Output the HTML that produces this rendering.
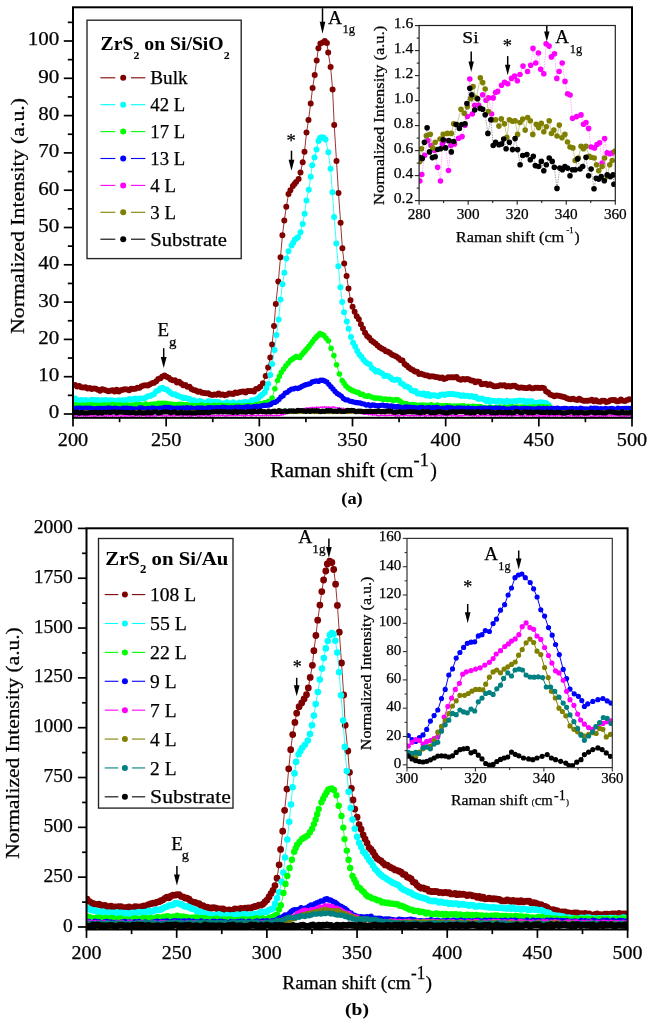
<!DOCTYPE html><html><head><meta charset="utf-8"><title>ZrS2 Raman spectra</title><style>html,body{margin:0;padding:0;background:#fff;width:651px;height:1024px;overflow:hidden}svg{display:block}</style></head><body><svg width="651" height="1024" viewBox="0 0 651 1024" font-family="'Liberation Serif', 'DejaVu Serif', serif"><style>text{stroke:#000;stroke-width:0.25px}text[font-weight=bold]{stroke-width:0.05px}</style><rect width="651" height="1024" fill="#fff"/><defs><clipPath id="ca"><rect x="73" y="7.3" width="559" height="412.0"/></clipPath><clipPath id="cb"><rect x="86.5" y="528.3" width="541.1" height="402.70000000000005"/></clipPath><clipPath id="cia"><rect x="419.1" y="25.5" width="196.19999999999993" height="175.2"/></clipPath><clipPath id="cib"><rect x="407.0" y="538.4" width="205.29999999999995" height="229.20000000000005"/></clipPath></defs><g clip-path="url(#ca)"><path d="M73 384.95 L75.08 385.11 L77.16 386.61 L79.24 385.96 L81.32 387.34 L83.4 387.41 L85.48 387.21 L87.56 388.53 L89.64 388 L91.72 389.04 L93.8 388.52 L95.88 388.77 L97.96 389.65 L100.04 390.66 L102.12 389.35 L104.2 389.66 L106.28 390.57 L108.36 391.31 L110.44 390.66 L112.52 390.34 L114.6 391.54 L116.68 389.73 L118.76 391.39 L120.84 390.18 L122.92 389.64 L125 389.34 L127.08 389.47 L129.16 390.23 L131.24 388.63 L133.32 389.03 L135.4 388.75 L137.48 387.82 L139.56 387.78 L141.64 386.22 L143.72 385.57 L145.8 385.21 L147.88 385.52 L149.96 384.37 L152.04 383.23 L154.12 382.86 L156.2 381.17 L158.28 379.08 L160.36 378.32 L162.44 376.61 L164.52 375.49 L166.6 376.69 L168.68 377.79 L170.76 379.59 L172.84 380.24 L174.92 380.29 L177 382.61 L179.08 381.82 L181.16 383.42 L183.24 385.13 L185.32 384.96 L187.4 386.68 L189.48 386.82 L191.56 388.96 L193.64 389.99 L195.72 390.43 L197.8 391.87 L199.88 391.58 L201.96 392.73 L204.04 392.89 L206.12 393.22 L208.2 393.33 L210.28 394.46 L212.36 395.03 L214.44 394.45 L216.52 394.87 L218.6 393.58 L220.68 394.78 L222.76 394.58 L224.84 395.19 L226.92 394.77 L229 393.61 L231.08 393.64 L233.16 393.96 L235.24 392.42 L237.32 393.04 L239.4 392.21 L241.48 391.84 L243.56 391.46 L245.64 392.6 L247.72 391.06 L249.8 391.02 L251.88 390.94 L253.96 391.53 L256.04 389.07 L258.12 388.42 L260.2 386.66 L262.9 383.2 L265.7 375.9 L268.1 367.6 L270.3 357.4 L272.1 344.5 L274 326 L275.8 304 L278.3 281.6 L280.5 257.3 L282.4 235.3 L284.3 220.5 L286.3 206.8 L288.5 194.1 L290.4 190.3 L292.9 185.9 L294.5 184 L296.1 182.1 L298.6 178.9 L300.5 172.5 L302.7 162.2 L304.5 151.8 L306.5 132.6 L308.5 120.1 L310.7 103.4 L312.6 87.9 L314.7 74.9 L316.7 60.4 L318.4 48.2 L320.4 43.6 L322.7 42.4 L324.8 40.9 L326.9 42.9 L328.2 52.6 L330.6 67.1 L332.6 89.4 L334.2 125 L336.5 161.1 L338.5 192.9 L340.6 222.8 L342.4 248.2 L344.2 263.5 L346.6 275.9 L348.5 288.5 L350.5 300.3 L352.58 306.69 L354.66 311.63 L356.74 316.31 L358.82 319.3 L360.9 324.18 L362.98 328.5 L365.06 332.69 L367.14 336.05 L369.22 337.71 L371.3 340.59 L373.38 342.1 L375.46 343.5 L377.54 345.45 L379.62 347.35 L381.7 348.39 L383.78 349.54 L385.86 351.17 L387.94 351.87 L390.02 353.06 L392.1 354.63 L394.18 355.44 L396.26 356.49 L398.34 358.09 L400.42 359.95 L402.5 360.52 L404.58 364.03 L406.66 365.6 L408.74 367.55 L410.82 369.12 L412.9 370.04 L414.98 371.39 L417.06 371.84 L419.14 373.94 L421.22 373.83 L423.3 374.61 L425.38 375.3 L427.46 375.62 L429.54 376.38 L431.62 376.21 L433.7 376.48 L435.78 377.05 L437.86 377.21 L439.94 378 L442.02 377.52 L444.1 379.04 L446.18 378.35 L448.26 377.24 L450.34 377.27 L452.42 377.28 L454.5 377.14 L456.58 377.05 L458.66 378.92 L460.74 379.64 L462.82 379.01 L464.9 379.47 L466.98 379.08 L469.06 379.52 L471.14 380.41 L473.22 380.66 L475.3 382.2 L477.38 381.4 L479.46 381.74 L481.54 384.21 L483.62 383.98 L485.7 383.84 L487.78 385.04 L489.86 384.15 L491.94 385.29 L494.02 386.32 L496.1 386.23 L498.18 386.01 L500.26 385.21 L502.34 385.49 L504.42 385.16 L506.5 386.43 L508.58 386.02 L510.66 386.58 L512.74 385.75 L514.82 385.72 L516.9 387.09 L518.98 387.64 L521.06 387.57 L523.14 387.67 L525.22 387.92 L527.3 388.06 L529.38 387.32 L531.46 388.19 L533.54 388.15 L535.62 387.79 L537.7 387.68 L539.78 387.94 L541.86 387.67 L543.94 388.3 L546.02 391.34 L548.1 392.6 L550.18 394.42 L552.26 395.37 L554.34 396.15 L556.42 395.51 L558.5 395.74 L560.58 396.27 L562.66 396.73 L564.74 397.14 L566.82 398.25 L568.9 399.07 L570.98 399.22 L573.06 398.77 L575.14 399.39 L577.22 399.95 L579.3 398.72 L581.38 400.05 L583.46 400.73 L585.54 400.66 L587.62 400.77 L589.7 400.38 L591.78 399.87 L593.86 401.19 L595.94 400.36 L598.02 401.39 L600.1 401.82 L602.18 400.76 L604.26 400.86 L606.34 401.94 L608.42 401.39 L610.5 400.17 L612.58 399.98 L614.66 399.92 L616.74 401.32 L618.82 401.02 L620.9 399.54 L622.98 400.74 L625.06 400.88 L627.14 400.07 L629.22 399.3 L631.3 399.53" fill="none" stroke="#800000" stroke-width="0.8"/><path d="M73 384.95h0M75.08 385.11h0M77.16 386.61h0M79.24 385.96h0M81.32 387.34h0M83.4 387.41h0M85.48 387.21h0M87.56 388.53h0M89.64 388h0M91.72 389.04h0M93.8 388.52h0M95.88 388.77h0M97.96 389.65h0M100.04 390.66h0M102.12 389.35h0M104.2 389.66h0M106.28 390.57h0M108.36 391.31h0M110.44 390.66h0M112.52 390.34h0M114.6 391.54h0M116.68 389.73h0M118.76 391.39h0M120.84 390.18h0M122.92 389.64h0M125 389.34h0M127.08 389.47h0M129.16 390.23h0M131.24 388.63h0M133.32 389.03h0M135.4 388.75h0M137.48 387.82h0M139.56 387.78h0M141.64 386.22h0M143.72 385.57h0M145.8 385.21h0M147.88 385.52h0M149.96 384.37h0M152.04 383.23h0M154.12 382.86h0M156.2 381.17h0M158.28 379.08h0M160.36 378.32h0M162.44 376.61h0M164.52 375.49h0M166.6 376.69h0M168.68 377.79h0M170.76 379.59h0M172.84 380.24h0M174.92 380.29h0M177 382.61h0M179.08 381.82h0M181.16 383.42h0M183.24 385.13h0M185.32 384.96h0M187.4 386.68h0M189.48 386.82h0M191.56 388.96h0M193.64 389.99h0M195.72 390.43h0M197.8 391.87h0M199.88 391.58h0M201.96 392.73h0M204.04 392.89h0M206.12 393.22h0M208.2 393.33h0M210.28 394.46h0M212.36 395.03h0M214.44 394.45h0M216.52 394.87h0M218.6 393.58h0M220.68 394.78h0M222.76 394.58h0M224.84 395.19h0M226.92 394.77h0M229 393.61h0M231.08 393.64h0M233.16 393.96h0M235.24 392.42h0M237.32 393.04h0M239.4 392.21h0M241.48 391.84h0M243.56 391.46h0M245.64 392.6h0M247.72 391.06h0M249.8 391.02h0M251.88 390.94h0M253.96 391.53h0M256.04 389.07h0M258.12 388.42h0M260.2 386.66h0M262.9 383.2h0M265.7 375.9h0M268.1 367.6h0M270.3 357.4h0M272.1 344.5h0M274 326h0M275.8 304h0M278.3 281.6h0M280.5 257.3h0M282.4 235.3h0M284.3 220.5h0M286.3 206.8h0M288.5 194.1h0M290.4 190.3h0M292.9 185.9h0M294.5 184h0M296.1 182.1h0M298.6 178.9h0M300.5 172.5h0M302.7 162.2h0M304.5 151.8h0M306.5 132.6h0M308.5 120.1h0M310.7 103.4h0M312.6 87.9h0M314.7 74.9h0M316.7 60.4h0M318.4 48.2h0M320.4 43.6h0M322.7 42.4h0M324.8 40.9h0M326.9 42.9h0M328.2 52.6h0M330.6 67.1h0M332.6 89.4h0M334.2 125h0M336.5 161.1h0M338.5 192.9h0M340.6 222.8h0M342.4 248.2h0M344.2 263.5h0M346.6 275.9h0M348.5 288.5h0M350.5 300.3h0M352.58 306.69h0M354.66 311.63h0M356.74 316.31h0M358.82 319.3h0M360.9 324.18h0M362.98 328.5h0M365.06 332.69h0M367.14 336.05h0M369.22 337.71h0M371.3 340.59h0M373.38 342.1h0M375.46 343.5h0M377.54 345.45h0M379.62 347.35h0M381.7 348.39h0M383.78 349.54h0M385.86 351.17h0M387.94 351.87h0M390.02 353.06h0M392.1 354.63h0M394.18 355.44h0M396.26 356.49h0M398.34 358.09h0M400.42 359.95h0M402.5 360.52h0M404.58 364.03h0M406.66 365.6h0M408.74 367.55h0M410.82 369.12h0M412.9 370.04h0M414.98 371.39h0M417.06 371.84h0M419.14 373.94h0M421.22 373.83h0M423.3 374.61h0M425.38 375.3h0M427.46 375.62h0M429.54 376.38h0M431.62 376.21h0M433.7 376.48h0M435.78 377.05h0M437.86 377.21h0M439.94 378h0M442.02 377.52h0M444.1 379.04h0M446.18 378.35h0M448.26 377.24h0M450.34 377.27h0M452.42 377.28h0M454.5 377.14h0M456.58 377.05h0M458.66 378.92h0M460.74 379.64h0M462.82 379.01h0M464.9 379.47h0M466.98 379.08h0M469.06 379.52h0M471.14 380.41h0M473.22 380.66h0M475.3 382.2h0M477.38 381.4h0M479.46 381.74h0M481.54 384.21h0M483.62 383.98h0M485.7 383.84h0M487.78 385.04h0M489.86 384.15h0M491.94 385.29h0M494.02 386.32h0M496.1 386.23h0M498.18 386.01h0M500.26 385.21h0M502.34 385.49h0M504.42 385.16h0M506.5 386.43h0M508.58 386.02h0M510.66 386.58h0M512.74 385.75h0M514.82 385.72h0M516.9 387.09h0M518.98 387.64h0M521.06 387.57h0M523.14 387.67h0M525.22 387.92h0M527.3 388.06h0M529.38 387.32h0M531.46 388.19h0M533.54 388.15h0M535.62 387.79h0M537.7 387.68h0M539.78 387.94h0M541.86 387.67h0M543.94 388.3h0M546.02 391.34h0M548.1 392.6h0M550.18 394.42h0M552.26 395.37h0M554.34 396.15h0M556.42 395.51h0M558.5 395.74h0M560.58 396.27h0M562.66 396.73h0M564.74 397.14h0M566.82 398.25h0M568.9 399.07h0M570.98 399.22h0M573.06 398.77h0M575.14 399.39h0M577.22 399.95h0M579.3 398.72h0M581.38 400.05h0M583.46 400.73h0M585.54 400.66h0M587.62 400.77h0M589.7 400.38h0M591.78 399.87h0M593.86 401.19h0M595.94 400.36h0M598.02 401.39h0M600.1 401.82h0M602.18 400.76h0M604.26 400.86h0M606.34 401.94h0M608.42 401.39h0M610.5 400.17h0M612.58 399.98h0M614.66 399.92h0M616.74 401.32h0M618.82 401.02h0M620.9 399.54h0M622.98 400.74h0M625.06 400.88h0M627.14 400.07h0M629.22 399.3h0M631.3 399.53h0" stroke="#800000" stroke-width="6" stroke-linecap="round" fill="none"/></g><g clip-path="url(#ca)"><path d="M73 398.46 L75.08 398.47 L77.16 400.62 L79.24 400.21 L81.32 400.1 L83.4 400.99 L85.48 400.06 L87.56 401.01 L89.64 400.99 L91.72 399.83 L93.8 399.99 L95.88 400.14 L97.96 400.11 L100.04 400.87 L102.12 400.2 L104.2 400.5 L106.28 399.9 L108.36 401.44 L110.44 400.3 L112.52 400.49 L114.6 400.72 L116.68 401.34 L118.76 400.35 L120.84 401.28 L122.92 400.31 L125 400.24 L127.08 400.09 L129.16 398.94 L131.24 399.65 L133.32 399 L135.4 398.51 L137.48 399.96 L139.56 398.57 L141.64 398.62 L143.72 398.46 L145.8 397.46 L147.88 396.33 L149.96 396.05 L152.04 394.89 L154.12 394.1 L156.2 391.25 L158.28 390.5 L160.36 388.38 L162.44 387.74 L164.52 389.05 L166.6 389.47 L168.68 391.13 L170.76 392.88 L172.84 394.19 L174.92 394.25 L177 395.59 L179.08 396.37 L181.16 397.09 L183.24 397.93 L185.32 397.93 L187.4 398.57 L189.48 398.94 L191.56 400.34 L193.64 400.34 L195.72 401.17 L197.8 401.78 L199.88 400.89 L201.96 401.68 L204.04 402.61 L206.12 402.57 L208.2 401.33 L210.28 401.47 L212.36 402.27 L214.44 401.7 L216.52 402.2 L218.6 402.03 L220.68 403.34 L222.76 403.57 L224.84 403.79 L226.92 402.31 L229 403.43 L231.08 403.32 L233.16 402.29 L235.24 403.77 L237.32 403.94 L239.4 402.44 L241.48 403.66 L243.56 402.2 L245.64 402.03 L247.72 402.68 L249.8 402.02 L251.88 400.33 L253.96 400.44 L256.04 399.58 L258.12 398.21 L260.2 396.37 L262.28 394.5 L264.7 392.4 L266.4 388.25 L268.1 384.1 L270.3 374.9 L272.1 363.9 L274.5 350 L276.4 334.9 L278.6 319.6 L280.5 299.4 L282.5 284.2 L284.4 272.8 L286.3 258.5 L288.5 251.2 L291.6 245.5 L293.2 242.65 L294.8 239.8 L296.4 238.5 L298 237.2 L300.5 232.2 L302.7 223.9 L304.6 213.8 L306.5 200.4 L308.8 189.7 L310.7 176.8 L312.2 165.3 L314.5 157.6 L316.5 149.5 L318.5 141 L320 138 L321.5 137.2 L323.5 137.5 L325.5 139.5 L328.3 152.2 L330.6 168.8 L332.4 192.3 L334.1 216.9 L336.3 243.6 L338.3 266.3 L340.4 287.2 L342.2 302.1 L344 312.3 L346.8 321.5 L348.6 328.8 L351 337.1 L353.08 342.72 L355.16 346.44 L357.24 351.11 L359.32 354.39 L361.4 356.78 L363.48 359.78 L365.56 361.94 L367.64 363.43 L369.72 364.37 L371.8 368.05 L373.88 369.49 L375.96 371.44 L378.04 371 L380.12 372.61 L382.2 373.45 L384.28 376.07 L386.36 375.83 L388.44 376.32 L390.52 377.68 L392.6 379.42 L394.68 379.92 L396.76 379.48 L398.84 380.02 L400.92 383.28 L403 384.31 L405.08 386.3 L407.16 386.41 L409.24 387.65 L411.32 390.22 L413.4 391 L415.48 391.05 L417.56 393.4 L419.64 393.42 L421.72 394.37 L423.8 393.56 L425.88 395.45 L427.96 394.09 L430.04 395.89 L432.12 395.28 L434.2 395.27 L436.28 395.73 L438.36 396.33 L440.44 394.86 L442.52 394.43 L444.6 395.07 L446.68 394.34 L448.76 393.93 L450.84 393.97 L452.92 393.92 L455 394.4 L457.08 394.8 L459.16 394.97 L461.24 396.05 L463.32 395.3 L465.4 396.06 L467.48 395.75 L469.56 396.43 L471.64 396.11 L473.72 396.91 L475.8 396.78 L477.88 398.68 L479.96 398.79 L482.04 398.55 L484.12 399.6 L486.2 400.99 L488.28 399.82 L490.36 401.64 L492.44 400.86 L494.52 400.99 L496.6 401.67 L498.68 400.79 L500.76 401.01 L502.84 401.38 L504.92 401.96 L507 400.69 L509.08 401.66 L511.16 401.41 L513.24 401.28 L515.32 400.93 L517.4 400.92 L519.48 400.45 L521.56 400.7 L523.64 400.69 L525.72 402.14 L527.8 401.28 L529.88 401.2 L531.96 401.15 L534.04 402.78 L536.12 402.94 L538.2 402.78 L540.28 402.25 L542.36 402.41 L544.44 402.75 L546.52 403.34 L548.6 405.06" fill="none" stroke="#00FFFF" stroke-width="0.8"/><path d="M73 398.46h0M75.08 398.47h0M77.16 400.62h0M79.24 400.21h0M81.32 400.1h0M83.4 400.99h0M85.48 400.06h0M87.56 401.01h0M89.64 400.99h0M91.72 399.83h0M93.8 399.99h0M95.88 400.14h0M97.96 400.11h0M100.04 400.87h0M102.12 400.2h0M104.2 400.5h0M106.28 399.9h0M108.36 401.44h0M110.44 400.3h0M112.52 400.49h0M114.6 400.72h0M116.68 401.34h0M118.76 400.35h0M120.84 401.28h0M122.92 400.31h0M125 400.24h0M127.08 400.09h0M129.16 398.94h0M131.24 399.65h0M133.32 399h0M135.4 398.51h0M137.48 399.96h0M139.56 398.57h0M141.64 398.62h0M143.72 398.46h0M145.8 397.46h0M147.88 396.33h0M149.96 396.05h0M152.04 394.89h0M154.12 394.1h0M156.2 391.25h0M158.28 390.5h0M160.36 388.38h0M162.44 387.74h0M164.52 389.05h0M166.6 389.47h0M168.68 391.13h0M170.76 392.88h0M172.84 394.19h0M174.92 394.25h0M177 395.59h0M179.08 396.37h0M181.16 397.09h0M183.24 397.93h0M185.32 397.93h0M187.4 398.57h0M189.48 398.94h0M191.56 400.34h0M193.64 400.34h0M195.72 401.17h0M197.8 401.78h0M199.88 400.89h0M201.96 401.68h0M204.04 402.61h0M206.12 402.57h0M208.2 401.33h0M210.28 401.47h0M212.36 402.27h0M214.44 401.7h0M216.52 402.2h0M218.6 402.03h0M220.68 403.34h0M222.76 403.57h0M224.84 403.79h0M226.92 402.31h0M229 403.43h0M231.08 403.32h0M233.16 402.29h0M235.24 403.77h0M237.32 403.94h0M239.4 402.44h0M241.48 403.66h0M243.56 402.2h0M245.64 402.03h0M247.72 402.68h0M249.8 402.02h0M251.88 400.33h0M253.96 400.44h0M256.04 399.58h0M258.12 398.21h0M260.2 396.37h0M262.28 394.5h0M264.7 392.4h0M266.4 388.25h0M268.1 384.1h0M270.3 374.9h0M272.1 363.9h0M274.5 350h0M276.4 334.9h0M278.6 319.6h0M280.5 299.4h0M282.5 284.2h0M284.4 272.8h0M286.3 258.5h0M288.5 251.2h0M291.6 245.5h0M293.2 242.65h0M294.8 239.8h0M296.4 238.5h0M298 237.2h0M300.5 232.2h0M302.7 223.9h0M304.6 213.8h0M306.5 200.4h0M308.8 189.7h0M310.7 176.8h0M312.2 165.3h0M314.5 157.6h0M316.5 149.5h0M318.5 141h0M320 138h0M321.5 137.2h0M323.5 137.5h0M325.5 139.5h0M328.3 152.2h0M330.6 168.8h0M332.4 192.3h0M334.1 216.9h0M336.3 243.6h0M338.3 266.3h0M340.4 287.2h0M342.2 302.1h0M344 312.3h0M346.8 321.5h0M348.6 328.8h0M351 337.1h0M353.08 342.72h0M355.16 346.44h0M357.24 351.11h0M359.32 354.39h0M361.4 356.78h0M363.48 359.78h0M365.56 361.94h0M367.64 363.43h0M369.72 364.37h0M371.8 368.05h0M373.88 369.49h0M375.96 371.44h0M378.04 371h0M380.12 372.61h0M382.2 373.45h0M384.28 376.07h0M386.36 375.83h0M388.44 376.32h0M390.52 377.68h0M392.6 379.42h0M394.68 379.92h0M396.76 379.48h0M398.84 380.02h0M400.92 383.28h0M403 384.31h0M405.08 386.3h0M407.16 386.41h0M409.24 387.65h0M411.32 390.22h0M413.4 391h0M415.48 391.05h0M417.56 393.4h0M419.64 393.42h0M421.72 394.37h0M423.8 393.56h0M425.88 395.45h0M427.96 394.09h0M430.04 395.89h0M432.12 395.28h0M434.2 395.27h0M436.28 395.73h0M438.36 396.33h0M440.44 394.86h0M442.52 394.43h0M444.6 395.07h0M446.68 394.34h0M448.76 393.93h0M450.84 393.97h0M452.92 393.92h0M455 394.4h0M457.08 394.8h0M459.16 394.97h0M461.24 396.05h0M463.32 395.3h0M465.4 396.06h0M467.48 395.75h0M469.56 396.43h0M471.64 396.11h0M473.72 396.91h0M475.8 396.78h0M477.88 398.68h0M479.96 398.79h0M482.04 398.55h0M484.12 399.6h0M486.2 400.99h0M488.28 399.82h0M490.36 401.64h0M492.44 400.86h0M494.52 400.99h0M496.6 401.67h0M498.68 400.79h0M500.76 401.01h0M502.84 401.38h0M504.92 401.96h0M507 400.69h0M509.08 401.66h0M511.16 401.41h0M513.24 401.28h0M515.32 400.93h0M517.4 400.92h0M519.48 400.45h0M521.56 400.7h0M523.64 400.69h0M525.72 402.14h0M527.8 401.28h0M529.88 401.2h0M531.96 401.15h0M534.04 402.78h0M536.12 402.94h0M538.2 402.78h0M540.28 402.25h0M542.36 402.41h0M544.44 402.75h0M546.52 403.34h0M548.6 405.06h0" stroke="#00FFFF" stroke-width="6" stroke-linecap="round" fill="none"/></g><g clip-path="url(#ca)"><path d="M73 404.95 L75.08 404.8 L77.16 405.54 L79.24 405.59 L81.32 405.2 L83.4 404.94 L85.48 405.7 L87.56 405.08 L89.64 405.16 L91.72 404.85 L93.8 405.27 L95.88 405.4 L97.96 405.46 L100.04 405.2 L102.12 405.48 L104.2 404.95 L106.28 405.19 L108.36 404.99 L110.44 405.27 L112.52 404.89 L114.6 404.84 L116.68 405.1 L118.76 405 L120.84 405.33 L122.92 405.24 L125 405.44 L127.08 405.32 L129.16 405.35 L131.24 405.49 L133.32 404.97 L135.4 404.88 L137.48 405.52 L139.56 404.65 L141.64 405.1 L143.72 404.86 L145.8 404.11 L147.88 404.74 L149.96 404.64 L152.04 404.22 L154.12 404.17 L156.2 404.1 L158.28 403.27 L160.36 403.49 L162.44 403.26 L164.52 403.38 L166.6 403.62 L168.68 404.06 L170.76 404.14 L172.84 404.61 L174.92 404.55 L177 404.72 L179.08 404.41 L181.16 404.37 L183.24 404.63 L185.32 405.01 L187.4 404.91 L189.48 405.8 L191.56 405.57 L193.64 405.66 L195.72 405.67 L197.8 405.75 L199.88 405.57 L201.96 405.1 L204.04 405.91 L206.12 405.88 L208.2 405.65 L210.28 405.7 L212.36 405.85 L214.44 405.27 L216.52 405.96 L218.6 405.49 L220.68 405.33 L222.76 405.54 L224.84 406.02 L226.92 405.51 L229 406.06 L231.08 406.32 L233.16 405.85 L235.24 405.76 L237.32 405.87 L239.4 406.1 L241.48 406.2 L243.56 406.06 L245.64 406.11 L247.72 405.56 L249.8 405.65 L251.88 405.44 L253.96 405.58 L256.04 404.8 L258.12 404.71 L260.2 403.81 L262.28 403.45 L264.36 402.85 L266.44 402.44 L268.52 401.58 L272.1 398 L274.9 388.8 L277.6 380.5 L279.45 376.35 L281.3 372.2 L283.6 368.95 L285.9 365.7 L288.25 362.95 L290.6 360.2 L292.43 358.97 L294.27 357.73 L296.1 356.5 L297.95 356.95 L299.8 357.4 L301.65 355.1 L303.5 352.8 L305.33 350.67 L307.17 348.53 L309 346.4 L310.83 343.93 L312.67 341.47 L314.5 339 L316.33 337.17 L318.17 335.33 L320 333.5 L321.85 334.4 L323.7 335.3 L326 338.05 L328.3 340.8 L331.1 348.2 L333.9 355.6 L336.6 364.8 L339.4 374 L342.2 380.5 L344.05 383.25 L345.9 386 L347.98 387.85 L350.06 389.14 L352.14 390.41 L354.22 391.23 L356.3 392.11 L358.38 392.58 L360.46 394.14 L362.54 394.23 L364.62 395.76 L366.7 396.23 L368.78 395.82 L370.86 396.77 L372.94 397.54 L375.02 398.1 L377.1 397.99 L379.18 398.21 L381.26 398.56 L383.34 399.5 L385.42 398.94 L387.5 399.49 L389.58 399.23 L391.66 399.79 L393.74 400.4 L395.82 399.44 L397.9 399.83 L399.98 400.97 L402.06 402.89 L404.14 403.64 L406.22 403.59 L408.3 404.68 L410.38 404.69 L412.46 404.65 L414.54 404.9 L416.62 405.39 L418.7 405.35 L420.78 405.2 L422.86 405.04 L424.94 405.24 L427.02 405.22 L429.1 405.74 L431.18 404.9 L433.26 405.65 L435.34 405.74 L437.42 405.09 L439.5 405.97 L441.58 405.83 L443.66 406.09 L445.74 405.55 L447.82 405.7 L449.9 405.79 L451.98 406.47 L454.06 406.13 L456.14 405.97 L458.22 406.11 L460.3 406.03 L462.38 405.87 L464.46 406 L466.54 406.8 L468.62 406.32 L470.7 407.04 L472.78 406.42 L474.86 406.51 L476.94 406.82 L479.02 406.57 L481.1 406.83 L483.18 407.48 L485.26 407.47 L487.34 407.47 L489.42 407.36 L491.5 407.71 L493.58 407.81 L495.66 407.48 L497.74 407.72 L499.82 407.03 L501.9 407.69 L503.98 407.39 L506.06 407.67 L508.14 407.54 L510.22 407.16 L512.3 406.9 L514.38 407.76 L516.46 406.94 L518.54 407.26 L520.62 407.11 L522.7 407.04 L524.78 407.46 L526.86 407.68 L528.94 406.94 L531.02 407.32 L533.1 406.94 L535.18 407.18 L537.26 406.99 L539.34 406.74 L541.42 406.72 L543.5 406.74 L545.58 407.42 L547.66 407.13 L549.74 407.27 L551.82 408.37" fill="none" stroke="#00FF00" stroke-width="0.8"/><path d="M73 404.95h0M75.08 404.8h0M77.16 405.54h0M79.24 405.59h0M81.32 405.2h0M83.4 404.94h0M85.48 405.7h0M87.56 405.08h0M89.64 405.16h0M91.72 404.85h0M93.8 405.27h0M95.88 405.4h0M97.96 405.46h0M100.04 405.2h0M102.12 405.48h0M104.2 404.95h0M106.28 405.19h0M108.36 404.99h0M110.44 405.27h0M112.52 404.89h0M114.6 404.84h0M116.68 405.1h0M118.76 405h0M120.84 405.33h0M122.92 405.24h0M125 405.44h0M127.08 405.32h0M129.16 405.35h0M131.24 405.49h0M133.32 404.97h0M135.4 404.88h0M137.48 405.52h0M139.56 404.65h0M141.64 405.1h0M143.72 404.86h0M145.8 404.11h0M147.88 404.74h0M149.96 404.64h0M152.04 404.22h0M154.12 404.17h0M156.2 404.1h0M158.28 403.27h0M160.36 403.49h0M162.44 403.26h0M164.52 403.38h0M166.6 403.62h0M168.68 404.06h0M170.76 404.14h0M172.84 404.61h0M174.92 404.55h0M177 404.72h0M179.08 404.41h0M181.16 404.37h0M183.24 404.63h0M185.32 405.01h0M187.4 404.91h0M189.48 405.8h0M191.56 405.57h0M193.64 405.66h0M195.72 405.67h0M197.8 405.75h0M199.88 405.57h0M201.96 405.1h0M204.04 405.91h0M206.12 405.88h0M208.2 405.65h0M210.28 405.7h0M212.36 405.85h0M214.44 405.27h0M216.52 405.96h0M218.6 405.49h0M220.68 405.33h0M222.76 405.54h0M224.84 406.02h0M226.92 405.51h0M229 406.06h0M231.08 406.32h0M233.16 405.85h0M235.24 405.76h0M237.32 405.87h0M239.4 406.1h0M241.48 406.2h0M243.56 406.06h0M245.64 406.11h0M247.72 405.56h0M249.8 405.65h0M251.88 405.44h0M253.96 405.58h0M256.04 404.8h0M258.12 404.71h0M260.2 403.81h0M262.28 403.45h0M264.36 402.85h0M266.44 402.44h0M268.52 401.58h0M272.1 398h0M274.9 388.8h0M277.6 380.5h0M279.45 376.35h0M281.3 372.2h0M283.6 368.95h0M285.9 365.7h0M288.25 362.95h0M290.6 360.2h0M292.43 358.97h0M294.27 357.73h0M296.1 356.5h0M297.95 356.95h0M299.8 357.4h0M301.65 355.1h0M303.5 352.8h0M305.33 350.67h0M307.17 348.53h0M309 346.4h0M310.83 343.93h0M312.67 341.47h0M314.5 339h0M316.33 337.17h0M318.17 335.33h0M320 333.5h0M321.85 334.4h0M323.7 335.3h0M326 338.05h0M328.3 340.8h0M331.1 348.2h0M333.9 355.6h0M336.6 364.8h0M339.4 374h0M342.2 380.5h0M344.05 383.25h0M345.9 386h0M347.98 387.85h0M350.06 389.14h0M352.14 390.41h0M354.22 391.23h0M356.3 392.11h0M358.38 392.58h0M360.46 394.14h0M362.54 394.23h0M364.62 395.76h0M366.7 396.23h0M368.78 395.82h0M370.86 396.77h0M372.94 397.54h0M375.02 398.1h0M377.1 397.99h0M379.18 398.21h0M381.26 398.56h0M383.34 399.5h0M385.42 398.94h0M387.5 399.49h0M389.58 399.23h0M391.66 399.79h0M393.74 400.4h0M395.82 399.44h0M397.9 399.83h0M399.98 400.97h0M402.06 402.89h0M404.14 403.64h0M406.22 403.59h0M408.3 404.68h0M410.38 404.69h0M412.46 404.65h0M414.54 404.9h0M416.62 405.39h0M418.7 405.35h0M420.78 405.2h0M422.86 405.04h0M424.94 405.24h0M427.02 405.22h0M429.1 405.74h0M431.18 404.9h0M433.26 405.65h0M435.34 405.74h0M437.42 405.09h0M439.5 405.97h0M441.58 405.83h0M443.66 406.09h0M445.74 405.55h0M447.82 405.7h0M449.9 405.79h0M451.98 406.47h0M454.06 406.13h0M456.14 405.97h0M458.22 406.11h0M460.3 406.03h0M462.38 405.87h0M464.46 406h0M466.54 406.8h0M468.62 406.32h0M470.7 407.04h0M472.78 406.42h0M474.86 406.51h0M476.94 406.82h0M479.02 406.57h0M481.1 406.83h0M483.18 407.48h0M485.26 407.47h0M487.34 407.47h0M489.42 407.36h0M491.5 407.71h0M493.58 407.81h0M495.66 407.48h0M497.74 407.72h0M499.82 407.03h0M501.9 407.69h0M503.98 407.39h0M506.06 407.67h0M508.14 407.54h0M510.22 407.16h0M512.3 406.9h0M514.38 407.76h0M516.46 406.94h0M518.54 407.26h0M520.62 407.11h0M522.7 407.04h0M524.78 407.46h0M526.86 407.68h0M528.94 406.94h0M531.02 407.32h0M533.1 406.94h0M535.18 407.18h0M537.26 406.99h0M539.34 406.74h0M541.42 406.72h0M543.5 406.74h0M545.58 407.42h0M547.66 407.13h0M549.74 407.27h0M551.82 408.37h0" stroke="#00FF00" stroke-width="5.6" stroke-linecap="round" fill="none"/></g><g clip-path="url(#ca)"><path d="M73 409 L75.08 408.45 L77.16 408.14 L79.24 408.19 L81.32 408.09 L83.4 408.34 L85.48 408.09 L87.56 408.24 L89.64 408.26 L91.72 408.57 L93.8 408.89 L95.88 408.75 L97.96 408.41 L100.04 408.41 L102.12 408.52 L104.2 408.38 L106.28 408.34 L108.36 408.06 L110.44 408.28 L112.52 408.97 L114.6 408.13 L116.68 408.5 L118.76 408.63 L120.84 408.86 L122.92 408.22 L125 408.27 L127.08 408.25 L129.16 408.4 L131.24 408.45 L133.32 408.95 L135.4 408.85 L137.48 408.87 L139.56 408.02 L141.64 408.03 L143.72 408.71 L145.8 408.9 L147.88 408.47 L149.96 408.59 L152.04 407.89 L154.12 408.17 L156.2 408.59 L158.28 408.38 L160.36 408.3 L162.44 408.3 L164.52 407.57 L166.6 407.46 L168.68 407.53 L170.76 407.93 L172.84 408.12 L174.92 408.4 L177 408.21 L179.08 408.16 L181.16 408.31 L183.24 408.03 L185.32 408.15 L187.4 407.67 L189.48 408.44 L191.56 407.92 L193.64 408.63 L195.72 408.39 L197.8 408.07 L199.88 407.93 L201.96 408.01 L204.04 408.35 L206.12 408.36 L208.2 407.73 L210.28 407.64 L212.36 408.05 L214.44 408.07 L216.52 407.82 L218.6 407.61 L220.68 407.95 L222.76 407.31 L224.84 407.56 L226.92 407.67 L229 408.12 L231.08 407.76 L233.16 407.95 L235.24 407.5 L237.32 407.21 L239.4 407.18 L241.48 407.85 L243.56 407.55 L245.64 407.1 L247.72 406.77 L249.8 407.2 L251.88 407.18 L253.96 406.71 L256.04 406.33 L258.12 406.53 L260.2 406.57 L262.28 405.66 L264.36 405.25 L266.44 405.34 L268.52 405.16 L270.6 404.38 L272.68 402.86 L274.76 402.42 L276.84 401.32 L278.92 399.4 L281 397.05 L283.08 395.76 L285.16 393.11 L287.24 392.33 L289.32 390.45 L291.4 389.14 L293.48 388.91 L295.56 388.17 L297.64 388.54 L299.72 387.81 L301.8 386.51 L303.88 385.52 L305.96 384.75 L308.04 384.16 L310.12 383.61 L312.2 381.97 L314.28 381.38 L316.36 380.89 L318.44 381.39 L320.52 380.31 L322.6 380.28 L324.68 380.97 L326.76 381.98 L328.84 384.37 L330.92 386.77 L333 389.03 L335.08 391.38 L337.16 393.39 L339.24 394.68 L341.32 396.08 L343.4 398.38 L345.48 399.73 L347.56 399.84 L349.64 401.1 L351.72 401.45 L353.8 402.08 L355.88 402.57 L357.96 402.79 L360.04 403 L362.12 403.65 L364.2 404.1 L366.28 405.08 L368.36 404.63 L370.44 405.77 L372.52 405.03 L374.6 405.2 L376.68 405.68 L378.76 405.7 L380.84 405.33 L382.92 405.09 L385 405.72 L387.08 405.82 L389.16 406.57 L391.24 406.04 L393.32 406.42 L395.4 407.15 L397.48 406.49 L399.56 407.07 L401.64 407.68 L403.72 407.78 L405.8 407.07 L407.88 407.09 L409.96 407.14 L412.04 408.03 L414.12 407.39 L416.2 407.9 L418.28 408.08 L420.36 407.54 L422.44 407.5 L424.52 408.21 L426.6 407.89 L428.68 407.56 L430.76 408.04 L432.84 407.66 L434.92 407.65 L437 407.4 L439.08 408.18 L441.16 408.36 L443.24 408.1 L445.32 408.44 L447.4 407.54 L449.48 407.77 L451.56 408.04 L453.64 408.55 L455.72 408.57 L457.8 408.02 L459.88 407.91 L461.96 408.12 L464.04 408.2 L466.12 408.66 L468.2 407.94 L470.28 408.58 L472.36 408.54 L474.44 408.65 L476.52 408.63 L478.6 408.49 L480.68 408.23 L482.76 408.25 L484.84 408.31 L486.92 408.76 L489 408.08 L491.08 408.22 L493.16 408.8 L495.24 408.32 L497.32 408.16 L499.4 408.14 L501.48 408.66 L503.56 408.43 L505.64 409.09 L507.72 408.99 L509.8 409.1 L511.88 408.38 L513.96 408.2 L516.04 408.21 L518.12 408.61 L520.2 408.83 L522.28 408.57 L524.36 408.35 L526.44 408.54 L528.52 408.74 L530.6 408.8 L532.68 408.87 L534.76 408.97 L536.84 408.79 L538.92 408.25 L541 408.97 L543.08 408.43 L545.16 408.7 L547.24 408.51 L549.32 408.88 L551.4 408.34 L553.48 408.39 L555.56 408.39 L557.64 408.3 L559.72 409.03 L561.8 408.73 L563.88 408.48 L565.96 408.55 L568.04 409.14 L570.12 408.66 L572.2 408.39 L574.28 408.97 L576.36 408.81 L578.44 409.15 L580.52 408.26 L582.6 408.64 L584.68 408.98 L586.76 409.01 L588.84 409.08 L590.92 408.21 L593 408.46 L595.08 408.29 L597.16 408.36 L599.24 409.15 L601.32 408.76 L603.4 409.11 L605.48 408.55 L607.56 409.05 L609.64 408.63 L611.72 408.44 L613.8 408.96 L615.88 409.13 L617.96 408.3 L620.04 408.79 L622.12 408.81 L624.2 408.41 L626.28 408.56 L628.36 408.34 L630.44 408.4" fill="none" stroke="#0000FF" stroke-width="0.8"/><path d="M73 409h0M75.08 408.45h0M77.16 408.14h0M79.24 408.19h0M81.32 408.09h0M83.4 408.34h0M85.48 408.09h0M87.56 408.24h0M89.64 408.26h0M91.72 408.57h0M93.8 408.89h0M95.88 408.75h0M97.96 408.41h0M100.04 408.41h0M102.12 408.52h0M104.2 408.38h0M106.28 408.34h0M108.36 408.06h0M110.44 408.28h0M112.52 408.97h0M114.6 408.13h0M116.68 408.5h0M118.76 408.63h0M120.84 408.86h0M122.92 408.22h0M125 408.27h0M127.08 408.25h0M129.16 408.4h0M131.24 408.45h0M133.32 408.95h0M135.4 408.85h0M137.48 408.87h0M139.56 408.02h0M141.64 408.03h0M143.72 408.71h0M145.8 408.9h0M147.88 408.47h0M149.96 408.59h0M152.04 407.89h0M154.12 408.17h0M156.2 408.59h0M158.28 408.38h0M160.36 408.3h0M162.44 408.3h0M164.52 407.57h0M166.6 407.46h0M168.68 407.53h0M170.76 407.93h0M172.84 408.12h0M174.92 408.4h0M177 408.21h0M179.08 408.16h0M181.16 408.31h0M183.24 408.03h0M185.32 408.15h0M187.4 407.67h0M189.48 408.44h0M191.56 407.92h0M193.64 408.63h0M195.72 408.39h0M197.8 408.07h0M199.88 407.93h0M201.96 408.01h0M204.04 408.35h0M206.12 408.36h0M208.2 407.73h0M210.28 407.64h0M212.36 408.05h0M214.44 408.07h0M216.52 407.82h0M218.6 407.61h0M220.68 407.95h0M222.76 407.31h0M224.84 407.56h0M226.92 407.67h0M229 408.12h0M231.08 407.76h0M233.16 407.95h0M235.24 407.5h0M237.32 407.21h0M239.4 407.18h0M241.48 407.85h0M243.56 407.55h0M245.64 407.1h0M247.72 406.77h0M249.8 407.2h0M251.88 407.18h0M253.96 406.71h0M256.04 406.33h0M258.12 406.53h0M260.2 406.57h0M262.28 405.66h0M264.36 405.25h0M266.44 405.34h0M268.52 405.16h0M270.6 404.38h0M272.68 402.86h0M274.76 402.42h0M276.84 401.32h0M278.92 399.4h0M281 397.05h0M283.08 395.76h0M285.16 393.11h0M287.24 392.33h0M289.32 390.45h0M291.4 389.14h0M293.48 388.91h0M295.56 388.17h0M297.64 388.54h0M299.72 387.81h0M301.8 386.51h0M303.88 385.52h0M305.96 384.75h0M308.04 384.16h0M310.12 383.61h0M312.2 381.97h0M314.28 381.38h0M316.36 380.89h0M318.44 381.39h0M320.52 380.31h0M322.6 380.28h0M324.68 380.97h0M326.76 381.98h0M328.84 384.37h0M330.92 386.77h0M333 389.03h0M335.08 391.38h0M337.16 393.39h0M339.24 394.68h0M341.32 396.08h0M343.4 398.38h0M345.48 399.73h0M347.56 399.84h0M349.64 401.1h0M351.72 401.45h0M353.8 402.08h0M355.88 402.57h0M357.96 402.79h0M360.04 403h0M362.12 403.65h0M364.2 404.1h0M366.28 405.08h0M368.36 404.63h0M370.44 405.77h0M372.52 405.03h0M374.6 405.2h0M376.68 405.68h0M378.76 405.7h0M380.84 405.33h0M382.92 405.09h0M385 405.72h0M387.08 405.82h0M389.16 406.57h0M391.24 406.04h0M393.32 406.42h0M395.4 407.15h0M397.48 406.49h0M399.56 407.07h0M401.64 407.68h0M403.72 407.78h0M405.8 407.07h0M407.88 407.09h0M409.96 407.14h0M412.04 408.03h0M414.12 407.39h0M416.2 407.9h0M418.28 408.08h0M420.36 407.54h0M422.44 407.5h0M424.52 408.21h0M426.6 407.89h0M428.68 407.56h0M430.76 408.04h0M432.84 407.66h0M434.92 407.65h0M437 407.4h0M439.08 408.18h0M441.16 408.36h0M443.24 408.1h0M445.32 408.44h0M447.4 407.54h0M449.48 407.77h0M451.56 408.04h0M453.64 408.55h0M455.72 408.57h0M457.8 408.02h0M459.88 407.91h0M461.96 408.12h0M464.04 408.2h0M466.12 408.66h0M468.2 407.94h0M470.28 408.58h0M472.36 408.54h0M474.44 408.65h0M476.52 408.63h0M478.6 408.49h0M480.68 408.23h0M482.76 408.25h0M484.84 408.31h0M486.92 408.76h0M489 408.08h0M491.08 408.22h0M493.16 408.8h0M495.24 408.32h0M497.32 408.16h0M499.4 408.14h0M501.48 408.66h0M503.56 408.43h0M505.64 409.09h0M507.72 408.99h0M509.8 409.1h0M511.88 408.38h0M513.96 408.2h0M516.04 408.21h0M518.12 408.61h0M520.2 408.83h0M522.28 408.57h0M524.36 408.35h0M526.44 408.54h0M528.52 408.74h0M530.6 408.8h0M532.68 408.87h0M534.76 408.97h0M536.84 408.79h0M538.92 408.25h0M541 408.97h0M543.08 408.43h0M545.16 408.7h0M547.24 408.51h0M549.32 408.88h0M551.4 408.34h0M553.48 408.39h0M555.56 408.39h0M557.64 408.3h0M559.72 409.03h0M561.8 408.73h0M563.88 408.48h0M565.96 408.55h0M568.04 409.14h0M570.12 408.66h0M572.2 408.39h0M574.28 408.97h0M576.36 408.81h0M578.44 409.15h0M580.52 408.26h0M582.6 408.64h0M584.68 408.98h0M586.76 409.01h0M588.84 409.08h0M590.92 408.21h0M593 408.46h0M595.08 408.29h0M597.16 408.36h0M599.24 409.15h0M601.32 408.76h0M603.4 409.11h0M605.48 408.55h0M607.56 409.05h0M609.64 408.63h0M611.72 408.44h0M613.8 408.96h0M615.88 409.13h0M617.96 408.3h0M620.04 408.79h0M622.12 408.81h0M624.2 408.41h0M626.28 408.56h0M628.36 408.34h0M630.44 408.4h0" stroke="#0000FF" stroke-width="5.4" stroke-linecap="round" fill="none"/></g><g clip-path="url(#ca)"><path d="M73 415.85 L75.08 416.05 L77.16 416.08 L79.24 415.81 L81.32 415.69 L83.4 415.87 L85.48 416.08 L87.56 415.78 L89.64 415.85 L91.72 415.78 L93.8 416.13 L95.88 415.97 L97.96 415.68 L100.04 415.7 L102.12 415.87 L104.2 415.95 L106.28 416 L108.36 415.67 L110.44 415.71 L112.52 416.02 L114.6 415.85 L116.68 415.76 L118.76 415.77 L120.84 416.16 L122.92 415.77 L125 415.91 L127.08 415.78 L129.16 415.81 L131.24 416.08 L133.32 416.15 L135.4 415.77 L137.48 415.66 L139.56 415.98 L141.64 415.66 L143.72 415.53 L145.8 416.07 L147.88 415.77 L149.96 416.01 L152.04 415.75 L154.12 416.03 L156.2 415.78 L158.28 415.59 L160.36 415.5 L162.44 415.81 L164.52 415.86 L166.6 416.02 L168.68 415.52 L170.76 415.84 L172.84 415.68 L174.92 415.76 L177 415.54 L179.08 415.61 L181.16 415.75 L183.24 415.99 L185.32 415.49 L187.4 415.72 L189.48 415.9 L191.56 415.99 L193.64 415.53 L195.72 415.48 L197.8 415.96 L199.88 415.98 L201.96 415.68 L204.04 415.42 L206.12 415.93 L208.2 415.61 L210.28 415.91 L212.36 415.74 L214.44 415.85 L216.52 415.45 L218.6 415.82 L220.68 415.48 L222.76 415.58 L224.84 415.84 L226.92 415.83 L229 415.43 L231.08 415.45 L233.16 415.55 L235.24 415.62 L237.32 415.53 L239.4 415.37 L241.48 415.44 L243.56 415.72 L245.64 415.82 L247.72 415.3 L249.8 415.61 L251.88 415.72 L253.96 415.29 L256.04 415.76 L258.12 415.32 L260.2 415.61 L262.28 415.57 L264.36 415.61 L266.44 415.42 L268.52 415.48 L270.6 415.57 L272.68 415.47 L274.76 415.61 L276.84 415.48 L278.92 415.47 L281 414.91 L283.08 414.65 L285.16 413.95 L287.24 413.17 L289.32 412.86 L291.4 412.25 L293.48 411.43 L295.56 410.67 L297.64 410.32 L299.72 409.58 L301.8 409.08 L303.88 408.74 L305.96 408.17 L308.04 408.2 L310.12 408.06 L312.2 407.6 L314.28 407.78 L316.36 407.26 L318.44 407.48 L320.52 407.37 L322.6 407.21 L324.68 406.93 L326.76 407.2 L328.84 407.13 L330.92 407.47 L333 406.98 L335.08 407.43 L337.16 407.89 L339.24 408.1 L341.32 408.53 L343.4 408.53 L345.48 409.43 L347.56 409.76 L349.64 410.67 L351.72 411.27 L353.8 411.44 L355.88 412.44 L357.96 413.15 L360.04 413.24 L362.12 413.62 L364.2 414.07 L366.28 413.92 L368.36 414.57 L370.44 414.41 L372.52 414.94 L374.6 414.75 L376.68 415.17 L378.76 415.63 L380.84 415.33 L382.92 415.36 L385 415.51 L387.08 415.41 L389.16 415.24 L391.24 415.33 L393.32 415.32 L395.4 415.79 L397.48 415.64 L399.56 415.78 L401.64 415.34 L403.72 415.72 L405.8 415.32 L407.88 415.57 L409.96 415.64 L412.04 415.48 L414.12 415.79 L416.2 415.6 L418.28 415.62 L420.36 415.81 L422.44 415.35 L424.52 415.88 L426.6 415.67 L428.68 415.53 L430.76 415.78 L432.84 415.46 L434.92 415.9 L437 415.66 L439.08 415.53 L441.16 415.78 L443.24 415.59 L445.32 415.44 L447.4 415.78 L449.48 415.37 L451.56 415.83 L453.64 415.5 L455.72 415.73 L457.8 415.94 L459.88 415.71 L461.96 415.76 L464.04 415.55 L466.12 415.37 L468.2 415.4 L470.28 415.47 L472.36 415.75 L474.44 415.65 L476.52 415.7 L478.6 415.93 L480.68 415.48 L482.76 415.54 L484.84 415.8 L486.92 415.43 L489 415.42 L491.08 415.63 L493.16 415.49 L495.24 415.64 L497.32 415.57 L499.4 415.79 L501.48 415.79 L503.56 415.57 L505.64 415.82 L507.72 415.74 L509.8 415.54 L511.88 416.02 L513.96 415.61 L516.04 415.56 L518.12 415.53 L520.2 415.86 L522.28 416.01 L524.36 415.96 L526.44 415.73 L528.52 415.65 L530.6 415.51 L532.68 415.89 L534.76 415.84 L536.84 415.72 L538.92 415.9 L541 415.79 L543.08 416.09 L545.16 415.97 L547.24 415.68 L549.32 416.08 L551.4 415.57 L553.48 415.86 L555.56 415.79 L557.64 415.7 L559.72 415.59 L561.8 416.03 L563.88 415.57 L565.96 415.9 L568.04 416.14 L570.12 415.66 L572.2 415.7 L574.28 415.95 L576.36 415.89 L578.44 415.98 L580.52 416.09 L582.6 415.71 L584.68 415.79 L586.76 415.79 L588.84 415.64 L590.92 416.15 L593 416.09 L595.08 416.06 L597.16 415.63 L599.24 416.14 L601.32 416.09 L603.4 415.92 L605.48 416.09 L607.56 415.92 L609.64 415.79 L611.72 415.72 L613.8 415.8 L615.88 415.69 L617.96 415.87 L620.04 416.13 L622.12 416.1 L624.2 416.19 L626.28 416.12 L628.36 415.85 L630.44 416.03" fill="none" stroke="#FF00FF" stroke-width="0.8"/><path d="M73 415.85h0M75.08 416.05h0M77.16 416.08h0M79.24 415.81h0M81.32 415.69h0M83.4 415.87h0M85.48 416.08h0M87.56 415.78h0M89.64 415.85h0M91.72 415.78h0M93.8 416.13h0M95.88 415.97h0M97.96 415.68h0M100.04 415.7h0M102.12 415.87h0M104.2 415.95h0M106.28 416h0M108.36 415.67h0M110.44 415.71h0M112.52 416.02h0M114.6 415.85h0M116.68 415.76h0M118.76 415.77h0M120.84 416.16h0M122.92 415.77h0M125 415.91h0M127.08 415.78h0M129.16 415.81h0M131.24 416.08h0M133.32 416.15h0M135.4 415.77h0M137.48 415.66h0M139.56 415.98h0M141.64 415.66h0M143.72 415.53h0M145.8 416.07h0M147.88 415.77h0M149.96 416.01h0M152.04 415.75h0M154.12 416.03h0M156.2 415.78h0M158.28 415.59h0M160.36 415.5h0M162.44 415.81h0M164.52 415.86h0M166.6 416.02h0M168.68 415.52h0M170.76 415.84h0M172.84 415.68h0M174.92 415.76h0M177 415.54h0M179.08 415.61h0M181.16 415.75h0M183.24 415.99h0M185.32 415.49h0M187.4 415.72h0M189.48 415.9h0M191.56 415.99h0M193.64 415.53h0M195.72 415.48h0M197.8 415.96h0M199.88 415.98h0M201.96 415.68h0M204.04 415.42h0M206.12 415.93h0M208.2 415.61h0M210.28 415.91h0M212.36 415.74h0M214.44 415.85h0M216.52 415.45h0M218.6 415.82h0M220.68 415.48h0M222.76 415.58h0M224.84 415.84h0M226.92 415.83h0M229 415.43h0M231.08 415.45h0M233.16 415.55h0M235.24 415.62h0M237.32 415.53h0M239.4 415.37h0M241.48 415.44h0M243.56 415.72h0M245.64 415.82h0M247.72 415.3h0M249.8 415.61h0M251.88 415.72h0M253.96 415.29h0M256.04 415.76h0M258.12 415.32h0M260.2 415.61h0M262.28 415.57h0M264.36 415.61h0M266.44 415.42h0M268.52 415.48h0M270.6 415.57h0M272.68 415.47h0M274.76 415.61h0M276.84 415.48h0M278.92 415.47h0M281 414.91h0M283.08 414.65h0M285.16 413.95h0M287.24 413.17h0M289.32 412.86h0M291.4 412.25h0M293.48 411.43h0M295.56 410.67h0M297.64 410.32h0M299.72 409.58h0M301.8 409.08h0M303.88 408.74h0M305.96 408.17h0M308.04 408.2h0M310.12 408.06h0M312.2 407.6h0M314.28 407.78h0M316.36 407.26h0M318.44 407.48h0M320.52 407.37h0M322.6 407.21h0M324.68 406.93h0M326.76 407.2h0M328.84 407.13h0M330.92 407.47h0M333 406.98h0M335.08 407.43h0M337.16 407.89h0M339.24 408.1h0M341.32 408.53h0M343.4 408.53h0M345.48 409.43h0M347.56 409.76h0M349.64 410.67h0M351.72 411.27h0M353.8 411.44h0M355.88 412.44h0M357.96 413.15h0M360.04 413.24h0M362.12 413.62h0M364.2 414.07h0M366.28 413.92h0M368.36 414.57h0M370.44 414.41h0M372.52 414.94h0M374.6 414.75h0M376.68 415.17h0M378.76 415.63h0M380.84 415.33h0M382.92 415.36h0M385 415.51h0M387.08 415.41h0M389.16 415.24h0M391.24 415.33h0M393.32 415.32h0M395.4 415.79h0M397.48 415.64h0M399.56 415.78h0M401.64 415.34h0M403.72 415.72h0M405.8 415.32h0M407.88 415.57h0M409.96 415.64h0M412.04 415.48h0M414.12 415.79h0M416.2 415.6h0M418.28 415.62h0M420.36 415.81h0M422.44 415.35h0M424.52 415.88h0M426.6 415.67h0M428.68 415.53h0M430.76 415.78h0M432.84 415.46h0M434.92 415.9h0M437 415.66h0M439.08 415.53h0M441.16 415.78h0M443.24 415.59h0M445.32 415.44h0M447.4 415.78h0M449.48 415.37h0M451.56 415.83h0M453.64 415.5h0M455.72 415.73h0M457.8 415.94h0M459.88 415.71h0M461.96 415.76h0M464.04 415.55h0M466.12 415.37h0M468.2 415.4h0M470.28 415.47h0M472.36 415.75h0M474.44 415.65h0M476.52 415.7h0M478.6 415.93h0M480.68 415.48h0M482.76 415.54h0M484.84 415.8h0M486.92 415.43h0M489 415.42h0M491.08 415.63h0M493.16 415.49h0M495.24 415.64h0M497.32 415.57h0M499.4 415.79h0M501.48 415.79h0M503.56 415.57h0M505.64 415.82h0M507.72 415.74h0M509.8 415.54h0M511.88 416.02h0M513.96 415.61h0M516.04 415.56h0M518.12 415.53h0M520.2 415.86h0M522.28 416.01h0M524.36 415.96h0M526.44 415.73h0M528.52 415.65h0M530.6 415.51h0M532.68 415.89h0M534.76 415.84h0M536.84 415.72h0M538.92 415.9h0M541 415.79h0M543.08 416.09h0M545.16 415.97h0M547.24 415.68h0M549.32 416.08h0M551.4 415.57h0M553.48 415.86h0M555.56 415.79h0M557.64 415.7h0M559.72 415.59h0M561.8 416.03h0M563.88 415.57h0M565.96 415.9h0M568.04 416.14h0M570.12 415.66h0M572.2 415.7h0M574.28 415.95h0M576.36 415.89h0M578.44 415.98h0M580.52 416.09h0M582.6 415.71h0M584.68 415.79h0M586.76 415.79h0M588.84 415.64h0M590.92 416.15h0M593 416.09h0M595.08 416.06h0M597.16 415.63h0M599.24 416.14h0M601.32 416.09h0M603.4 415.92h0M605.48 416.09h0M607.56 415.92h0M609.64 415.79h0M611.72 415.72h0M613.8 415.8h0M615.88 415.69h0M617.96 415.87h0M620.04 416.13h0M622.12 416.1h0M624.2 416.19h0M626.28 416.12h0M628.36 415.85h0M630.44 416.03h0" stroke="#FF00FF" stroke-width="2" stroke-linecap="round" fill="none"/></g><g clip-path="url(#ca)"><path d="M73 411.96 L75.08 412.17 L77.16 412.01 L79.24 411.86 L81.32 412.09 L83.4 412.28 L85.48 411.83 L87.56 412.23 L89.64 411.71 L91.72 411.86 L93.8 411.84 L95.88 412.15 L97.96 412.27 L100.04 412.15 L102.12 411.9 L104.2 412.23 L106.28 411.9 L108.36 411.84 L110.44 412.24 L112.52 412.08 L114.6 412.12 L116.68 412.1 L118.76 412.29 L120.84 411.98 L122.92 412.2 L125 412.12 L127.08 412.21 L129.16 411.96 L131.24 412.13 L133.32 412.04 L135.4 411.88 L137.48 411.83 L139.56 412.07 L141.64 411.75 L143.72 412.25 L145.8 411.79 L147.88 411.72 L149.96 411.76 L152.04 412.26 L154.12 411.91 L156.2 411.79 L158.28 411.72 L160.36 411.72 L162.44 412.12 L164.52 412.08 L166.6 412.12 L168.68 412.14 L170.76 411.74 L172.84 412.05 L174.92 411.92 L177 412.19 L179.08 412.19 L181.16 412.23 L183.24 411.74 L185.32 412.22 L187.4 412.25 L189.48 412.27 L191.56 411.76 L193.64 411.82 L195.72 411.77 L197.8 411.72 L199.88 412.21 L201.96 412.19 L204.04 412.08 L206.12 412.2 L208.2 412.08 L210.28 411.87 L212.36 411.76 L214.44 411.76 L216.52 412.15 L218.6 411.82 L220.68 411.89 L222.76 411.95 L224.84 411.71 L226.92 411.85 L229 411.87 L231.08 412.13 L233.16 411.92 L235.24 411.89 L237.32 412.28 L239.4 412 L241.48 412.21 L243.56 412.07 L245.64 411.72 L247.72 411.95 L249.8 411.96 L251.88 412.16 L253.96 411.91 L256.04 412.12 L258.12 412.02 L260.2 411.83 L262.28 412.22 L264.36 411.75 L266.44 412.19 L268.52 411.8 L270.6 411.7 L272.68 411.82 L274.76 412.16 L276.84 412.29 L278.92 411.7 L281 411.99 L283.08 411.99 L285.16 412.18 L287.24 411.81 L289.32 412 L291.4 411.91 L293.48 412.2 L295.56 411.86 L297.64 412.27 L299.72 411.87 L301.8 411.83 L303.88 412.12 L305.96 412 L308.04 411.77 L310.12 412.08 L312.2 411.75 L314.28 412.17 L316.36 412.12 L318.44 412.17 L320.52 412.08 L322.6 411.91 L324.68 411.94 L326.76 411.94 L328.84 412.23 L330.92 411.75 L333 412.23 L335.08 411.72 L337.16 411.82 L339.24 411.86 L341.32 412.24 L343.4 412 L345.48 411.93 L347.56 412.23 L349.64 411.84 L351.72 411.98 L353.8 412.02 L355.88 412.15 L357.96 412.15 L360.04 412.09 L362.12 411.91 L364.2 411.9 L366.28 411.79 L368.36 412.21 L370.44 412.1 L372.52 412.15 L374.6 411.8 L376.68 411.96 L378.76 412.16 L380.84 412.05 L382.92 411.78 L385 411.98 L387.08 412.23 L389.16 411.84 L391.24 411.81 L393.32 411.88 L395.4 412.12 L397.48 412.21 L399.56 411.79 L401.64 411.79 L403.72 411.85 L405.8 411.9 L407.88 412.01 L409.96 411.8 L412.04 411.9 L414.12 411.81 L416.2 412.29 L418.28 412.14 L420.36 411.76 L422.44 412.28 L424.52 411.76 L426.6 411.93 L428.68 412.29 L430.76 412.18 L432.84 412.14 L434.92 411.96 L437 411.82 L439.08 412.08 L441.16 411.76 L443.24 411.82 L445.32 411.93 L447.4 411.72 L449.48 411.94 L451.56 412.17 L453.64 412.12 L455.72 412 L457.8 412.08 L459.88 411.98 L461.96 411.79 L464.04 412.06 L466.12 411.94 L468.2 412.14 L470.28 412.24 L472.36 411.96 L474.44 412.04 L476.52 412.15 L478.6 411.95 L480.68 411.84 L482.76 412.13 L484.84 412.23 L486.92 412.16 L489 412.12 L491.08 412.21 L493.16 412.11 L495.24 412.08 L497.32 411.97 L499.4 411.89 L501.48 412.08 L503.56 411.76 L505.64 411.95 L507.72 412.17 L509.8 412.13 L511.88 412.08 L513.96 411.85 L516.04 411.95 L518.12 411.97 L520.2 412.07 L522.28 411.95 L524.36 412.11 L526.44 412.26 L528.52 411.81 L530.6 412.09 L532.68 412.17 L534.76 411.93 L536.84 411.99 L538.92 412.28 L541 411.72 L543.08 412.03 L545.16 411.8 L547.24 412.17 L549.32 412.26 L551.4 412.01 L553.48 411.76 L555.56 412.04 L557.64 412.02 L559.72 412.13 L561.8 412.01 L563.88 412.08 L565.96 412.2 L568.04 412.01 L570.12 411.95 L572.2 412.27 L574.28 411.83 L576.36 412.11 L578.44 411.94 L580.52 412.16 L582.6 411.77 L584.68 412.29 L586.76 411.91 L588.84 411.73 L590.92 411.86 L593 411.94 L595.08 411.71 L597.16 411.95 L599.24 411.95 L601.32 412.12 L603.4 411.91 L605.48 411.86 L607.56 411.83 L609.64 412.14 L611.72 412.26 L613.8 412.02 L615.88 411.83 L617.96 412.18 L620.04 411.94 L622.12 411.83 L624.2 411.78 L626.28 412.17 L628.36 412.19 L630.44 412.08" fill="none" stroke="#808000" stroke-width="0.8"/><path d="M73 411.96h0M75.08 412.17h0M77.16 412.01h0M79.24 411.86h0M81.32 412.09h0M83.4 412.28h0M85.48 411.83h0M87.56 412.23h0M89.64 411.71h0M91.72 411.86h0M93.8 411.84h0M95.88 412.15h0M97.96 412.27h0M100.04 412.15h0M102.12 411.9h0M104.2 412.23h0M106.28 411.9h0M108.36 411.84h0M110.44 412.24h0M112.52 412.08h0M114.6 412.12h0M116.68 412.1h0M118.76 412.29h0M120.84 411.98h0M122.92 412.2h0M125 412.12h0M127.08 412.21h0M129.16 411.96h0M131.24 412.13h0M133.32 412.04h0M135.4 411.88h0M137.48 411.83h0M139.56 412.07h0M141.64 411.75h0M143.72 412.25h0M145.8 411.79h0M147.88 411.72h0M149.96 411.76h0M152.04 412.26h0M154.12 411.91h0M156.2 411.79h0M158.28 411.72h0M160.36 411.72h0M162.44 412.12h0M164.52 412.08h0M166.6 412.12h0M168.68 412.14h0M170.76 411.74h0M172.84 412.05h0M174.92 411.92h0M177 412.19h0M179.08 412.19h0M181.16 412.23h0M183.24 411.74h0M185.32 412.22h0M187.4 412.25h0M189.48 412.27h0M191.56 411.76h0M193.64 411.82h0M195.72 411.77h0M197.8 411.72h0M199.88 412.21h0M201.96 412.19h0M204.04 412.08h0M206.12 412.2h0M208.2 412.08h0M210.28 411.87h0M212.36 411.76h0M214.44 411.76h0M216.52 412.15h0M218.6 411.82h0M220.68 411.89h0M222.76 411.95h0M224.84 411.71h0M226.92 411.85h0M229 411.87h0M231.08 412.13h0M233.16 411.92h0M235.24 411.89h0M237.32 412.28h0M239.4 412h0M241.48 412.21h0M243.56 412.07h0M245.64 411.72h0M247.72 411.95h0M249.8 411.96h0M251.88 412.16h0M253.96 411.91h0M256.04 412.12h0M258.12 412.02h0M260.2 411.83h0M262.28 412.22h0M264.36 411.75h0M266.44 412.19h0M268.52 411.8h0M270.6 411.7h0M272.68 411.82h0M274.76 412.16h0M276.84 412.29h0M278.92 411.7h0M281 411.99h0M283.08 411.99h0M285.16 412.18h0M287.24 411.81h0M289.32 412h0M291.4 411.91h0M293.48 412.2h0M295.56 411.86h0M297.64 412.27h0M299.72 411.87h0M301.8 411.83h0M303.88 412.12h0M305.96 412h0M308.04 411.77h0M310.12 412.08h0M312.2 411.75h0M314.28 412.17h0M316.36 412.12h0M318.44 412.17h0M320.52 412.08h0M322.6 411.91h0M324.68 411.94h0M326.76 411.94h0M328.84 412.23h0M330.92 411.75h0M333 412.23h0M335.08 411.72h0M337.16 411.82h0M339.24 411.86h0M341.32 412.24h0M343.4 412h0M345.48 411.93h0M347.56 412.23h0M349.64 411.84h0M351.72 411.98h0M353.8 412.02h0M355.88 412.15h0M357.96 412.15h0M360.04 412.09h0M362.12 411.91h0M364.2 411.9h0M366.28 411.79h0M368.36 412.21h0M370.44 412.1h0M372.52 412.15h0M374.6 411.8h0M376.68 411.96h0M378.76 412.16h0M380.84 412.05h0M382.92 411.78h0M385 411.98h0M387.08 412.23h0M389.16 411.84h0M391.24 411.81h0M393.32 411.88h0M395.4 412.12h0M397.48 412.21h0M399.56 411.79h0M401.64 411.79h0M403.72 411.85h0M405.8 411.9h0M407.88 412.01h0M409.96 411.8h0M412.04 411.9h0M414.12 411.81h0M416.2 412.29h0M418.28 412.14h0M420.36 411.76h0M422.44 412.28h0M424.52 411.76h0M426.6 411.93h0M428.68 412.29h0M430.76 412.18h0M432.84 412.14h0M434.92 411.96h0M437 411.82h0M439.08 412.08h0M441.16 411.76h0M443.24 411.82h0M445.32 411.93h0M447.4 411.72h0M449.48 411.94h0M451.56 412.17h0M453.64 412.12h0M455.72 412h0M457.8 412.08h0M459.88 411.98h0M461.96 411.79h0M464.04 412.06h0M466.12 411.94h0M468.2 412.14h0M470.28 412.24h0M472.36 411.96h0M474.44 412.04h0M476.52 412.15h0M478.6 411.95h0M480.68 411.84h0M482.76 412.13h0M484.84 412.23h0M486.92 412.16h0M489 412.12h0M491.08 412.21h0M493.16 412.11h0M495.24 412.08h0M497.32 411.97h0M499.4 411.89h0M501.48 412.08h0M503.56 411.76h0M505.64 411.95h0M507.72 412.17h0M509.8 412.13h0M511.88 412.08h0M513.96 411.85h0M516.04 411.95h0M518.12 411.97h0M520.2 412.07h0M522.28 411.95h0M524.36 412.11h0M526.44 412.26h0M528.52 411.81h0M530.6 412.09h0M532.68 412.17h0M534.76 411.93h0M536.84 411.99h0M538.92 412.28h0M541 411.72h0M543.08 412.03h0M545.16 411.8h0M547.24 412.17h0M549.32 412.26h0M551.4 412.01h0M553.48 411.76h0M555.56 412.04h0M557.64 412.02h0M559.72 412.13h0M561.8 412.01h0M563.88 412.08h0M565.96 412.2h0M568.04 412.01h0M570.12 411.95h0M572.2 412.27h0M574.28 411.83h0M576.36 412.11h0M578.44 411.94h0M580.52 412.16h0M582.6 411.77h0M584.68 412.29h0M586.76 411.91h0M588.84 411.73h0M590.92 411.86h0M593 411.94h0M595.08 411.71h0M597.16 411.95h0M599.24 411.95h0M601.32 412.12h0M603.4 411.91h0M605.48 411.86h0M607.56 411.83h0M609.64 412.14h0M611.72 412.26h0M613.8 412.02h0M615.88 411.83h0M617.96 412.18h0M620.04 411.94h0M622.12 411.83h0M624.2 411.78h0M626.28 412.17h0M628.36 412.19h0M630.44 412.08h0" stroke="#808000" stroke-width="4" stroke-linecap="round" fill="none"/></g><g clip-path="url(#ca)"><path d="M73 412.56 L75.08 412.68 L77.16 412.21 L79.24 413.24 L81.32 412.38 L83.4 412.78 L85.48 413.03 L87.56 413.02 L89.64 412.53 L91.72 412.28 L93.8 412.63 L95.88 412.04 L97.96 413.03 L100.04 412.35 L102.12 413.05 L104.2 412.23 L106.28 412.37 L108.36 412.2 L110.44 412.44 L112.52 412.1 L114.6 411.84 L116.68 412.84 L118.76 412.22 L120.84 412.17 L122.92 412.24 L125 412.49 L127.08 412.41 L129.16 412.7 L131.24 412.73 L133.32 412.31 L135.4 413.1 L137.48 412.99 L139.56 411.88 L141.64 412.95 L143.72 413.06 L145.8 412.88 L147.88 411.98 L149.96 412.94 L152.04 412.66 L154.12 411.79 L156.2 411.79 L158.28 413.1 L160.36 412.68 L162.44 412.11 L164.52 411.9 L166.6 411.95 L168.68 412.08 L170.76 412.83 L172.84 412.23 L174.92 411.95 L177 413 L179.08 412.84 L181.16 411.96 L183.24 412.97 L185.32 412.57 L187.4 412.81 L189.48 412.65 L191.56 412.96 L193.64 412.81 L195.72 412.88 L197.8 411.98 L199.88 412.67 L201.96 412.41 L204.04 412.68 L206.12 412.22 L208.2 412.81 L210.28 412.32 L212.36 411.88 L214.44 411.81 L216.52 411.65 L218.6 412.11 L220.68 411.47 L222.76 412.01 L224.84 411.53 L226.92 411.98 L229 411.96 L231.08 411.99 L233.16 412.41 L235.24 411.18 L237.32 412.32 L239.4 411.76 L241.48 411.87 L243.56 411.98 L245.64 412.19 L247.72 411.51 L249.8 411.54 L251.88 412.27 L253.96 411 L256.04 411.75 L258.12 411.72 L260.2 410.84 L262.28 411.61 L264.36 411.68 L266.44 411.99 L268.52 411.11 L270.6 411.99 L272.68 411.29 L274.76 411.22 L276.84 411.76 L278.92 410.52 L281 411.44 L283.08 411.27 L285.16 410.83 L287.24 411.53 L289.32 410.8 L291.4 410.91 L293.48 410.95 L295.56 411.26 L297.64 410.44 L299.72 410.71 L301.8 410.7 L303.88 410.89 L305.96 411.28 L308.04 410.54 L310.12 411.29 L312.2 410.71 L314.28 410.85 L316.36 410.53 L318.44 410.87 L320.52 411.53 L322.6 411.09 L324.68 411.29 L326.76 410.65 L328.84 410.64 L330.92 410.62 L333 411.03 L335.08 411.11 L337.16 411.32 L339.24 410.29 L341.32 411.25 L343.4 411.48 L345.48 411.02 L347.56 410.33 L349.64 410.69 L351.72 410.28 L353.8 410.55 L355.88 411.58 L357.96 411.15 L360.04 411.22 L362.12 411.45 L364.2 411.66 L366.28 411.28 L368.36 411.33 L370.44 411.39 L372.52 411.53 L374.6 411.43 L376.68 411.59 L378.76 410.97 L380.84 411.65 L382.92 411.4 L385 411.87 L387.08 410.98 L389.16 411.14 L391.24 410.98 L393.32 412.05 L395.4 412.29 L397.48 411.97 L399.56 411.61 L401.64 412.28 L403.72 412.28 L405.8 412 L407.88 411.62 L409.96 411.72 L412.04 411.93 L414.12 411.83 L416.2 412.03 L418.28 412.36 L420.36 412.81 L422.44 411.58 L424.52 412.3 L426.6 411.56 L428.68 411.68 L430.76 412.65 L432.84 412.32 L434.92 412.81 L437 412.15 L439.08 411.55 L441.16 412.07 L443.24 412.36 L445.32 412.85 L447.4 412.91 L449.48 412.21 L451.56 412.12 L453.64 411.69 L455.72 412.45 L457.8 411.85 L459.88 411.77 L461.96 411.58 L464.04 411.57 L466.12 412.52 L468.2 411.74 L470.28 412.92 L472.36 411.7 L474.44 412.79 L476.52 411.76 L478.6 411.61 L480.68 412.59 L482.76 411.93 L484.84 412.62 L486.92 411.86 L489 411.67 L491.08 412.68 L493.16 412.6 L495.24 412.8 L497.32 412.63 L499.4 411.73 L501.48 412.5 L503.56 412.61 L505.64 412.27 L507.72 412.93 L509.8 411.98 L511.88 412.98 L513.96 412.64 L516.04 411.65 L518.12 411.66 L520.2 412.55 L522.28 412.79 L524.36 411.76 L526.44 412.09 L528.52 412.67 L530.6 411.89 L532.68 412.86 L534.76 412.34 L536.84 411.75 L538.92 412.18 L541 412.48 L543.08 412.29 L545.16 412.62 L547.24 411.88 L549.32 412.8 L551.4 412.19 L553.48 412.59 L555.56 412.57 L557.64 412.28 L559.72 412.24 L561.8 412.8 L563.88 413.03 L565.96 412.81 L568.04 412.5 L570.12 412.12 L572.2 411.8 L574.28 413.08 L576.36 412.71 L578.44 412.88 L580.52 412.19 L582.6 412.58 L584.68 413.1 L586.76 412.9 L588.84 412.58 L590.92 412.17 L593 412.34 L595.08 412.99 L597.16 412.28 L599.24 412.71 L601.32 412.6 L603.4 413.01 L605.48 412.89 L607.56 412.16 L609.64 411.77 L611.72 412.14 L613.8 412.37 L615.88 412.6 L617.96 412.92 L620.04 413.03 L622.12 411.85 L624.2 412.96 L626.28 412.93 L628.36 413.01 L630.44 412.6" fill="none" stroke="#000000" stroke-width="0.8"/><path d="M73 412.56h0M75.08 412.68h0M77.16 412.21h0M79.24 413.24h0M81.32 412.38h0M83.4 412.78h0M85.48 413.03h0M87.56 413.02h0M89.64 412.53h0M91.72 412.28h0M93.8 412.63h0M95.88 412.04h0M97.96 413.03h0M100.04 412.35h0M102.12 413.05h0M104.2 412.23h0M106.28 412.37h0M108.36 412.2h0M110.44 412.44h0M112.52 412.1h0M114.6 411.84h0M116.68 412.84h0M118.76 412.22h0M120.84 412.17h0M122.92 412.24h0M125 412.49h0M127.08 412.41h0M129.16 412.7h0M131.24 412.73h0M133.32 412.31h0M135.4 413.1h0M137.48 412.99h0M139.56 411.88h0M141.64 412.95h0M143.72 413.06h0M145.8 412.88h0M147.88 411.98h0M149.96 412.94h0M152.04 412.66h0M154.12 411.79h0M156.2 411.79h0M158.28 413.1h0M160.36 412.68h0M162.44 412.11h0M164.52 411.9h0M166.6 411.95h0M168.68 412.08h0M170.76 412.83h0M172.84 412.23h0M174.92 411.95h0M177 413h0M179.08 412.84h0M181.16 411.96h0M183.24 412.97h0M185.32 412.57h0M187.4 412.81h0M189.48 412.65h0M191.56 412.96h0M193.64 412.81h0M195.72 412.88h0M197.8 411.98h0M199.88 412.67h0M201.96 412.41h0M204.04 412.68h0M206.12 412.22h0M208.2 412.81h0M210.28 412.32h0M212.36 411.88h0M214.44 411.81h0M216.52 411.65h0M218.6 412.11h0M220.68 411.47h0M222.76 412.01h0M224.84 411.53h0M226.92 411.98h0M229 411.96h0M231.08 411.99h0M233.16 412.41h0M235.24 411.18h0M237.32 412.32h0M239.4 411.76h0M241.48 411.87h0M243.56 411.98h0M245.64 412.19h0M247.72 411.51h0M249.8 411.54h0M251.88 412.27h0M253.96 411h0M256.04 411.75h0M258.12 411.72h0M260.2 410.84h0M262.28 411.61h0M264.36 411.68h0M266.44 411.99h0M268.52 411.11h0M270.6 411.99h0M272.68 411.29h0M274.76 411.22h0M276.84 411.76h0M278.92 410.52h0M281 411.44h0M283.08 411.27h0M285.16 410.83h0M287.24 411.53h0M289.32 410.8h0M291.4 410.91h0M293.48 410.95h0M295.56 411.26h0M297.64 410.44h0M299.72 410.71h0M301.8 410.7h0M303.88 410.89h0M305.96 411.28h0M308.04 410.54h0M310.12 411.29h0M312.2 410.71h0M314.28 410.85h0M316.36 410.53h0M318.44 410.87h0M320.52 411.53h0M322.6 411.09h0M324.68 411.29h0M326.76 410.65h0M328.84 410.64h0M330.92 410.62h0M333 411.03h0M335.08 411.11h0M337.16 411.32h0M339.24 410.29h0M341.32 411.25h0M343.4 411.48h0M345.48 411.02h0M347.56 410.33h0M349.64 410.69h0M351.72 410.28h0M353.8 410.55h0M355.88 411.58h0M357.96 411.15h0M360.04 411.22h0M362.12 411.45h0M364.2 411.66h0M366.28 411.28h0M368.36 411.33h0M370.44 411.39h0M372.52 411.53h0M374.6 411.43h0M376.68 411.59h0M378.76 410.97h0M380.84 411.65h0M382.92 411.4h0M385 411.87h0M387.08 410.98h0M389.16 411.14h0M391.24 410.98h0M393.32 412.05h0M395.4 412.29h0M397.48 411.97h0M399.56 411.61h0M401.64 412.28h0M403.72 412.28h0M405.8 412h0M407.88 411.62h0M409.96 411.72h0M412.04 411.93h0M414.12 411.83h0M416.2 412.03h0M418.28 412.36h0M420.36 412.81h0M422.44 411.58h0M424.52 412.3h0M426.6 411.56h0M428.68 411.68h0M430.76 412.65h0M432.84 412.32h0M434.92 412.81h0M437 412.15h0M439.08 411.55h0M441.16 412.07h0M443.24 412.36h0M445.32 412.85h0M447.4 412.91h0M449.48 412.21h0M451.56 412.12h0M453.64 411.69h0M455.72 412.45h0M457.8 411.85h0M459.88 411.77h0M461.96 411.58h0M464.04 411.57h0M466.12 412.52h0M468.2 411.74h0M470.28 412.92h0M472.36 411.7h0M474.44 412.79h0M476.52 411.76h0M478.6 411.61h0M480.68 412.59h0M482.76 411.93h0M484.84 412.62h0M486.92 411.86h0M489 411.67h0M491.08 412.68h0M493.16 412.6h0M495.24 412.8h0M497.32 412.63h0M499.4 411.73h0M501.48 412.5h0M503.56 412.61h0M505.64 412.27h0M507.72 412.93h0M509.8 411.98h0M511.88 412.98h0M513.96 412.64h0M516.04 411.65h0M518.12 411.66h0M520.2 412.55h0M522.28 412.79h0M524.36 411.76h0M526.44 412.09h0M528.52 412.67h0M530.6 411.89h0M532.68 412.86h0M534.76 412.34h0M536.84 411.75h0M538.92 412.18h0M541 412.48h0M543.08 412.29h0M545.16 412.62h0M547.24 411.88h0M549.32 412.8h0M551.4 412.19h0M553.48 412.59h0M555.56 412.57h0M557.64 412.28h0M559.72 412.24h0M561.8 412.8h0M563.88 413.03h0M565.96 412.81h0M568.04 412.5h0M570.12 412.12h0M572.2 411.8h0M574.28 413.08h0M576.36 412.71h0M578.44 412.88h0M580.52 412.19h0M582.6 412.58h0M584.68 413.1h0M586.76 412.9h0M588.84 412.58h0M590.92 412.17h0M593 412.34h0M595.08 412.99h0M597.16 412.28h0M599.24 412.71h0M601.32 412.6h0M603.4 413.01h0M605.48 412.89h0M607.56 412.16h0M609.64 411.77h0M611.72 412.14h0M613.8 412.37h0M615.88 412.6h0M617.96 412.92h0M620.04 413.03h0M622.12 411.85h0M624.2 412.96h0M626.28 412.93h0M628.36 413.01h0M630.44 412.6h0" stroke="#000000" stroke-width="5.2" stroke-linecap="round" fill="none"/></g><g clip-path="url(#cb)"><path d="M87 899.18 L89 901.39 L91 902.55 L93 903.42 L95 904.78 L97 904.29 L99 904.23 L101 905.2 L103 905.84 L105 905.31 L107 906.39 L109 906.95 L111 906.18 L113 906.81 L115 907.02 L117 906.84 L119 906.58 L121 906.76 L123 907.57 L125 907.73 L127 907.38 L129 906.97 L131 907.92 L133 907.66 L135 906.69 L137 906.96 L139 907.2 L141 906.97 L143 906.24 L145 905.97 L147 905.5 L149 904.31 L151 903.69 L153 903.05 L155 903.15 L157 902.05 L159 901.7 L161 900.66 L163 899.82 L165 898.31 L167 897.16 L169 897.8 L171 896.22 L173 895.15 L175 895.19 L177 894.7 L179 894.74 L181 896.28 L183 896.85 L185 898.02 L187 898.24 L189 899.19 L191 901.4 L193 902.05 L195 902.35 L197 903.29 L199 903.69 L201 905.24 L203 905.57 L205 907.13 L207 907.27 L209 907.75 L211 908.35 L213 907.76 L215 907.85 L217 908.48 L219 908.85 L221 908.97 L223 909.02 L225 909.83 L227 910.37 L229 909.89 L231 910.52 L233 910.27 L235 908.88 L237 909.42 L239 908.94 L241 908.35 L243 909.32 L245 908.13 L247 908.23 L249 907.94 L251 907.98 L253 907.18 L255 906.39 L257 906.07 L259 905.16 L261 905.17 L263 904.09 L265 901.9 L267 900.08 L269 897 L271 893.59 L273 890.36 L275 885.54 L277 878.2 L279.1 864.8 L280.6 849.4 L282.7 831.2 L284.6 810.3 L286.9 789.1 L288.7 768.8 L290.7 749.7 L292.7 734.6 L294.9 722.4 L296.7 713.2 L299.1 706.7 L301.7 703 L304.1 699 L306.5 694.7 L308.3 687.9 L310.2 677.4 L312.4 665.3 L313.9 650.7 L315.9 635.5 L317.7 620.2 L319.9 605.1 L321.8 591.6 L323.6 580 L325.8 571 L327.3 564 L329.7 561.2 L331.9 562.5 L333.7 569.5 L335.6 584.2 L337.4 605.4 L339.3 632.2 L341.5 663 L343.7 694.9 L345.2 725.2 L347.8 751 L349.5 772.3 L351.4 788.4 L353 799.9 L354.8 809.1 L357.1 817.2 L359.1 824.61 L361.1 829.27 L363.1 834.9 L365.1 839.11 L367.1 843.06 L369.1 847.57 L371.1 849.41 L373.1 852.2 L375.1 855.72 L377.1 858.46 L379.1 859.79 L381.1 860.97 L383.1 863.08 L385.1 864.93 L387.1 865.15 L389.1 866.6 L391.1 867.64 L393.1 868.56 L395.1 869.9 L397.1 870.31 L399.1 871.25 L401.1 872.24 L403.1 874.33 L405.1 874.73 L407.1 877.06 L409.1 877.67 L411.1 878.99 L413.1 881.93 L415.1 882.64 L417.1 885.34 L419.1 886.95 L421.1 888.15 L423.1 887.84 L425.1 889.01 L427.1 889.26 L429.1 891.17 L431.1 891.52 L433.1 891.48 L435.1 891.5 L437.1 891.6 L439.1 892.54 L441.1 892.31 L443.1 892.78 L445.1 892.36 L447.1 892.73 L449.1 892.76 L451.1 893.9 L453.1 893.85 L455.1 893.46 L457.1 894.66 L459.1 893.99 L461.1 894.38 L463.1 894.2 L465.1 894.54 L467.1 895.51 L469.1 894.99 L471.1 895.05 L473.1 895.89 L475.1 896.03 L477.1 897.24 L479.1 896.52 L481.1 898.12 L483.1 897.21 L485.1 898.76 L487.1 898.65 L489.1 898.22 L491.1 898.8 L493.1 898.74 L495.1 898.91 L497.1 899.04 L499.1 899.48 L501.1 900.56 L503.1 900.78 L505.1 900.89 L507.1 899.93 L509.1 900.41 L511.1 901.42 L513.1 900.35 L515.1 901.4 L517.1 900.9 L519.1 901.97 L521.1 900.73 L523.1 901.95 L525.1 901.41 L527.1 901.24 L529.1 901.15 L531.1 902.65 L533.1 902.74 L535.1 902.79 L537.1 903.66 L539.1 904.84 L541.1 904.63 L543.1 906.09 L545.1 906.44 L547.1 907.46 L549.1 909.25 L551.1 909.88 L553.1 909.68 L555.1 910.04 L557.1 910.57 L559.1 911.82 L561.1 911.99 L563.1 911.86 L565.1 911.95 L567.1 912.7 L569.1 913.01 L571.1 913.34 L573.1 913.2 L575.1 912.84 L577.1 912.83 L579.1 913.94 L581.1 913.63 L583.1 914.18 L585.1 913.36 L587.1 914.53 L589.1 913.97 L591.1 914.79 L593.1 914.93 L595.1 914.52 L597.1 913.96 L599.1 915.32 L601.1 914.72 L603.1 915.19 L605.1 914.26 L607.1 914.07 L609.1 914.89 L611.1 914.16 L613.1 913.8 L615.1 914 L617.1 914.24 L619.1 913.33 L621.1 913.97 L623.1 913.78 L625.1 913.8" fill="none" stroke="#800000" stroke-width="0.8"/><path d="M87 899.18h0M89 901.39h0M91 902.55h0M93 903.42h0M95 904.78h0M97 904.29h0M99 904.23h0M101 905.2h0M103 905.84h0M105 905.31h0M107 906.39h0M109 906.95h0M111 906.18h0M113 906.81h0M115 907.02h0M117 906.84h0M119 906.58h0M121 906.76h0M123 907.57h0M125 907.73h0M127 907.38h0M129 906.97h0M131 907.92h0M133 907.66h0M135 906.69h0M137 906.96h0M139 907.2h0M141 906.97h0M143 906.24h0M145 905.97h0M147 905.5h0M149 904.31h0M151 903.69h0M153 903.05h0M155 903.15h0M157 902.05h0M159 901.7h0M161 900.66h0M163 899.82h0M165 898.31h0M167 897.16h0M169 897.8h0M171 896.22h0M173 895.15h0M175 895.19h0M177 894.7h0M179 894.74h0M181 896.28h0M183 896.85h0M185 898.02h0M187 898.24h0M189 899.19h0M191 901.4h0M193 902.05h0M195 902.35h0M197 903.29h0M199 903.69h0M201 905.24h0M203 905.57h0M205 907.13h0M207 907.27h0M209 907.75h0M211 908.35h0M213 907.76h0M215 907.85h0M217 908.48h0M219 908.85h0M221 908.97h0M223 909.02h0M225 909.83h0M227 910.37h0M229 909.89h0M231 910.52h0M233 910.27h0M235 908.88h0M237 909.42h0M239 908.94h0M241 908.35h0M243 909.32h0M245 908.13h0M247 908.23h0M249 907.94h0M251 907.98h0M253 907.18h0M255 906.39h0M257 906.07h0M259 905.16h0M261 905.17h0M263 904.09h0M265 901.9h0M267 900.08h0M269 897h0M271 893.59h0M273 890.36h0M275 885.54h0M277 878.2h0M279.1 864.8h0M280.6 849.4h0M282.7 831.2h0M284.6 810.3h0M286.9 789.1h0M288.7 768.8h0M290.7 749.7h0M292.7 734.6h0M294.9 722.4h0M296.7 713.2h0M299.1 706.7h0M301.7 703h0M304.1 699h0M306.5 694.7h0M308.3 687.9h0M310.2 677.4h0M312.4 665.3h0M313.9 650.7h0M315.9 635.5h0M317.7 620.2h0M319.9 605.1h0M321.8 591.6h0M323.6 580h0M325.8 571h0M327.3 564h0M329.7 561.2h0M331.9 562.5h0M333.7 569.5h0M335.6 584.2h0M337.4 605.4h0M339.3 632.2h0M341.5 663h0M343.7 694.9h0M345.2 725.2h0M347.8 751h0M349.5 772.3h0M351.4 788.4h0M353 799.9h0M354.8 809.1h0M357.1 817.2h0M359.1 824.61h0M361.1 829.27h0M363.1 834.9h0M365.1 839.11h0M367.1 843.06h0M369.1 847.57h0M371.1 849.41h0M373.1 852.2h0M375.1 855.72h0M377.1 858.46h0M379.1 859.79h0M381.1 860.97h0M383.1 863.08h0M385.1 864.93h0M387.1 865.15h0M389.1 866.6h0M391.1 867.64h0M393.1 868.56h0M395.1 869.9h0M397.1 870.31h0M399.1 871.25h0M401.1 872.24h0M403.1 874.33h0M405.1 874.73h0M407.1 877.06h0M409.1 877.67h0M411.1 878.99h0M413.1 881.93h0M415.1 882.64h0M417.1 885.34h0M419.1 886.95h0M421.1 888.15h0M423.1 887.84h0M425.1 889.01h0M427.1 889.26h0M429.1 891.17h0M431.1 891.52h0M433.1 891.48h0M435.1 891.5h0M437.1 891.6h0M439.1 892.54h0M441.1 892.31h0M443.1 892.78h0M445.1 892.36h0M447.1 892.73h0M449.1 892.76h0M451.1 893.9h0M453.1 893.85h0M455.1 893.46h0M457.1 894.66h0M459.1 893.99h0M461.1 894.38h0M463.1 894.2h0M465.1 894.54h0M467.1 895.51h0M469.1 894.99h0M471.1 895.05h0M473.1 895.89h0M475.1 896.03h0M477.1 897.24h0M479.1 896.52h0M481.1 898.12h0M483.1 897.21h0M485.1 898.76h0M487.1 898.65h0M489.1 898.22h0M491.1 898.8h0M493.1 898.74h0M495.1 898.91h0M497.1 899.04h0M499.1 899.48h0M501.1 900.56h0M503.1 900.78h0M505.1 900.89h0M507.1 899.93h0M509.1 900.41h0M511.1 901.42h0M513.1 900.35h0M515.1 901.4h0M517.1 900.9h0M519.1 901.97h0M521.1 900.73h0M523.1 901.95h0M525.1 901.41h0M527.1 901.24h0M529.1 901.15h0M531.1 902.65h0M533.1 902.74h0M535.1 902.79h0M537.1 903.66h0M539.1 904.84h0M541.1 904.63h0M543.1 906.09h0M545.1 906.44h0M547.1 907.46h0M549.1 909.25h0M551.1 909.88h0M553.1 909.68h0M555.1 910.04h0M557.1 910.57h0M559.1 911.82h0M561.1 911.99h0M563.1 911.86h0M565.1 911.95h0M567.1 912.7h0M569.1 913.01h0M571.1 913.34h0M573.1 913.2h0M575.1 912.84h0M577.1 912.83h0M579.1 913.94h0M581.1 913.63h0M583.1 914.18h0M585.1 913.36h0M587.1 914.53h0M589.1 913.97h0M591.1 914.79h0M593.1 914.93h0M595.1 914.52h0M597.1 913.96h0M599.1 915.32h0M601.1 914.72h0M603.1 915.19h0M605.1 914.26h0M607.1 914.07h0M609.1 914.89h0M611.1 914.16h0M613.1 913.8h0M615.1 914h0M617.1 914.24h0M619.1 913.33h0M621.1 913.97h0M623.1 913.78h0M625.1 913.8h0" stroke="#800000" stroke-width="6.8" stroke-linecap="round" fill="none"/></g><g clip-path="url(#cb)"><path d="M87 907.47 L89 909.1 L91 909.92 L93 910.55 L95 910.35 L97 911.46 L99 911.55 L101 912.41 L103 911.57 L105 912.82 L107 913.06 L109 912.53 L111 912.68 L113 912.82 L115 912.95 L117 912.35 L119 913.79 L121 912.87 L123 912.94 L125 912.94 L127 913.27 L129 914.18 L131 913.02 L133 912.86 L135 913.45 L137 912.49 L139 911.98 L141 912.55 L143 912.26 L145 911.93 L147 911.93 L149 910.84 L151 911.66 L153 911.19 L155 910 L157 909.85 L159 910.12 L161 909.55 L163 908.34 L165 907.22 L167 906.72 L169 905.44 L171 905.27 L173 904.93 L175 903.22 L177 903.1 L179 904.05 L181 903.95 L183 905.58 L185 906.44 L187 906.38 L189 907.13 L191 908.51 L193 908.94 L195 909.62 L197 911.25 L199 911.89 L201 912.14 L203 912.87 L205 913.87 L207 914.14 L209 915.03 L211 914.91 L213 915.19 L215 915.18 L217 915.35 L219 914.37 L221 915.15 L223 915.89 L225 915.99 L227 915.16 L229 915.53 L231 915.82 L233 915.32 L235 915.43 L237 914.66 L239 915.05 L241 915.02 L243 914.22 L245 914.26 L247 915.3 L249 914.91 L251 915 L253 914.24 L255 914.15 L257 913.93 L259 913.6 L261 912.08 L263 912.59 L265 911.74 L267 911.81 L269 910.04 L271 909.22 L273 908.55 L275 903.71 L277 898.23 L279.1 892.2 L281.7 881.8 L283.4 872.5 L285 857.5 L287.3 839.5 L289.2 821.8 L291 804.5 L292.6 787.2 L294.5 773.4 L296.1 761.9 L298.6 754.3 L300.45 751.05 L302.3 747.8 L305 744.7 L307.8 740.5 L310 734 L312 725.3 L313.9 715.6 L315.7 704.1 L317.9 692 L319.8 679.6 L322 668.6 L323.8 658.1 L325.8 648.4 L327.8 641 L330 634.9 L331.9 633.1 L333.7 634 L335.3 640.7 L337.3 652.6 L339.1 672.3 L341 695.3 L343.2 720.6 L344.8 746.9 L346.8 771.1 L348.6 791.8 L350.7 808 L352.5 819.5 L354.8 828.7 L357.1 836.8 L359.1 842.83 L361.1 846.96 L363.1 851.53 L365.1 853.6 L367.1 856.63 L369.1 860.11 L371.1 862.37 L373.1 865.87 L375.1 869.04 L377.1 871.09 L379.1 873.35 L381.1 875.15 L383.1 876.77 L385.1 877.75 L387.1 879.24 L389.1 880.53 L391.1 881.75 L393.1 882.89 L395.1 883.72 L397.1 884.64 L399.1 885.86 L401.1 888.02 L403.1 889.49 L405.1 890.22 L407.1 891.22 L409.1 892.39 L411.1 892.82 L413.1 894.59 L415.1 895.28 L417.1 896.14 L419.1 896.96 L421.1 897.49 L423.1 898 L425.1 898.64 L427.1 899.35 L429.1 900.49 L431.1 900.78 L433.1 901.32 L435.1 900.78 L437.1 901.52 L439.1 902.49 L441.1 901.88 L443.1 902.58 L445.1 902.75 L447.1 902.72 L449.1 903.97 L451.1 903.22 L453.1 904.09 L455.1 903.43 L457.1 903.5 L459.1 904.83 L461.1 904.43 L463.1 904.1 L465.1 904.75 L467.1 905.03 L469.1 905.64 L471.1 904.96 L473.1 905.33 L475.1 906.55 L477.1 906.44 L479.1 905.83 L481.1 906.24 L483.1 906.38 L485.1 906.95 L487.1 906.99 L489.1 907.44 L491.1 907.52 L493.1 907.21 L495.1 907.64 L497.1 907.77 L499.1 907.91 L501.1 907.63 L503.1 908.18 L505.1 908.2 L507.1 908.61 L509.1 907.62 L511.1 908.79 L513.1 907.69 L515.1 908.88 L517.1 908.75 L519.1 908.74 L521.1 909.51 L523.1 909.09 L525.1 908.99 L527.1 909.62 L529.1 909.87 L531.1 909.62 L533.1 909.42 L535.1 909.64 L537.1 909.77 L539.1 910.26 L541.1 910.12 L543.1 911 L545.1 911.98 L547.1 912.49 L549.1 913.15 L551.1 914.55 L553.1 915.38 L555.1 915.62 L557.1 915.89 L559.1 915.87 L561.1 916.38 L563.1 916.51 L565.1 917.46 L567.1 917.81 L569.1 917.47 L571.1 918.79 L573.1 917.95 L575.1 918.68 L577.1 918.67 L579.1 918.84 L581.1 917.79 L583.1 918.1 L585.1 918.77 L587.1 917.51 L589.1 917.57 L591.1 918.29 L593.1 918.2 L595.1 918.79 L597.1 918.58 L599.1 918.25 L601.1 918.9 L603.1 918.22 L605.1 918.22 L607.1 918.46 L609.1 918.05 L611.1 918 L613.1 918.33 L615.1 917.99 L617.1 918.83 L619.1 918.45 L621.1 918.24 L623.1 917.64 L625.1 918.02" fill="none" stroke="#00FFFF" stroke-width="0.8"/><path d="M87 907.47h0M89 909.1h0M91 909.92h0M93 910.55h0M95 910.35h0M97 911.46h0M99 911.55h0M101 912.41h0M103 911.57h0M105 912.82h0M107 913.06h0M109 912.53h0M111 912.68h0M113 912.82h0M115 912.95h0M117 912.35h0M119 913.79h0M121 912.87h0M123 912.94h0M125 912.94h0M127 913.27h0M129 914.18h0M131 913.02h0M133 912.86h0M135 913.45h0M137 912.49h0M139 911.98h0M141 912.55h0M143 912.26h0M145 911.93h0M147 911.93h0M149 910.84h0M151 911.66h0M153 911.19h0M155 910h0M157 909.85h0M159 910.12h0M161 909.55h0M163 908.34h0M165 907.22h0M167 906.72h0M169 905.44h0M171 905.27h0M173 904.93h0M175 903.22h0M177 903.1h0M179 904.05h0M181 903.95h0M183 905.58h0M185 906.44h0M187 906.38h0M189 907.13h0M191 908.51h0M193 908.94h0M195 909.62h0M197 911.25h0M199 911.89h0M201 912.14h0M203 912.87h0M205 913.87h0M207 914.14h0M209 915.03h0M211 914.91h0M213 915.19h0M215 915.18h0M217 915.35h0M219 914.37h0M221 915.15h0M223 915.89h0M225 915.99h0M227 915.16h0M229 915.53h0M231 915.82h0M233 915.32h0M235 915.43h0M237 914.66h0M239 915.05h0M241 915.02h0M243 914.22h0M245 914.26h0M247 915.3h0M249 914.91h0M251 915h0M253 914.24h0M255 914.15h0M257 913.93h0M259 913.6h0M261 912.08h0M263 912.59h0M265 911.74h0M267 911.81h0M269 910.04h0M271 909.22h0M273 908.55h0M275 903.71h0M277 898.23h0M279.1 892.2h0M281.7 881.8h0M283.4 872.5h0M285 857.5h0M287.3 839.5h0M289.2 821.8h0M291 804.5h0M292.6 787.2h0M294.5 773.4h0M296.1 761.9h0M298.6 754.3h0M300.45 751.05h0M302.3 747.8h0M305 744.7h0M307.8 740.5h0M310 734h0M312 725.3h0M313.9 715.6h0M315.7 704.1h0M317.9 692h0M319.8 679.6h0M322 668.6h0M323.8 658.1h0M325.8 648.4h0M327.8 641h0M330 634.9h0M331.9 633.1h0M333.7 634h0M335.3 640.7h0M337.3 652.6h0M339.1 672.3h0M341 695.3h0M343.2 720.6h0M344.8 746.9h0M346.8 771.1h0M348.6 791.8h0M350.7 808h0M352.5 819.5h0M354.8 828.7h0M357.1 836.8h0M359.1 842.83h0M361.1 846.96h0M363.1 851.53h0M365.1 853.6h0M367.1 856.63h0M369.1 860.11h0M371.1 862.37h0M373.1 865.87h0M375.1 869.04h0M377.1 871.09h0M379.1 873.35h0M381.1 875.15h0M383.1 876.77h0M385.1 877.75h0M387.1 879.24h0M389.1 880.53h0M391.1 881.75h0M393.1 882.89h0M395.1 883.72h0M397.1 884.64h0M399.1 885.86h0M401.1 888.02h0M403.1 889.49h0M405.1 890.22h0M407.1 891.22h0M409.1 892.39h0M411.1 892.82h0M413.1 894.59h0M415.1 895.28h0M417.1 896.14h0M419.1 896.96h0M421.1 897.49h0M423.1 898h0M425.1 898.64h0M427.1 899.35h0M429.1 900.49h0M431.1 900.78h0M433.1 901.32h0M435.1 900.78h0M437.1 901.52h0M439.1 902.49h0M441.1 901.88h0M443.1 902.58h0M445.1 902.75h0M447.1 902.72h0M449.1 903.97h0M451.1 903.22h0M453.1 904.09h0M455.1 903.43h0M457.1 903.5h0M459.1 904.83h0M461.1 904.43h0M463.1 904.1h0M465.1 904.75h0M467.1 905.03h0M469.1 905.64h0M471.1 904.96h0M473.1 905.33h0M475.1 906.55h0M477.1 906.44h0M479.1 905.83h0M481.1 906.24h0M483.1 906.38h0M485.1 906.95h0M487.1 906.99h0M489.1 907.44h0M491.1 907.52h0M493.1 907.21h0M495.1 907.64h0M497.1 907.77h0M499.1 907.91h0M501.1 907.63h0M503.1 908.18h0M505.1 908.2h0M507.1 908.61h0M509.1 907.62h0M511.1 908.79h0M513.1 907.69h0M515.1 908.88h0M517.1 908.75h0M519.1 908.74h0M521.1 909.51h0M523.1 909.09h0M525.1 908.99h0M527.1 909.62h0M529.1 909.87h0M531.1 909.62h0M533.1 909.42h0M535.1 909.64h0M537.1 909.77h0M539.1 910.26h0M541.1 910.12h0M543.1 911h0M545.1 911.98h0M547.1 912.49h0M549.1 913.15h0M551.1 914.55h0M553.1 915.38h0M555.1 915.62h0M557.1 915.89h0M559.1 915.87h0M561.1 916.38h0M563.1 916.51h0M565.1 917.46h0M567.1 917.81h0M569.1 917.47h0M571.1 918.79h0M573.1 917.95h0M575.1 918.68h0M577.1 918.67h0M579.1 918.84h0M581.1 917.79h0M583.1 918.1h0M585.1 918.77h0M587.1 917.51h0M589.1 917.57h0M591.1 918.29h0M593.1 918.2h0M595.1 918.79h0M597.1 918.58h0M599.1 918.25h0M601.1 918.9h0M603.1 918.22h0M605.1 918.22h0M607.1 918.46h0M609.1 918.05h0M611.1 918h0M613.1 918.33h0M615.1 917.99h0M617.1 918.83h0M619.1 918.45h0M621.1 918.24h0M623.1 917.64h0M625.1 918.02h0" stroke="#00FFFF" stroke-width="6.6" stroke-linecap="round" fill="none"/></g><g clip-path="url(#cb)"><path d="M87 916.36 L89 917.25 L91 917.65 L93 918.17 L95 918.38 L97 917.8 L99 917.82 L101 918.17 L103 918.78 L105 917.96 L107 918.31 L109 918.8 L111 917.98 L113 918.28 L115 919.29 L117 919.17 L119 918.82 L121 918.35 L123 919.54 L125 919.34 L127 919.61 L129 919.94 L131 919.79 L133 919.03 L135 918.56 L137 918.64 L139 918.85 L141 918.73 L143 918.19 L145 918.08 L147 918.6 L149 918.46 L151 918 L153 918.8 L155 918.19 L157 917.2 L159 917.55 L161 917.91 L163 917.07 L165 917.45 L167 916.32 L169 916.58 L171 917.17 L173 916.65 L175 916.6 L177 915.78 L179 916.4 L181 916.67 L183 916.47 L185 917.21 L187 917.24 L189 918.1 L191 917.7 L193 917.68 L195 917.47 L197 917.72 L199 918.76 L201 918 L203 918.09 L205 918.3 L207 918.89 L209 919.42 L211 919.22 L213 919.6 L215 918.66 L217 918.69 L219 919.86 L221 919.33 L223 919.98 L225 919.58 L227 919.43 L229 919.66 L231 919.53 L233 920.76 L235 920.42 L237 919.97 L239 920 L241 919.79 L243 919.21 L245 920.26 L247 919.71 L249 920.12 L251 919.28 L253 919.42 L255 918.78 L257 918.38 L259 919.5 L261 919.28 L263 918.4 L265 919.1 L267 918.87 L269 918.04 L271 917.54 L273 917.04 L275 915.39 L277 915.03 L279 909.37 L280.9 905.3 L283.5 893 L285.5 884 L287.3 875.9 L289.6 867.9 L291.9 859.8 L294.2 851.8 L295.7 848.3 L297.2 844.8 L299.5 841.95 L301.8 839.1 L303.73 837.93 L305.67 836.77 L307.6 835.6 L309.9 832.15 L312.2 828.7 L313.95 824.1 L315.7 819.5 L317.2 814.3 L318.7 809.1 L321.4 802.2 L323.15 798.75 L324.9 795.3 L326.6 792.4 L328.3 789.5 L330.05 788.95 L331.8 788.4 L334 790 L336.4 795.3 L338.7 805.7 L341.5 816 L343.3 827.6 L344.5 839.1 L346.8 850.6 L348.6 859.8 L350.2 867.9 L352.5 875.9 L354.25 879.4 L356 882.9 L358 887 L360 888.08 L362 890.58 L364 892.26 L366 894.63 L368 896.44 L370 896.9 L372 898.34 L374 898.58 L376 899.49 L378 900.41 L380 900.76 L382 902.46 L384 902.1 L386 903.08 L388 902.74 L390 903.45 L392 903.62 L394 904.02 L396 903.93 L398 904.39 L400 905.76 L402 906.03 L404 906.82 L406 907.69 L408 908.76 L410 909.63 L412 909.72 L414 910.97 L416 910.89 L418 911 L420 912.14 L422 911.65 L424 912.27 L426 913.43 L428 912.81 L430 913.62 L432 914.25 L434 914.28 L436 913.45 L438 913.8 L440 914.39 L442 913.98 L444 914.87 L446 913.9 L448 915.02 L450 914.47 L452 914.15 L454 914.55 L456 914.17 L458 915.05 L460 914.51 L462 915.48 L464 915.11 L466 914.88 L468 914.79 L470 915.37 L472 914.89 L474 915.89 L476 914.92 L478 915.54 L480 915.66 L482 915.34 L484 916.1 L486 915.62 L488 916.06 L490 915.99 L492 915.7 L494 915.87 L496 915.5 L498 915.69 L500 916.69 L502 916.01 L504 916.55 L506 915.83 L508 916.53 L510 916.31 L512 916.56 L514 916.34 L516 916.07 L518 916.48 L520 916.42 L522 916.34 L524 917.22 L526 916.68 L528 916.9 L530 917.67 L532 917.54 L534 917.76 L536 917.79 L538 916.83 L540 917.09 L542 916.93 L544 918.03 L546 918.2 L548 917.95 L550 918.23 L552 918.76 L554 919.01 L556 918.57 L558 919.6 L560 919.09 L562 919.48 L564 918.85 L566 918.76 L568 919.88 L570 919.63 L572 919.6 L574 918.66 L576 918.66 L578 918.83 L580 918.88 L582 919.02 L584 919.13 L586 918.65 L588 919.04 L590 919.49 L592 918.85 L594 919.78 L596 919.4 L598 919.6 L600 918.96 L602 919.21 L604 919.56 L606 919.09 L608 918.6 L610 919.77 L612 919.69 L614 919 L616 918.66 L618 919.8 L620 919.45 L622 918.67 L624 918.94 L626 918.76" fill="none" stroke="#00FF00" stroke-width="0.8"/><path d="M87 916.36h0M89 917.25h0M91 917.65h0M93 918.17h0M95 918.38h0M97 917.8h0M99 917.82h0M101 918.17h0M103 918.78h0M105 917.96h0M107 918.31h0M109 918.8h0M111 917.98h0M113 918.28h0M115 919.29h0M117 919.17h0M119 918.82h0M121 918.35h0M123 919.54h0M125 919.34h0M127 919.61h0M129 919.94h0M131 919.79h0M133 919.03h0M135 918.56h0M137 918.64h0M139 918.85h0M141 918.73h0M143 918.19h0M145 918.08h0M147 918.6h0M149 918.46h0M151 918h0M153 918.8h0M155 918.19h0M157 917.2h0M159 917.55h0M161 917.91h0M163 917.07h0M165 917.45h0M167 916.32h0M169 916.58h0M171 917.17h0M173 916.65h0M175 916.6h0M177 915.78h0M179 916.4h0M181 916.67h0M183 916.47h0M185 917.21h0M187 917.24h0M189 918.1h0M191 917.7h0M193 917.68h0M195 917.47h0M197 917.72h0M199 918.76h0M201 918h0M203 918.09h0M205 918.3h0M207 918.89h0M209 919.42h0M211 919.22h0M213 919.6h0M215 918.66h0M217 918.69h0M219 919.86h0M221 919.33h0M223 919.98h0M225 919.58h0M227 919.43h0M229 919.66h0M231 919.53h0M233 920.76h0M235 920.42h0M237 919.97h0M239 920h0M241 919.79h0M243 919.21h0M245 920.26h0M247 919.71h0M249 920.12h0M251 919.28h0M253 919.42h0M255 918.78h0M257 918.38h0M259 919.5h0M261 919.28h0M263 918.4h0M265 919.1h0M267 918.87h0M269 918.04h0M271 917.54h0M273 917.04h0M275 915.39h0M277 915.03h0M279 909.37h0M280.9 905.3h0M283.5 893h0M285.5 884h0M287.3 875.9h0M289.6 867.9h0M291.9 859.8h0M294.2 851.8h0M295.7 848.3h0M297.2 844.8h0M299.5 841.95h0M301.8 839.1h0M303.73 837.93h0M305.67 836.77h0M307.6 835.6h0M309.9 832.15h0M312.2 828.7h0M313.95 824.1h0M315.7 819.5h0M317.2 814.3h0M318.7 809.1h0M321.4 802.2h0M323.15 798.75h0M324.9 795.3h0M326.6 792.4h0M328.3 789.5h0M330.05 788.95h0M331.8 788.4h0M334 790h0M336.4 795.3h0M338.7 805.7h0M341.5 816h0M343.3 827.6h0M344.5 839.1h0M346.8 850.6h0M348.6 859.8h0M350.2 867.9h0M352.5 875.9h0M354.25 879.4h0M356 882.9h0M358 887h0M360 888.08h0M362 890.58h0M364 892.26h0M366 894.63h0M368 896.44h0M370 896.9h0M372 898.34h0M374 898.58h0M376 899.49h0M378 900.41h0M380 900.76h0M382 902.46h0M384 902.1h0M386 903.08h0M388 902.74h0M390 903.45h0M392 903.62h0M394 904.02h0M396 903.93h0M398 904.39h0M400 905.76h0M402 906.03h0M404 906.82h0M406 907.69h0M408 908.76h0M410 909.63h0M412 909.72h0M414 910.97h0M416 910.89h0M418 911h0M420 912.14h0M422 911.65h0M424 912.27h0M426 913.43h0M428 912.81h0M430 913.62h0M432 914.25h0M434 914.28h0M436 913.45h0M438 913.8h0M440 914.39h0M442 913.98h0M444 914.87h0M446 913.9h0M448 915.02h0M450 914.47h0M452 914.15h0M454 914.55h0M456 914.17h0M458 915.05h0M460 914.51h0M462 915.48h0M464 915.11h0M466 914.88h0M468 914.79h0M470 915.37h0M472 914.89h0M474 915.89h0M476 914.92h0M478 915.54h0M480 915.66h0M482 915.34h0M484 916.1h0M486 915.62h0M488 916.06h0M490 915.99h0M492 915.7h0M494 915.87h0M496 915.5h0M498 915.69h0M500 916.69h0M502 916.01h0M504 916.55h0M506 915.83h0M508 916.53h0M510 916.31h0M512 916.56h0M514 916.34h0M516 916.07h0M518 916.48h0M520 916.42h0M522 916.34h0M524 917.22h0M526 916.68h0M528 916.9h0M530 917.67h0M532 917.54h0M534 917.76h0M536 917.79h0M538 916.83h0M540 917.09h0M542 916.93h0M544 918.03h0M546 918.2h0M548 917.95h0M550 918.23h0M552 918.76h0M554 919.01h0M556 918.57h0M558 919.6h0M560 919.09h0M562 919.48h0M564 918.85h0M566 918.76h0M568 919.88h0M570 919.63h0M572 919.6h0M574 918.66h0M576 918.66h0M578 918.83h0M580 918.88h0M582 919.02h0M584 919.13h0M586 918.65h0M588 919.04h0M590 919.49h0M592 918.85h0M594 919.78h0M596 919.4h0M598 919.6h0M600 918.96h0M602 919.21h0M604 919.56h0M606 919.09h0M608 918.6h0M610 919.77h0M612 919.69h0M614 919h0M616 918.66h0M618 919.8h0M620 919.45h0M622 918.67h0M624 918.94h0M626 918.76h0" stroke="#00FF00" stroke-width="6.4" stroke-linecap="round" fill="none"/></g><g clip-path="url(#cb)"><path d="M87 922.47 L89 921.55 L91 922.69 L93 922.44 L95 921.39 L97 922.37 L99 921.91 L101 922.48 L103 922.63 L105 921.76 L107 921.47 L109 922.85 L111 922.03 L113 922.85 L115 922.48 L117 922.57 L119 922.73 L121 922.42 L123 922.15 L125 921.53 L127 922.57 L129 922.15 L131 922.3 L133 922.98 L135 921.71 L137 922.74 L139 921.6 L141 922.67 L143 922.84 L145 921.99 L147 922.46 L149 923.14 L151 922.58 L153 922.34 L155 921.78 L157 921.38 L159 921.77 L161 921.77 L163 921.34 L165 921.43 L167 921.06 L169 921.89 L171 921.74 L173 920.96 L175 920.88 L177 921.22 L179 921.15 L181 921.98 L183 921.09 L185 921.05 L187 922.02 L189 920.88 L191 921.59 L193 921.27 L195 922.08 L197 921.69 L199 922.07 L201 921.17 L203 922.01 L205 921.94 L207 921.76 L209 922.29 L211 922.44 L213 921.33 L215 921.65 L217 921.81 L219 921.6 L221 921.41 L223 921.8 L225 921.71 L227 922.56 L229 922.2 L231 921.66 L233 921.96 L235 922.15 L237 921.94 L239 921.59 L241 921.39 L243 921.26 L245 922.79 L247 922.36 L249 921.25 L251 922.23 L253 922.61 L255 921.9 L257 921.13 L259 921.7 L261 921.57 L263 921.14 L265 921.67 L267 920.77 L269 922.19 L271 921.42 L273 920.78 L275 920.65 L277 919.59 L279 918.33 L281 917.7 L283 916.58 L285 915.13 L287 915.05 L289 913.87 L291 911.73 L293 910.27 L295 909.72 L297 909.69 L299 909.45 L301 907.87 L303 908.49 L305 908.2 L307 907.69 L309 906.2 L311 905.15 L313 905.35 L315 903.71 L317 902.79 L319 902.08 L321 900.96 L323 901.03 L325 899.42 L327 898.87 L329 899.91 L331 900.21 L333 901.51 L335 902.33 L337 903.9 L339 905.46 L341 906.19 L343 907.6 L345 908.45 L347 910.28 L349 912.33 L351 912.93 L353 915.1 L355 915.46 L357 916.42 L359 917.78 L361 916.89 L363 916.95 L365 917.37 L367 916.74 L369 917.37 L371 916.28 L373 917.99 L375 918.37 L377 918.62 L379 918.4 L381 918.43 L383 919.2 L385 919.12 L387 919.13 L389 919.16 L391 919.43 L393 919.84 L395 920.15 L397 920.32 L399 919.19 L401 919.45 L403 919.73 L405 919.98 L407 919.68 L409 919.49 L411 919.36 L413 919.79 L415 920.06 L417 920.93 L419 920.88 L421 920.86 L423 921.08 L425 921.11 L427 920.62 L429 920.97 L431 919.82 L433 920.86 L435 920.8 L437 920.35 L439 920.84 L441 921.5 L443 920.79 L445 921.11 L447 920.6 L449 920.72 L451 921.62 L453 920.24 L455 920.5 L457 921.29 L459 920.92 L461 920.34 L463 921.26 L465 920.8 L467 921.13 L469 920.87 L471 921.05 L473 921.1 L475 920.83 L477 920.38 L479 920.49 L481 921.62 L483 921.08 L485 920.38 L487 921.58 L489 920.61 L491 920.35 L493 921.05 L495 920.6 L497 920.98 L499 921.09 L501 920.56 L503 921.12 L505 920.38 L507 921.02 L509 921.14 L511 920.33 L513 920.85 L515 920.32 L517 920.9 L519 921.58 L521 921.08 L523 921.34 L525 921.41 L527 920.38 L529 921.79 L531 921.35 L533 920.36 L535 921.53 L537 920.83 L539 920.47 L541 921.74 L543 921.1 L545 921.44 L547 920.42 L549 921.44 L551 920.29 L553 920.58 L555 920.8 L557 920.22 L559 921.15 L561 920.54 L563 920.68 L565 921.33 L567 920.88 L569 921.62 L571 921.19 L573 921.6 L575 921.1 L577 921.67 L579 921.59 L581 920.47 L583 921.39 L585 920.75 L587 921.42 L589 921.29 L591 921.52 L593 920.4 L595 920.8 L597 921.38 L599 921.72 L601 921.35 L603 920.27 L605 921.17 L607 920.36 L609 921.08 L611 921.48 L613 920.38 L615 921.68 L617 921.28 L619 920.61 L621 920.51 L623 920.91 L625 921.54 L627 921.13" fill="none" stroke="#0000FF" stroke-width="0.8"/><path d="M87 922.47h0M89 921.55h0M91 922.69h0M93 922.44h0M95 921.39h0M97 922.37h0M99 921.91h0M101 922.48h0M103 922.63h0M105 921.76h0M107 921.47h0M109 922.85h0M111 922.03h0M113 922.85h0M115 922.48h0M117 922.57h0M119 922.73h0M121 922.42h0M123 922.15h0M125 921.53h0M127 922.57h0M129 922.15h0M131 922.3h0M133 922.98h0M135 921.71h0M137 922.74h0M139 921.6h0M141 922.67h0M143 922.84h0M145 921.99h0M147 922.46h0M149 923.14h0M151 922.58h0M153 922.34h0M155 921.78h0M157 921.38h0M159 921.77h0M161 921.77h0M163 921.34h0M165 921.43h0M167 921.06h0M169 921.89h0M171 921.74h0M173 920.96h0M175 920.88h0M177 921.22h0M179 921.15h0M181 921.98h0M183 921.09h0M185 921.05h0M187 922.02h0M189 920.88h0M191 921.59h0M193 921.27h0M195 922.08h0M197 921.69h0M199 922.07h0M201 921.17h0M203 922.01h0M205 921.94h0M207 921.76h0M209 922.29h0M211 922.44h0M213 921.33h0M215 921.65h0M217 921.81h0M219 921.6h0M221 921.41h0M223 921.8h0M225 921.71h0M227 922.56h0M229 922.2h0M231 921.66h0M233 921.96h0M235 922.15h0M237 921.94h0M239 921.59h0M241 921.39h0M243 921.26h0M245 922.79h0M247 922.36h0M249 921.25h0M251 922.23h0M253 922.61h0M255 921.9h0M257 921.13h0M259 921.7h0M261 921.57h0M263 921.14h0M265 921.67h0M267 920.77h0M269 922.19h0M271 921.42h0M273 920.78h0M275 920.65h0M277 919.59h0M279 918.33h0M281 917.7h0M283 916.58h0M285 915.13h0M287 915.05h0M289 913.87h0M291 911.73h0M293 910.27h0M295 909.72h0M297 909.69h0M299 909.45h0M301 907.87h0M303 908.49h0M305 908.2h0M307 907.69h0M309 906.2h0M311 905.15h0M313 905.35h0M315 903.71h0M317 902.79h0M319 902.08h0M321 900.96h0M323 901.03h0M325 899.42h0M327 898.87h0M329 899.91h0M331 900.21h0M333 901.51h0M335 902.33h0M337 903.9h0M339 905.46h0M341 906.19h0M343 907.6h0M345 908.45h0M347 910.28h0M349 912.33h0M351 912.93h0M353 915.1h0M355 915.46h0M357 916.42h0M359 917.78h0M361 916.89h0M363 916.95h0M365 917.37h0M367 916.74h0M369 917.37h0M371 916.28h0M373 917.99h0M375 918.37h0M377 918.62h0M379 918.4h0M381 918.43h0M383 919.2h0M385 919.12h0M387 919.13h0M389 919.16h0M391 919.43h0M393 919.84h0M395 920.15h0M397 920.32h0M399 919.19h0M401 919.45h0M403 919.73h0M405 919.98h0M407 919.68h0M409 919.49h0M411 919.36h0M413 919.79h0M415 920.06h0M417 920.93h0M419 920.88h0M421 920.86h0M423 921.08h0M425 921.11h0M427 920.62h0M429 920.97h0M431 919.82h0M433 920.86h0M435 920.8h0M437 920.35h0M439 920.84h0M441 921.5h0M443 920.79h0M445 921.11h0M447 920.6h0M449 920.72h0M451 921.62h0M453 920.24h0M455 920.5h0M457 921.29h0M459 920.92h0M461 920.34h0M463 921.26h0M465 920.8h0M467 921.13h0M469 920.87h0M471 921.05h0M473 921.1h0M475 920.83h0M477 920.38h0M479 920.49h0M481 921.62h0M483 921.08h0M485 920.38h0M487 921.58h0M489 920.61h0M491 920.35h0M493 921.05h0M495 920.6h0M497 920.98h0M499 921.09h0M501 920.56h0M503 921.12h0M505 920.38h0M507 921.02h0M509 921.14h0M511 920.33h0M513 920.85h0M515 920.32h0M517 920.9h0M519 921.58h0M521 921.08h0M523 921.34h0M525 921.41h0M527 920.38h0M529 921.79h0M531 921.35h0M533 920.36h0M535 921.53h0M537 920.83h0M539 920.47h0M541 921.74h0M543 921.1h0M545 921.44h0M547 920.42h0M549 921.44h0M551 920.29h0M553 920.58h0M555 920.8h0M557 920.22h0M559 921.15h0M561 920.54h0M563 920.68h0M565 921.33h0M567 920.88h0M569 921.62h0M571 921.19h0M573 921.6h0M575 921.1h0M577 921.67h0M579 921.59h0M581 920.47h0M583 921.39h0M585 920.75h0M587 921.42h0M589 921.29h0M591 921.52h0M593 920.4h0M595 920.8h0M597 921.38h0M599 921.72h0M601 921.35h0M603 920.27h0M605 921.17h0M607 920.36h0M609 921.08h0M611 921.48h0M613 920.38h0M615 921.68h0M617 921.28h0M619 920.61h0M621 920.51h0M623 920.91h0M625 921.54h0M627 921.13h0" stroke="#0000FF" stroke-width="5.6" stroke-linecap="round" fill="none"/></g><g clip-path="url(#cb)"><path d="M87 922.18 L89 922.04 L91 922.18 L93 923.29 L95 922.31 L97 922.9 L99 922.48 L101 923.11 L103 922.63 L105 922.25 L107 923.42 L109 922.89 L111 923.13 L113 923.32 L115 923.55 L117 922.05 L119 922.58 L121 922.28 L123 922.84 L125 923.44 L127 923.32 L129 922.1 L131 922.34 L133 923.36 L135 923.14 L137 922.68 L139 922.82 L141 922.31 L143 923.41 L145 922.69 L147 923.46 L149 923.05 L151 922.19 L153 922.6 L155 922.42 L157 923.51 L159 923.02 L161 922.15 L163 922.35 L165 922.66 L167 922.84 L169 923.01 L171 922.71 L173 922.66 L175 922.11 L177 923.03 L179 922.63 L181 922.14 L183 922.84 L185 923.69 L187 922.18 L189 922.34 L191 923.19 L193 922.55 L195 922.56 L197 922.92 L199 922.54 L201 923.03 L203 922.97 L205 923.66 L207 923.72 L209 922.19 L211 923.03 L213 923.37 L215 923.54 L217 923.38 L219 923.16 L221 923.16 L223 922.73 L225 922.6 L227 923.43 L229 923.55 L231 923.66 L233 923.25 L235 922.65 L237 923.39 L239 923.35 L241 922.98 L243 923.19 L245 922.73 L247 923.06 L249 922.83 L251 922.28 L253 922.72 L255 922.7 L257 923.77 L259 922.96 L261 922.78 L263 922.58 L265 922.57 L267 922.76 L269 922.42 L271 922.01 L273 922.99 L275 921.93 L277 921.51 L279 921.31 L281 920.48 L283 919.87 L285 919.31 L287 919.28 L289 918.89 L291 918.59 L293 916.77 L295 915.85 L297 913.35 L299 912.74 L301 911.29 L303 910.19 L305 910.05 L307 910.4 L309 910.76 L311 909.46 L313 909.83 L315 908.99 L317 909.03 L319 907.09 L321 907.1 L323 907.1 L325 905.44 L327 905.77 L329 905.76 L331 906.34 L333 906.87 L335 907.93 L337 908.02 L339 909.17 L341 909.72 L343 911.23 L345 912.52 L347 913.04 L349 913.18 L351 914.93 L353 916.22 L355 916.56 L357 916.65 L359 918.74 L361 919.44 L363 918.87 L365 918.82 L367 919.18 L369 920.02 L371 920.84 L373 920.74 L375 921.48 L377 920.62 L379 921.08 L381 921.9 L383 921.75 L385 921.37 L387 921.81 L389 921.28 L391 920.84 L393 921.42 L395 920.83 L397 921.77 L399 921.31 L401 921.58 L403 921.75 L405 921.21 L407 921.55 L409 920.84 L411 922.31 L413 921.74 L415 922.42 L417 920.94 L419 921.84 L421 922.02 L423 921.4 L425 921.03 L427 921.14 L429 921.13 L431 922.13 L433 921.06 L435 922.23 L437 921.61 L439 921.8 L441 921.89 L443 921.84 L445 922.01 L447 921.93 L449 921.51 L451 922.17 L453 921.41 L455 922.14 L457 922.23 L459 922.26 L461 921.52 L463 922.27 L465 922.61 L467 921.78 L469 921.51 L471 921.91 L473 922.58 L475 921.3 L477 921.11 L479 921.86 L481 922.16 L483 922.36 L485 921.71 L487 922.72 L489 921.51 L491 922.36 L493 921.3 L495 921.21 L497 921.39 L499 921.28 L501 921.99 L503 922.09 L505 921.5 L507 922.72 L509 921.81 L511 921.47 L513 921.52 L515 922.43 L517 922.73 L519 921.52 L521 921.32 L523 922.52 L525 921.68 L527 922.87 L529 922.1 L531 922.33 L533 921.87 L535 922.61 L537 922.07 L539 921.86 L541 922.8 L543 921.53 L545 922.54 L547 921.48 L549 922.42 L551 922.04 L553 922.78 L555 921.5 L557 922.32 L559 922.08 L561 922.9 L563 922.95 L565 922.45 L567 921.82 L569 921.87 L571 921.89 L573 922.18 L575 921.86 L577 921.82 L579 922.72 L581 922.54 L583 922 L585 923.12 L587 921.88 L589 922.46 L591 921.81 L593 922.94 L595 922.96 L597 922.01 L599 922.79 L601 922.91 L603 922.05 L605 922.14 L607 922.4 L609 923.05 L611 921.89 L613 922.74 L615 922.61 L617 922.38 L619 922.59 L621 923.09 L623 922.02 L625 923.11 L627 922.28" fill="none" stroke="#FF00FF" stroke-width="0.8"/><path d="M87 922.18h0M89 922.04h0M91 922.18h0M93 923.29h0M95 922.31h0M97 922.9h0M99 922.48h0M101 923.11h0M103 922.63h0M105 922.25h0M107 923.42h0M109 922.89h0M111 923.13h0M113 923.32h0M115 923.55h0M117 922.05h0M119 922.58h0M121 922.28h0M123 922.84h0M125 923.44h0M127 923.32h0M129 922.1h0M131 922.34h0M133 923.36h0M135 923.14h0M137 922.68h0M139 922.82h0M141 922.31h0M143 923.41h0M145 922.69h0M147 923.46h0M149 923.05h0M151 922.19h0M153 922.6h0M155 922.42h0M157 923.51h0M159 923.02h0M161 922.15h0M163 922.35h0M165 922.66h0M167 922.84h0M169 923.01h0M171 922.71h0M173 922.66h0M175 922.11h0M177 923.03h0M179 922.63h0M181 922.14h0M183 922.84h0M185 923.69h0M187 922.18h0M189 922.34h0M191 923.19h0M193 922.55h0M195 922.56h0M197 922.92h0M199 922.54h0M201 923.03h0M203 922.97h0M205 923.66h0M207 923.72h0M209 922.19h0M211 923.03h0M213 923.37h0M215 923.54h0M217 923.38h0M219 923.16h0M221 923.16h0M223 922.73h0M225 922.6h0M227 923.43h0M229 923.55h0M231 923.66h0M233 923.25h0M235 922.65h0M237 923.39h0M239 923.35h0M241 922.98h0M243 923.19h0M245 922.73h0M247 923.06h0M249 922.83h0M251 922.28h0M253 922.72h0M255 922.7h0M257 923.77h0M259 922.96h0M261 922.78h0M263 922.58h0M265 922.57h0M267 922.76h0M269 922.42h0M271 922.01h0M273 922.99h0M275 921.93h0M277 921.51h0M279 921.31h0M281 920.48h0M283 919.87h0M285 919.31h0M287 919.28h0M289 918.89h0M291 918.59h0M293 916.77h0M295 915.85h0M297 913.35h0M299 912.74h0M301 911.29h0M303 910.19h0M305 910.05h0M307 910.4h0M309 910.76h0M311 909.46h0M313 909.83h0M315 908.99h0M317 909.03h0M319 907.09h0M321 907.1h0M323 907.1h0M325 905.44h0M327 905.77h0M329 905.76h0M331 906.34h0M333 906.87h0M335 907.93h0M337 908.02h0M339 909.17h0M341 909.72h0M343 911.23h0M345 912.52h0M347 913.04h0M349 913.18h0M351 914.93h0M353 916.22h0M355 916.56h0M357 916.65h0M359 918.74h0M361 919.44h0M363 918.87h0M365 918.82h0M367 919.18h0M369 920.02h0M371 920.84h0M373 920.74h0M375 921.48h0M377 920.62h0M379 921.08h0M381 921.9h0M383 921.75h0M385 921.37h0M387 921.81h0M389 921.28h0M391 920.84h0M393 921.42h0M395 920.83h0M397 921.77h0M399 921.31h0M401 921.58h0M403 921.75h0M405 921.21h0M407 921.55h0M409 920.84h0M411 922.31h0M413 921.74h0M415 922.42h0M417 920.94h0M419 921.84h0M421 922.02h0M423 921.4h0M425 921.03h0M427 921.14h0M429 921.13h0M431 922.13h0M433 921.06h0M435 922.23h0M437 921.61h0M439 921.8h0M441 921.89h0M443 921.84h0M445 922.01h0M447 921.93h0M449 921.51h0M451 922.17h0M453 921.41h0M455 922.14h0M457 922.23h0M459 922.26h0M461 921.52h0M463 922.27h0M465 922.61h0M467 921.78h0M469 921.51h0M471 921.91h0M473 922.58h0M475 921.3h0M477 921.11h0M479 921.86h0M481 922.16h0M483 922.36h0M485 921.71h0M487 922.72h0M489 921.51h0M491 922.36h0M493 921.3h0M495 921.21h0M497 921.39h0M499 921.28h0M501 921.99h0M503 922.09h0M505 921.5h0M507 922.72h0M509 921.81h0M511 921.47h0M513 921.52h0M515 922.43h0M517 922.73h0M519 921.52h0M521 921.32h0M523 922.52h0M525 921.68h0M527 922.87h0M529 922.1h0M531 922.33h0M533 921.87h0M535 922.61h0M537 922.07h0M539 921.86h0M541 922.8h0M543 921.53h0M545 922.54h0M547 921.48h0M549 922.42h0M551 922.04h0M553 922.78h0M555 921.5h0M557 922.32h0M559 922.08h0M561 922.9h0M563 922.95h0M565 922.45h0M567 921.82h0M569 921.87h0M571 921.89h0M573 922.18h0M575 921.86h0M577 921.82h0M579 922.72h0M581 922.54h0M583 922h0M585 923.12h0M587 921.88h0M589 922.46h0M591 921.81h0M593 922.94h0M595 922.96h0M597 922.01h0M599 922.79h0M601 922.91h0M603 922.05h0M605 922.14h0M607 922.4h0M609 923.05h0M611 921.89h0M613 922.74h0M615 922.61h0M617 922.38h0M619 922.59h0M621 923.09h0M623 922.02h0M625 923.11h0M627 922.28h0" stroke="#FF00FF" stroke-width="5" stroke-linecap="round" fill="none"/></g><g clip-path="url(#cb)"><path d="M87 927.45 L89 927.56 L91 926.45 L93 927.52 L95 927.7 L97 926.57 L99 926.11 L101 926.23 L103 927.58 L105 926.02 L107 927.44 L109 926.2 L111 927.12 L113 926.07 L115 926.16 L117 926.96 L119 925.99 L121 926.37 L123 927.28 L125 926.93 L127 927.17 L129 927.31 L131 925.77 L133 926.07 L135 926.94 L137 926.76 L139 925.69 L141 926.42 L143 925.96 L145 926.25 L147 925.71 L149 925.55 L151 927.09 L153 925.99 L155 926.86 L157 925.63 L159 926.19 L161 925.61 L163 926.05 L165 925.63 L167 926.42 L169 925.54 L171 926.46 L173 926.06 L175 925.42 L177 925.78 L179 925.99 L181 926.64 L183 925.71 L185 925.47 L187 926.66 L189 926.5 L191 926.23 L193 925.48 L195 925.3 L197 925.42 L199 925.09 L201 925.02 L203 925.75 L205 925.56 L207 925.78 L209 925.45 L211 924.86 L213 925.92 L215 925.85 L217 925.65 L219 925.64 L221 925.84 L223 926.29 L225 926.09 L227 925.82 L229 925.29 L231 925.14 L233 925.28 L235 926.14 L237 925.18 L239 925.16 L241 925.17 L243 924.72 L245 926.07 L247 924.46 L249 925.4 L251 925.89 L253 924.79 L255 925.34 L257 924.95 L259 924.71 L261 924.62 L263 924.46 L265 925.6 L267 925.49 L269 925.66 L271 924.03 L273 924.56 L275 923.47 L277 923.48 L279 922.83 L281 921.95 L283 922.5 L285 920.45 L287 921.14 L289 920.82 L291 919.62 L293 918.95 L295 918.79 L297 916.78 L299 916.61 L301 915.99 L303 914.61 L305 914.34 L307 913.38 L309 913.14 L311 912.83 L313 912.48 L315 911.47 L317 911.51 L319 910.92 L321 909.96 L323 910.13 L325 909.12 L327 910.39 L329 909.94 L331 910.57 L333 910.5 L335 910.66 L337 910.49 L339 910.61 L341 912.43 L343 912.69 L345 913.57 L347 914.47 L349 915.82 L351 915.8 L353 916.58 L355 918.52 L357 918.26 L359 918.86 L361 919.48 L363 919.91 L365 920.19 L367 919.19 L369 920.05 L371 921.09 L373 921.39 L375 920.6 L377 920.97 L379 921.44 L381 921.37 L383 921.79 L385 922.53 L387 922.09 L389 922 L391 921.43 L393 921.94 L395 922.92 L397 922.45 L399 922.07 L401 922.14 L403 922.66 L405 922.62 L407 921.66 L409 922.52 L411 922.04 L413 922.3 L415 921.86 L417 922.09 L419 922.06 L421 922.14 L423 921.58 L425 921.89 L427 922.49 L429 921.69 L431 921.9 L433 922.78 L435 922.08 L437 922.18 L439 922.06 L441 923.03 L443 921.86 L445 922.74 L447 923.12 L449 922.08 L451 922.45 L453 923.06 L455 922.8 L457 922.42 L459 921.91 L461 922.56 L463 922.46 L465 923.03 L467 922.38 L469 922.57 L471 922.97 L473 923.25 L475 922.53 L477 922.6 L479 922.93 L481 923.5 L483 922.34 L485 923.6 L487 923.21 L489 922.68 L491 923.16 L493 922.64 L495 922.24 L497 923.36 L499 922.77 L501 923.02 L503 922.99 L505 923.65 L507 923.44 L509 922.29 L511 923.21 L513 923.02 L515 923.03 L517 923.65 L519 922.99 L521 923.1 L523 923.78 L525 923.08 L527 923.18 L529 923.23 L531 923.74 L533 923.51 L535 923.64 L537 923.11 L539 922.55 L541 923.59 L543 923.41 L545 923.77 L547 923.78 L549 922.76 L551 922.94 L553 922.72 L555 923.92 L557 922.8 L559 922.79 L561 923.87 L563 923.58 L565 922.79 L567 923.8 L569 923.87 L571 923.52 L573 922.85 L575 923.88 L577 923.46 L579 923.75 L581 924.42 L583 924.15 L585 924.26 L587 923.11 L589 923.43 L591 923.74 L593 922.93 L595 924.52 L597 923.4 L599 923.39 L601 923.49 L603 923.41 L605 924.4 L607 923.93 L609 923.87 L611 923.74 L613 923.17 L615 923.59 L617 924.51 L619 924.42 L621 924.52 L623 923.58 L625 923.51 L627 923.28" fill="none" stroke="#808000" stroke-width="0.8"/><path d="M87 927.45h0M89 927.56h0M91 926.45h0M93 927.52h0M95 927.7h0M97 926.57h0M99 926.11h0M101 926.23h0M103 927.58h0M105 926.02h0M107 927.44h0M109 926.2h0M111 927.12h0M113 926.07h0M115 926.16h0M117 926.96h0M119 925.99h0M121 926.37h0M123 927.28h0M125 926.93h0M127 927.17h0M129 927.31h0M131 925.77h0M133 926.07h0M135 926.94h0M137 926.76h0M139 925.69h0M141 926.42h0M143 925.96h0M145 926.25h0M147 925.71h0M149 925.55h0M151 927.09h0M153 925.99h0M155 926.86h0M157 925.63h0M159 926.19h0M161 925.61h0M163 926.05h0M165 925.63h0M167 926.42h0M169 925.54h0M171 926.46h0M173 926.06h0M175 925.42h0M177 925.78h0M179 925.99h0M181 926.64h0M183 925.71h0M185 925.47h0M187 926.66h0M189 926.5h0M191 926.23h0M193 925.48h0M195 925.3h0M197 925.42h0M199 925.09h0M201 925.02h0M203 925.75h0M205 925.56h0M207 925.78h0M209 925.45h0M211 924.86h0M213 925.92h0M215 925.85h0M217 925.65h0M219 925.64h0M221 925.84h0M223 926.29h0M225 926.09h0M227 925.82h0M229 925.29h0M231 925.14h0M233 925.28h0M235 926.14h0M237 925.18h0M239 925.16h0M241 925.17h0M243 924.72h0M245 926.07h0M247 924.46h0M249 925.4h0M251 925.89h0M253 924.79h0M255 925.34h0M257 924.95h0M259 924.71h0M261 924.62h0M263 924.46h0M265 925.6h0M267 925.49h0M269 925.66h0M271 924.03h0M273 924.56h0M275 923.47h0M277 923.48h0M279 922.83h0M281 921.95h0M283 922.5h0M285 920.45h0M287 921.14h0M289 920.82h0M291 919.62h0M293 918.95h0M295 918.79h0M297 916.78h0M299 916.61h0M301 915.99h0M303 914.61h0M305 914.34h0M307 913.38h0M309 913.14h0M311 912.83h0M313 912.48h0M315 911.47h0M317 911.51h0M319 910.92h0M321 909.96h0M323 910.13h0M325 909.12h0M327 910.39h0M329 909.94h0M331 910.57h0M333 910.5h0M335 910.66h0M337 910.49h0M339 910.61h0M341 912.43h0M343 912.69h0M345 913.57h0M347 914.47h0M349 915.82h0M351 915.8h0M353 916.58h0M355 918.52h0M357 918.26h0M359 918.86h0M361 919.48h0M363 919.91h0M365 920.19h0M367 919.19h0M369 920.05h0M371 921.09h0M373 921.39h0M375 920.6h0M377 920.97h0M379 921.44h0M381 921.37h0M383 921.79h0M385 922.53h0M387 922.09h0M389 922h0M391 921.43h0M393 921.94h0M395 922.92h0M397 922.45h0M399 922.07h0M401 922.14h0M403 922.66h0M405 922.62h0M407 921.66h0M409 922.52h0M411 922.04h0M413 922.3h0M415 921.86h0M417 922.09h0M419 922.06h0M421 922.14h0M423 921.58h0M425 921.89h0M427 922.49h0M429 921.69h0M431 921.9h0M433 922.78h0M435 922.08h0M437 922.18h0M439 922.06h0M441 923.03h0M443 921.86h0M445 922.74h0M447 923.12h0M449 922.08h0M451 922.45h0M453 923.06h0M455 922.8h0M457 922.42h0M459 921.91h0M461 922.56h0M463 922.46h0M465 923.03h0M467 922.38h0M469 922.57h0M471 922.97h0M473 923.25h0M475 922.53h0M477 922.6h0M479 922.93h0M481 923.5h0M483 922.34h0M485 923.6h0M487 923.21h0M489 922.68h0M491 923.16h0M493 922.64h0M495 922.24h0M497 923.36h0M499 922.77h0M501 923.02h0M503 922.99h0M505 923.65h0M507 923.44h0M509 922.29h0M511 923.21h0M513 923.02h0M515 923.03h0M517 923.65h0M519 922.99h0M521 923.1h0M523 923.78h0M525 923.08h0M527 923.18h0M529 923.23h0M531 923.74h0M533 923.51h0M535 923.64h0M537 923.11h0M539 922.55h0M541 923.59h0M543 923.41h0M545 923.77h0M547 923.78h0M549 922.76h0M551 922.94h0M553 922.72h0M555 923.92h0M557 922.8h0M559 922.79h0M561 923.87h0M563 923.58h0M565 922.79h0M567 923.8h0M569 923.87h0M571 923.52h0M573 922.85h0M575 923.88h0M577 923.46h0M579 923.75h0M581 924.42h0M583 924.15h0M585 924.26h0M587 923.11h0M589 923.43h0M591 923.74h0M593 922.93h0M595 924.52h0M597 923.4h0M599 923.39h0M601 923.49h0M603 923.41h0M605 924.4h0M607 923.93h0M609 923.87h0M611 923.74h0M613 923.17h0M615 923.59h0M617 924.51h0M619 924.42h0M621 924.52h0M623 923.58h0M625 923.51h0M627 923.28h0" stroke="#808000" stroke-width="5" stroke-linecap="round" fill="none"/></g><g clip-path="url(#cb)"><path d="M87 923.56 L89 923.29 L91 923.42 L93 923.45 L95 923.59 L97 923.23 L99 923.92 L101 922.94 L103 924.08 L105 923.49 L107 922.67 L109 923.08 L111 923.42 L113 923.21 L115 923.45 L117 923.05 L119 922.96 L121 923.79 L123 922.97 L125 923.63 L127 923.77 L129 923.42 L131 923.19 L133 923.94 L135 923.15 L137 923.83 L139 922.51 L141 923.1 L143 923.42 L145 922.46 L147 923.75 L149 922.48 L151 923.3 L153 922.63 L155 923.8 L157 923.22 L159 923.59 L161 923.09 L163 923.36 L165 923.35 L167 922.73 L169 922.59 L171 923.58 L173 922.46 L175 923.69 L177 922.54 L179 922.36 L181 922.34 L183 923.43 L185 923.69 L187 922.82 L189 923.2 L191 922.54 L193 923.57 L195 923.21 L197 922.35 L199 922.18 L201 923.19 L203 922.13 L205 923.39 L207 922.51 L209 922.41 L211 922.95 L213 922.52 L215 922.9 L217 922.24 L219 923.44 L221 922.49 L223 923.3 L225 922.19 L227 923.21 L229 923.49 L231 922.54 L233 921.95 L235 922.5 L237 922.91 L239 922.23 L241 922.73 L243 922 L245 922.58 L247 922.99 L249 922.5 L251 922.89 L253 921.98 L255 923.11 L257 921.97 L259 923.24 L261 923.34 L263 923.24 L265 922.57 L267 922.18 L269 922.26 L271 922.67 L273 921.79 L275 922.01 L277 920.2 L279 920.36 L281 920.5 L283 919.6 L285 919.04 L287 917.85 L289 917.46 L291 917.29 L293 918.01 L295 917.65 L297 916.38 L299 917.22 L301 915.51 L303 916.14 L305 916.45 L307 915.17 L309 915.85 L311 915.13 L313 913.92 L315 914.13 L317 914.08 L319 913.52 L321 914.07 L323 912.93 L325 913.66 L327 913.12 L329 912.99 L331 914.01 L333 913.51 L335 914.48 L337 915.1 L339 915.03 L341 915.24 L343 915.17 L345 916.55 L347 916.5 L349 917.99 L351 917.78 L353 919.11 L355 919.36 L357 919.28 L359 919.62 L361 918.7 L363 918.59 L365 919.71 L367 918.61 L369 919.31 L371 919.58 L373 919.51 L375 919.54 L377 920.01 L379 921.83 L381 920.99 L383 921.79 L385 922.06 L387 921.59 L389 922.35 L391 922.06 L393 922.86 L395 923.01 L397 922.99 L399 922.92 L401 923.35 L403 923.03 L405 922.91 L407 923.09 L409 924.11 L411 923.52 L413 924.14 L415 922.74 L417 924.23 L419 923.51 L421 923.99 L423 923.64 L425 923.84 L427 923.1 L429 923.94 L431 922.99 L433 923.17 L435 922.8 L437 923.38 L439 923.58 L441 923.22 L443 924.18 L445 922.89 L447 923.69 L449 923.14 L451 923.72 L453 924.02 L455 923.91 L457 922.87 L459 923.17 L461 923.74 L463 924.36 L465 922.85 L467 923.78 L469 923.9 L471 924.1 L473 923.34 L475 924.1 L477 923.54 L479 924.28 L481 922.82 L483 924.31 L485 923.47 L487 923.47 L489 922.96 L491 923.21 L493 924 L495 923.91 L497 923.07 L499 923.38 L501 923.06 L503 923.15 L505 923.19 L507 923.37 L509 924.41 L511 924.44 L513 924.12 L515 923.62 L517 923.65 L519 924.1 L521 924.31 L523 924.06 L525 923.88 L527 923.19 L529 923.87 L531 924.23 L533 924.13 L535 923.03 L537 924.03 L539 923.44 L541 923.15 L543 924.43 L545 923.97 L547 924.09 L549 923.11 L551 924.23 L553 924.4 L555 924.35 L557 924.1 L559 924.24 L561 924.2 L563 923.86 L565 923.61 L567 924.24 L569 924.18 L571 924.32 L573 923.41 L575 924.47 L577 923.78 L579 924.45 L581 923.12 L583 924.49 L585 924.2 L587 923.35 L589 924.29 L591 923.32 L593 923.27 L595 923.69 L597 923.34 L599 923.75 L601 924.42 L603 924.06 L605 924.11 L607 923.6 L609 924.23 L611 924.25 L613 924.07 L615 924.49 L617 924.31 L619 923.64 L621 923.13 L623 924.04 L625 924.34 L627 923.54" fill="none" stroke="#008080" stroke-width="0.8"/><path d="M87 923.56h0M89 923.29h0M91 923.42h0M93 923.45h0M95 923.59h0M97 923.23h0M99 923.92h0M101 922.94h0M103 924.08h0M105 923.49h0M107 922.67h0M109 923.08h0M111 923.42h0M113 923.21h0M115 923.45h0M117 923.05h0M119 922.96h0M121 923.79h0M123 922.97h0M125 923.63h0M127 923.77h0M129 923.42h0M131 923.19h0M133 923.94h0M135 923.15h0M137 923.83h0M139 922.51h0M141 923.1h0M143 923.42h0M145 922.46h0M147 923.75h0M149 922.48h0M151 923.3h0M153 922.63h0M155 923.8h0M157 923.22h0M159 923.59h0M161 923.09h0M163 923.36h0M165 923.35h0M167 922.73h0M169 922.59h0M171 923.58h0M173 922.46h0M175 923.69h0M177 922.54h0M179 922.36h0M181 922.34h0M183 923.43h0M185 923.69h0M187 922.82h0M189 923.2h0M191 922.54h0M193 923.57h0M195 923.21h0M197 922.35h0M199 922.18h0M201 923.19h0M203 922.13h0M205 923.39h0M207 922.51h0M209 922.41h0M211 922.95h0M213 922.52h0M215 922.9h0M217 922.24h0M219 923.44h0M221 922.49h0M223 923.3h0M225 922.19h0M227 923.21h0M229 923.49h0M231 922.54h0M233 921.95h0M235 922.5h0M237 922.91h0M239 922.23h0M241 922.73h0M243 922h0M245 922.58h0M247 922.99h0M249 922.5h0M251 922.89h0M253 921.98h0M255 923.11h0M257 921.97h0M259 923.24h0M261 923.34h0M263 923.24h0M265 922.57h0M267 922.18h0M269 922.26h0M271 922.67h0M273 921.79h0M275 922.01h0M277 920.2h0M279 920.36h0M281 920.5h0M283 919.6h0M285 919.04h0M287 917.85h0M289 917.46h0M291 917.29h0M293 918.01h0M295 917.65h0M297 916.38h0M299 917.22h0M301 915.51h0M303 916.14h0M305 916.45h0M307 915.17h0M309 915.85h0M311 915.13h0M313 913.92h0M315 914.13h0M317 914.08h0M319 913.52h0M321 914.07h0M323 912.93h0M325 913.66h0M327 913.12h0M329 912.99h0M331 914.01h0M333 913.51h0M335 914.48h0M337 915.1h0M339 915.03h0M341 915.24h0M343 915.17h0M345 916.55h0M347 916.5h0M349 917.99h0M351 917.78h0M353 919.11h0M355 919.36h0M357 919.28h0M359 919.62h0M361 918.7h0M363 918.59h0M365 919.71h0M367 918.61h0M369 919.31h0M371 919.58h0M373 919.51h0M375 919.54h0M377 920.01h0M379 921.83h0M381 920.99h0M383 921.79h0M385 922.06h0M387 921.59h0M389 922.35h0M391 922.06h0M393 922.86h0M395 923.01h0M397 922.99h0M399 922.92h0M401 923.35h0M403 923.03h0M405 922.91h0M407 923.09h0M409 924.11h0M411 923.52h0M413 924.14h0M415 922.74h0M417 924.23h0M419 923.51h0M421 923.99h0M423 923.64h0M425 923.84h0M427 923.1h0M429 923.94h0M431 922.99h0M433 923.17h0M435 922.8h0M437 923.38h0M439 923.58h0M441 923.22h0M443 924.18h0M445 922.89h0M447 923.69h0M449 923.14h0M451 923.72h0M453 924.02h0M455 923.91h0M457 922.87h0M459 923.17h0M461 923.74h0M463 924.36h0M465 922.85h0M467 923.78h0M469 923.9h0M471 924.1h0M473 923.34h0M475 924.1h0M477 923.54h0M479 924.28h0M481 922.82h0M483 924.31h0M485 923.47h0M487 923.47h0M489 922.96h0M491 923.21h0M493 924h0M495 923.91h0M497 923.07h0M499 923.38h0M501 923.06h0M503 923.15h0M505 923.19h0M507 923.37h0M509 924.41h0M511 924.44h0M513 924.12h0M515 923.62h0M517 923.65h0M519 924.1h0M521 924.31h0M523 924.06h0M525 923.88h0M527 923.19h0M529 923.87h0M531 924.23h0M533 924.13h0M535 923.03h0M537 924.03h0M539 923.44h0M541 923.15h0M543 924.43h0M545 923.97h0M547 924.09h0M549 923.11h0M551 924.23h0M553 924.4h0M555 924.35h0M557 924.1h0M559 924.24h0M561 924.2h0M563 923.86h0M565 923.61h0M567 924.24h0M569 924.18h0M571 924.32h0M573 923.41h0M575 924.47h0M577 923.78h0M579 924.45h0M581 923.12h0M583 924.49h0M585 924.2h0M587 923.35h0M589 924.29h0M591 923.32h0M593 923.27h0M595 923.69h0M597 923.34h0M599 923.75h0M601 924.42h0M603 924.06h0M605 924.11h0M607 923.6h0M609 924.23h0M611 924.25h0M613 924.07h0M615 924.49h0M617 924.31h0M619 923.64h0M621 923.13h0M623 924.04h0M625 924.34h0M627 923.54h0" stroke="#008080" stroke-width="5.4" stroke-linecap="round" fill="none"/></g><g clip-path="url(#cb)"><path d="M87 925.99 L89 926.47 L91 926.38 L93 924.8 L95 925.77 L97 924.83 L99 925.01 L101 926.41 L103 925.63 L105 926 L107 925.7 L109 925.45 L111 925.21 L113 925.49 L115 926.47 L117 926.02 L119 925.36 L121 924.95 L123 925.32 L125 926.17 L127 925.65 L129 926.09 L131 926.38 L133 925.01 L135 926.13 L137 924.85 L139 926.41 L141 925.13 L143 925.3 L145 926.67 L147 925.48 L149 925.2 L151 926.53 L153 925.97 L155 926.54 L157 925.54 L159 925.75 L161 926.66 L163 925.76 L165 926.72 L167 925.12 L169 926.4 L171 925.06 L173 925.79 L175 924.74 L177 925.08 L179 926.62 L181 925.64 L183 926.35 L185 925.23 L187 925.43 L189 924.93 L191 925.83 L193 926.45 L195 925.75 L197 925.47 L199 926.57 L201 926.5 L203 926.05 L205 924.86 L207 925.96 L209 925.6 L211 926.62 L213 925.43 L215 926.03 L217 925.97 L219 925.45 L221 925.75 L223 926.05 L225 926.51 L227 925.69 L229 925.42 L231 926.65 L233 924.81 L235 926.36 L237 926.06 L239 925.8 L241 925.58 L243 926.19 L245 926.47 L247 926.14 L249 926.18 L251 924.75 L253 925.33 L255 924.95 L257 926.58 L259 926.46 L261 924.96 L263 925.84 L265 925.82 L267 924.76 L269 925.45 L271 926.16 L273 925.95 L275 925.22 L277 926.18 L279 925.24 L281 925.74 L283 925.5 L285 926.61 L287 925.95 L289 926.26 L291 926 L293 925.41 L295 926.57 L297 926.06 L299 926.02 L301 925.2 L303 924.96 L305 925.79 L307 926.29 L309 926.22 L311 925.33 L313 924.91 L315 925.66 L317 926.38 L319 924.95 L321 926.1 L323 924.97 L325 925.25 L327 924.73 L329 925.22 L331 925.39 L333 926.55 L335 926.54 L337 924.99 L339 925.23 L341 926.5 L343 925.01 L345 925.25 L347 925.48 L349 924.82 L351 925.12 L353 925.39 L355 925.37 L357 926.53 L359 925.13 L361 925 L363 926.41 L365 925.49 L367 926.27 L369 925.87 L371 926.15 L373 925.22 L375 924.89 L377 926.1 L379 925.52 L381 925.7 L383 925.92 L385 926.08 L387 925.13 L389 925.3 L391 926.41 L393 925.63 L395 925.15 L397 925.83 L399 925.09 L401 926.11 L403 924.65 L405 926.22 L407 925.7 L409 925.27 L411 926.44 L413 925.09 L415 925.04 L417 924.7 L419 925.65 L421 926.06 L423 925.91 L425 925.38 L427 926.16 L429 924.77 L431 925.16 L433 925.83 L435 926.48 L437 925.81 L439 925.92 L441 926.09 L443 925.33 L445 926.42 L447 926.02 L449 925.22 L451 925.32 L453 926.14 L455 925.23 L457 924.9 L459 926.27 L461 925.59 L463 925.56 L465 925.86 L467 926.32 L469 924.78 L471 925.19 L473 924.65 L475 925.34 L477 925.52 L479 926.21 L481 925.84 L483 925.66 L485 925.31 L487 925.65 L489 925.05 L491 926.19 L493 926.08 L495 926.17 L497 924.8 L499 925.84 L501 926 L503 925.49 L505 926.29 L507 926.29 L509 925.97 L511 926.13 L513 925.78 L515 926.24 L517 924.74 L519 925.89 L521 925.89 L523 925.7 L525 925.03 L527 924.61 L529 925.68 L531 926.12 L533 925.02 L535 924.89 L537 924.91 L539 924.65 L541 925.82 L543 926.41 L545 926.06 L547 925.18 L549 925.86 L551 924.6 L553 926.13 L555 925.1 L557 924.46 L559 925.71 L561 924.73 L563 925 L565 924.56 L567 925.34 L569 925.55 L571 926.06 L573 924.52 L575 926.09 L577 924.66 L579 924.88 L581 925.69 L583 925.11 L585 925.09 L587 925.57 L589 924.86 L591 926.01 L593 924.84 L595 926.1 L597 926.04 L599 925.49 L601 924.48 L603 925.97 L605 924.47 L607 925.42 L609 925.26 L611 924.54 L613 925.67 L615 925.86 L617 925.58 L619 925.21 L621 925.43 L623 925.58 L625 924.85 L627 926.14" fill="none" stroke="#000000" stroke-width="0.8"/><path d="M87 925.99h0M89 926.47h0M91 926.38h0M93 924.8h0M95 925.77h0M97 924.83h0M99 925.01h0M101 926.41h0M103 925.63h0M105 926h0M107 925.7h0M109 925.45h0M111 925.21h0M113 925.49h0M115 926.47h0M117 926.02h0M119 925.36h0M121 924.95h0M123 925.32h0M125 926.17h0M127 925.65h0M129 926.09h0M131 926.38h0M133 925.01h0M135 926.13h0M137 924.85h0M139 926.41h0M141 925.13h0M143 925.3h0M145 926.67h0M147 925.48h0M149 925.2h0M151 926.53h0M153 925.97h0M155 926.54h0M157 925.54h0M159 925.75h0M161 926.66h0M163 925.76h0M165 926.72h0M167 925.12h0M169 926.4h0M171 925.06h0M173 925.79h0M175 924.74h0M177 925.08h0M179 926.62h0M181 925.64h0M183 926.35h0M185 925.23h0M187 925.43h0M189 924.93h0M191 925.83h0M193 926.45h0M195 925.75h0M197 925.47h0M199 926.57h0M201 926.5h0M203 926.05h0M205 924.86h0M207 925.96h0M209 925.6h0M211 926.62h0M213 925.43h0M215 926.03h0M217 925.97h0M219 925.45h0M221 925.75h0M223 926.05h0M225 926.51h0M227 925.69h0M229 925.42h0M231 926.65h0M233 924.81h0M235 926.36h0M237 926.06h0M239 925.8h0M241 925.58h0M243 926.19h0M245 926.47h0M247 926.14h0M249 926.18h0M251 924.75h0M253 925.33h0M255 924.95h0M257 926.58h0M259 926.46h0M261 924.96h0M263 925.84h0M265 925.82h0M267 924.76h0M269 925.45h0M271 926.16h0M273 925.95h0M275 925.22h0M277 926.18h0M279 925.24h0M281 925.74h0M283 925.5h0M285 926.61h0M287 925.95h0M289 926.26h0M291 926h0M293 925.41h0M295 926.57h0M297 926.06h0M299 926.02h0M301 925.2h0M303 924.96h0M305 925.79h0M307 926.29h0M309 926.22h0M311 925.33h0M313 924.91h0M315 925.66h0M317 926.38h0M319 924.95h0M321 926.1h0M323 924.97h0M325 925.25h0M327 924.73h0M329 925.22h0M331 925.39h0M333 926.55h0M335 926.54h0M337 924.99h0M339 925.23h0M341 926.5h0M343 925.01h0M345 925.25h0M347 925.48h0M349 924.82h0M351 925.12h0M353 925.39h0M355 925.37h0M357 926.53h0M359 925.13h0M361 925h0M363 926.41h0M365 925.49h0M367 926.27h0M369 925.87h0M371 926.15h0M373 925.22h0M375 924.89h0M377 926.1h0M379 925.52h0M381 925.7h0M383 925.92h0M385 926.08h0M387 925.13h0M389 925.3h0M391 926.41h0M393 925.63h0M395 925.15h0M397 925.83h0M399 925.09h0M401 926.11h0M403 924.65h0M405 926.22h0M407 925.7h0M409 925.27h0M411 926.44h0M413 925.09h0M415 925.04h0M417 924.7h0M419 925.65h0M421 926.06h0M423 925.91h0M425 925.38h0M427 926.16h0M429 924.77h0M431 925.16h0M433 925.83h0M435 926.48h0M437 925.81h0M439 925.92h0M441 926.09h0M443 925.33h0M445 926.42h0M447 926.02h0M449 925.22h0M451 925.32h0M453 926.14h0M455 925.23h0M457 924.9h0M459 926.27h0M461 925.59h0M463 925.56h0M465 925.86h0M467 926.32h0M469 924.78h0M471 925.19h0M473 924.65h0M475 925.34h0M477 925.52h0M479 926.21h0M481 925.84h0M483 925.66h0M485 925.31h0M487 925.65h0M489 925.05h0M491 926.19h0M493 926.08h0M495 926.17h0M497 924.8h0M499 925.84h0M501 926h0M503 925.49h0M505 926.29h0M507 926.29h0M509 925.97h0M511 926.13h0M513 925.78h0M515 926.24h0M517 924.74h0M519 925.89h0M521 925.89h0M523 925.7h0M525 925.03h0M527 924.61h0M529 925.68h0M531 926.12h0M533 925.02h0M535 924.89h0M537 924.91h0M539 924.65h0M541 925.82h0M543 926.41h0M545 926.06h0M547 925.18h0M549 925.86h0M551 924.6h0M553 926.13h0M555 925.1h0M557 924.46h0M559 925.71h0M561 924.73h0M563 925h0M565 924.56h0M567 925.34h0M569 925.55h0M571 926.06h0M573 924.52h0M575 926.09h0M577 924.66h0M579 924.88h0M581 925.69h0M583 925.11h0M585 925.09h0M587 925.57h0M589 924.86h0M591 926.01h0M593 924.84h0M595 926.1h0M597 926.04h0M599 925.49h0M601 924.48h0M603 925.97h0M605 924.47h0M607 925.42h0M609 925.26h0M611 924.54h0M613 925.67h0M615 925.86h0M617 925.58h0M619 925.21h0M621 925.43h0M623 925.58h0M625 924.85h0M627 926.14h0" stroke="#000000" stroke-width="6.6" stroke-linecap="round" fill="none"/></g><rect x="73" y="7.3" width="559" height="410.5" fill="none" stroke="#000" stroke-width="2"/><line x1="63.8" y1="414" x2="73" y2="414" stroke="#000" stroke-width="1.7"/><line x1="67.8" y1="395.35" x2="73" y2="395.35" stroke="#000" stroke-width="1.7"/><line x1="63.8" y1="376.7" x2="73" y2="376.7" stroke="#000" stroke-width="1.7"/><line x1="67.8" y1="358.05" x2="73" y2="358.05" stroke="#000" stroke-width="1.7"/><line x1="63.8" y1="339.4" x2="73" y2="339.4" stroke="#000" stroke-width="1.7"/><line x1="67.8" y1="320.75" x2="73" y2="320.75" stroke="#000" stroke-width="1.7"/><line x1="63.8" y1="302.1" x2="73" y2="302.1" stroke="#000" stroke-width="1.7"/><line x1="67.8" y1="283.45" x2="73" y2="283.45" stroke="#000" stroke-width="1.7"/><line x1="63.8" y1="264.8" x2="73" y2="264.8" stroke="#000" stroke-width="1.7"/><line x1="67.8" y1="246.15" x2="73" y2="246.15" stroke="#000" stroke-width="1.7"/><line x1="63.8" y1="227.5" x2="73" y2="227.5" stroke="#000" stroke-width="1.7"/><line x1="67.8" y1="208.85" x2="73" y2="208.85" stroke="#000" stroke-width="1.7"/><line x1="63.8" y1="190.2" x2="73" y2="190.2" stroke="#000" stroke-width="1.7"/><line x1="67.8" y1="171.55" x2="73" y2="171.55" stroke="#000" stroke-width="1.7"/><line x1="63.8" y1="152.9" x2="73" y2="152.9" stroke="#000" stroke-width="1.7"/><line x1="67.8" y1="134.25" x2="73" y2="134.25" stroke="#000" stroke-width="1.7"/><line x1="63.8" y1="115.6" x2="73" y2="115.6" stroke="#000" stroke-width="1.7"/><line x1="67.8" y1="96.95" x2="73" y2="96.95" stroke="#000" stroke-width="1.7"/><line x1="63.8" y1="78.3" x2="73" y2="78.3" stroke="#000" stroke-width="1.7"/><line x1="67.8" y1="59.65" x2="73" y2="59.65" stroke="#000" stroke-width="1.7"/><line x1="63.8" y1="41" x2="73" y2="41" stroke="#000" stroke-width="1.7"/><line x1="67.8" y1="22.35" x2="73" y2="22.35" stroke="#000" stroke-width="1.7"/><line x1="73" y1="417.8" x2="73" y2="426.4" stroke="#000" stroke-width="1.7"/><line x1="119.58" y1="417.8" x2="119.58" y2="422.2" stroke="#000" stroke-width="1.7"/><line x1="166.17" y1="417.8" x2="166.17" y2="426.4" stroke="#000" stroke-width="1.7"/><line x1="212.75" y1="417.8" x2="212.75" y2="422.2" stroke="#000" stroke-width="1.7"/><line x1="259.33" y1="417.8" x2="259.33" y2="426.4" stroke="#000" stroke-width="1.7"/><line x1="305.92" y1="417.8" x2="305.92" y2="422.2" stroke="#000" stroke-width="1.7"/><line x1="352.5" y1="417.8" x2="352.5" y2="426.4" stroke="#000" stroke-width="1.7"/><line x1="399.08" y1="417.8" x2="399.08" y2="422.2" stroke="#000" stroke-width="1.7"/><line x1="445.67" y1="417.8" x2="445.67" y2="426.4" stroke="#000" stroke-width="1.7"/><line x1="492.25" y1="417.8" x2="492.25" y2="422.2" stroke="#000" stroke-width="1.7"/><line x1="538.83" y1="417.8" x2="538.83" y2="426.4" stroke="#000" stroke-width="1.7"/><line x1="585.42" y1="417.8" x2="585.42" y2="422.2" stroke="#000" stroke-width="1.7"/><line x1="632" y1="417.8" x2="632" y2="426.4" stroke="#000" stroke-width="1.7"/><text x="59.2" y="418.4" font-size="19.5" text-anchor="end" textLength="10.5" lengthAdjust="spacingAndGlyphs">0</text><text x="59.2" y="381.1" font-size="19.5" text-anchor="end" textLength="21" lengthAdjust="spacingAndGlyphs">10</text><text x="59.2" y="343.8" font-size="19.5" text-anchor="end" textLength="21" lengthAdjust="spacingAndGlyphs">20</text><text x="59.2" y="306.5" font-size="19.5" text-anchor="end" textLength="21" lengthAdjust="spacingAndGlyphs">30</text><text x="59.2" y="269.2" font-size="19.5" text-anchor="end" textLength="21" lengthAdjust="spacingAndGlyphs">40</text><text x="59.2" y="231.9" font-size="19.5" text-anchor="end" textLength="21" lengthAdjust="spacingAndGlyphs">50</text><text x="59.2" y="194.6" font-size="19.5" text-anchor="end" textLength="21" lengthAdjust="spacingAndGlyphs">60</text><text x="59.2" y="157.3" font-size="19.5" text-anchor="end" textLength="21" lengthAdjust="spacingAndGlyphs">70</text><text x="59.2" y="120" font-size="19.5" text-anchor="end" textLength="21" lengthAdjust="spacingAndGlyphs">80</text><text x="59.2" y="82.7" font-size="19.5" text-anchor="end" textLength="21" lengthAdjust="spacingAndGlyphs">90</text><text x="59.2" y="45.4" font-size="19.5" text-anchor="end" textLength="31.5" lengthAdjust="spacingAndGlyphs">100</text><text x="73" y="445.8" font-size="19.5" text-anchor="middle" textLength="30.4" lengthAdjust="spacingAndGlyphs">200</text><text x="166.17" y="445.8" font-size="19.5" text-anchor="middle" textLength="30.4" lengthAdjust="spacingAndGlyphs">250</text><text x="259.33" y="445.8" font-size="19.5" text-anchor="middle" textLength="30.4" lengthAdjust="spacingAndGlyphs">300</text><text x="352.5" y="445.8" font-size="19.5" text-anchor="middle" textLength="30.4" lengthAdjust="spacingAndGlyphs">350</text><text x="445.67" y="445.8" font-size="19.5" text-anchor="middle" textLength="30.4" lengthAdjust="spacingAndGlyphs">400</text><text x="538.83" y="445.8" font-size="19.5" text-anchor="middle" textLength="30.4" lengthAdjust="spacingAndGlyphs">450</text><text x="632" y="445.8" font-size="19.5" text-anchor="middle" textLength="30.4" lengthAdjust="spacingAndGlyphs">500</text><text transform="translate(24.3 334) rotate(-90)" font-size="19.5" textLength="236" lengthAdjust="spacingAndGlyphs">Normalized Intensity (a.u.)</text><text x="270.2" y="477" font-size="20" textLength="143.2" lengthAdjust="spacingAndGlyphs">Raman shift (cm</text><text x="413.6" y="466" font-size="19.5" textLength="15.2" lengthAdjust="spacingAndGlyphs">-1</text><text x="430.2" y="477" font-size="20">)</text><text x="352" y="504.3" font-size="17.5" text-anchor="middle" font-weight="bold" textLength="21.5" lengthAdjust="spacingAndGlyphs">(a)</text><rect x="87" y="20.2" width="154.2" height="238.4" fill="none" stroke="#222" stroke-width="1.35"/><text x="100.6" y="50.3" font-size="18.3" font-weight="bold" textLength="129" lengthAdjust="spacingAndGlyphs">ZrS<tspan dy="8.6" font-size="11">2</tspan><tspan dy="-8.6"> on Si/SiO</tspan><tspan dy="8.6" font-size="11">2</tspan></text><line x1="100.4" y1="77.8" x2="115.3" y2="77.8" stroke="#800000" stroke-width="1.1"/><line x1="131" y1="77.8" x2="145.3" y2="77.8" stroke="#800000" stroke-width="1.1"/><circle cx="123.2" cy="77.8" r="3" fill="#800000"/><text x="150.3" y="84.2" font-size="19" textLength="37.4" lengthAdjust="spacingAndGlyphs">Bulk</text><line x1="100.4" y1="104.7" x2="115.3" y2="104.7" stroke="#00FFFF" stroke-width="1.1"/><line x1="131" y1="104.7" x2="145.3" y2="104.7" stroke="#00FFFF" stroke-width="1.1"/><circle cx="123.2" cy="104.7" r="3" fill="#00FFFF"/><text x="150.3" y="111.1" font-size="19" textLength="34.8" lengthAdjust="spacingAndGlyphs">42 L</text><line x1="100.4" y1="131.6" x2="115.3" y2="131.6" stroke="#00FF00" stroke-width="1.1"/><line x1="131" y1="131.6" x2="145.3" y2="131.6" stroke="#00FF00" stroke-width="1.1"/><circle cx="123.2" cy="131.6" r="3" fill="#00FF00"/><text x="150.3" y="138" font-size="19" textLength="34.8" lengthAdjust="spacingAndGlyphs">17 L</text><line x1="100.4" y1="158.5" x2="115.3" y2="158.5" stroke="#0000FF" stroke-width="1.1"/><line x1="131" y1="158.5" x2="145.3" y2="158.5" stroke="#0000FF" stroke-width="1.1"/><circle cx="123.2" cy="158.5" r="3" fill="#0000FF"/><text x="150.3" y="164.9" font-size="19" textLength="34.8" lengthAdjust="spacingAndGlyphs">13 L</text><line x1="100.4" y1="185.4" x2="115.3" y2="185.4" stroke="#FF00FF" stroke-width="1.1"/><line x1="131" y1="185.4" x2="145.3" y2="185.4" stroke="#FF00FF" stroke-width="1.1"/><circle cx="123.2" cy="185.4" r="3" fill="#FF00FF"/><text x="150.3" y="191.8" font-size="19" textLength="25.6" lengthAdjust="spacingAndGlyphs">4 L</text><line x1="100.4" y1="212.3" x2="115.3" y2="212.3" stroke="#808000" stroke-width="1.1"/><line x1="131" y1="212.3" x2="145.3" y2="212.3" stroke="#808000" stroke-width="1.1"/><circle cx="123.2" cy="212.3" r="3" fill="#808000"/><text x="150.3" y="218.7" font-size="19" textLength="25.6" lengthAdjust="spacingAndGlyphs">3 L</text><line x1="100.4" y1="239.2" x2="115.3" y2="239.2" stroke="#000000" stroke-width="1.1"/><line x1="131" y1="239.2" x2="145.3" y2="239.2" stroke="#000000" stroke-width="1.1"/><circle cx="123.2" cy="239.2" r="3" fill="#000000"/><text x="150.3" y="245.6" font-size="19" textLength="76.6" lengthAdjust="spacingAndGlyphs">Substrate</text><line x1="322.5" y1="8.3" x2="322.5" y2="22.8" stroke="#000" stroke-width="1.5"/><path d="M319.7 21.8 L325.3 21.8 L322.5 33.8 Z" fill="#000"/><text x="328" y="24" font-size="19.5">A</text><text x="342.4" y="33" font-size="13.5" textLength="12.6" lengthAdjust="spacingAndGlyphs">1g</text><text x="291.1" y="146.5" font-size="18.5" text-anchor="middle">*</text><line x1="291.5" y1="150.7" x2="291.5" y2="160.7" stroke="#000" stroke-width="1.5"/><path d="M288.6 159.7 L294.4 159.7 L291.5 170.7 Z" fill="#000"/><text x="157.5" y="336.2" font-size="19.5" textLength="11.6" lengthAdjust="spacingAndGlyphs">E</text><text x="168.9" y="346.2" font-size="13.5" textLength="7.4" lengthAdjust="spacingAndGlyphs">g</text><line x1="163.7" y1="348.2" x2="163.7" y2="358" stroke="#000" stroke-width="1.5"/><path d="M160.8 357 L166.6 357 L163.7 368 Z" fill="#000"/><g clip-path="url(#cia)"><path d="M419.8 181 L421.8 174.5 L424.7 155.2 L427.9 140.6 L431.1 145.5 L434.4 150.3 L437.6 167.3 L440.5 181 L442.4 143.9 L444.8 140.6 L448.5 170.5 L450.8 145.5 L454.5 143.9 L458.5 138.2 L462.1 136.6 L465 125.3 L467.4 116.5 L469.8 79 L472.3 114 L474.7 105.2 L478.7 105.2 L482.7 94.7 L486 100.3 L488.4 97.9 L491.6 114 L493.2 97.9 L495.5 92.5 L497.7 91.4 L501.5 85.3 L504.6 82.2 L507.7 83.7 L511.5 78.4 L514.6 76.1 L517.3 80.7 L520 74.5 L523 66.1 L527.6 71.5 L530.7 65.3 L533 48.4 L535.8 63 L538.4 53 L540.7 69.2 L543.8 73.8 L546.1 43.8 L549.1 46.1 L551.4 56.9 L554.5 53.8 L556.8 78.4 L559.1 71.5 L562.2 63 L565 81.4 L567.6 93.7 L570.1 95 L572.5 118.3 L576.7 116.6 L581 114.9 L583.5 124.2 L586 122.5 L588.6 128.4 L591.1 147 L594.5 147.9 L597 144.5 L599.6 142.8 L602.1 163.1 L604.6 138.6 L607.2 152.9 L609.7 153.8 L612.2 152.9" fill="none" stroke="#ff66ff" stroke-width="0.55" stroke-dasharray="1.5 1"/><path d="M419.8 181h0M421.8 174.5h0M424.7 155.2h0M427.9 140.6h0M431.1 145.5h0M434.4 150.3h0M437.6 167.3h0M440.5 181h0M442.4 143.9h0M444.8 140.6h0M448.5 170.5h0M450.8 145.5h0M454.5 143.9h0M458.5 138.2h0M462.1 136.6h0M465 125.3h0M467.4 116.5h0M469.8 79h0M472.3 114h0M474.7 105.2h0M478.7 105.2h0M482.7 94.7h0M486 100.3h0M488.4 97.9h0M491.6 114h0M493.2 97.9h0M495.5 92.5h0M497.7 91.4h0M501.5 85.3h0M504.6 82.2h0M507.7 83.7h0M511.5 78.4h0M514.6 76.1h0M517.3 80.7h0M520 74.5h0M523 66.1h0M527.6 71.5h0M530.7 65.3h0M533 48.4h0M535.8 63h0M538.4 53h0M540.7 69.2h0M543.8 73.8h0M546.1 43.8h0M549.1 46.1h0M551.4 56.9h0M554.5 53.8h0M556.8 78.4h0M559.1 71.5h0M562.2 63h0M565 81.4h0M567.6 93.7h0M570.1 95h0M572.5 118.3h0M576.7 116.6h0M581 114.9h0M583.5 124.2h0M586 122.5h0M588.6 128.4h0M591.1 147h0M594.5 147.9h0M597 144.5h0M599.6 142.8h0M602.1 163.1h0M604.6 138.6h0M607.2 152.9h0M609.7 153.8h0M612.2 152.9h0" stroke="#FF00FF" stroke-width="5.6" stroke-linecap="round" fill="none"/></g><g clip-path="url(#cia)"><path d="M419.8 161.6 L421.5 148.7 L426.3 135.8 L430.3 134.2 L432.7 147.9 L435.2 142.3 L440 139 L443.2 134.2 L447.3 133.4 L451.3 133.4 L453.7 123.7 L456.9 124.5 L461 109.2 L464.2 113.2 L467.4 106.8 L470.6 98.7 L473.1 86.6 L476.3 97.9 L480.3 77.7 L482.7 82.6 L485.2 89 L488.4 111.6 L492.4 119.7 L495.6 119.7 L498.9 126.1 L501.3 118.9 L504.5 123.7 L506.9 137.4 L509.4 119.7 L512.6 121.3 L515.1 120.8 L517.6 134.4 L520.1 122.5 L522.7 119.1 L525.2 130.1 L527.7 117.5 L530.3 120.8 L532.8 134.4 L536.2 124.2 L538.7 127.6 L541.3 123.4 L543.8 131.8 L546.3 126.7 L549.2 120.8 L551.4 133.5 L553.9 130.1 L557 136 L559.3 125.1 L562 137.7 L564.9 134.4 L567.5 142 L570 147 L572.9 147.9 L575.1 160.5 L578.4 158 L581 146.2 L583.5 148.7 L586 146.2 L589.1 156.3 L591.1 157.2 L594.2 158 L596.5 164.8 L598.7 170.7 L602.1 166.5 L604.6 158 L607.2 176.6 L609.7 164.8 L612.2 160.5 L614.8 151.2" fill="none" stroke="#a0a040" stroke-width="0.55"/><path d="M419.8 161.6h0M421.5 148.7h0M426.3 135.8h0M430.3 134.2h0M432.7 147.9h0M435.2 142.3h0M440 139h0M443.2 134.2h0M447.3 133.4h0M451.3 133.4h0M453.7 123.7h0M456.9 124.5h0M461 109.2h0M464.2 113.2h0M467.4 106.8h0M470.6 98.7h0M473.1 86.6h0M476.3 97.9h0M480.3 77.7h0M482.7 82.6h0M485.2 89h0M488.4 111.6h0M492.4 119.7h0M495.6 119.7h0M498.9 126.1h0M501.3 118.9h0M504.5 123.7h0M506.9 137.4h0M509.4 119.7h0M512.6 121.3h0M515.1 120.8h0M517.6 134.4h0M520.1 122.5h0M522.7 119.1h0M525.2 130.1h0M527.7 117.5h0M530.3 120.8h0M532.8 134.4h0M536.2 124.2h0M538.7 127.6h0M541.3 123.4h0M543.8 131.8h0M546.3 126.7h0M549.2 120.8h0M551.4 133.5h0M553.9 130.1h0M557 136h0M559.3 125.1h0M562 137.7h0M564.9 134.4h0M567.5 142h0M570 147h0M572.9 147.9h0M575.1 160.5h0M578.4 158h0M581 146.2h0M583.5 148.7h0M586 146.2h0M589.1 156.3h0M591.1 157.2h0M594.2 158h0M596.5 164.8h0M598.7 170.7h0M602.1 166.5h0M604.6 158h0M607.2 176.6h0M609.7 164.8h0M612.2 160.5h0M614.8 151.2h0" stroke="#808000" stroke-width="5.6" stroke-linecap="round" fill="none"/></g><g clip-path="url(#cia)"><path d="M419.8 157.6 L422.3 158.4 L424.4 142.3 L427.1 127.7 L429.5 151.9 L432.4 157.6 L435.2 156.8 L437.6 149.5 L440.5 148.7 L443.2 139.8 L445.6 147.9 L448.9 140.6 L451.3 151.9 L453.7 141.5 L456.1 124.5 L459.4 128.5 L461.8 124.5 L465 123.7 L466.9 103.5 L469.8 88.2 L471.8 94.7 L474.7 110 L477.6 98.7 L480.3 108.4 L482.7 109.2 L485.2 114.8 L487.9 133.4 L490.8 119.7 L493.2 145.5 L495.6 142.3 L498.9 144.7 L501.6 143.9 L503.7 139 L506.1 148.7 L509.4 142.3 L512.5 149.6 L515.1 138.6 L517.6 149.6 L520.1 164.8 L522.7 155.5 L526.9 154.6 L530.3 159.7 L533.3 156.3 L535.3 165.6 L538.7 166.5 L541.3 161.4 L543.8 170.7 L546.3 164.8 L549.2 158 L552.2 161.4 L554.3 167.3 L557 188.4 L559.8 168.1 L562.4 169.8 L564.9 166.5 L567.5 168.1 L570 175.7 L572.5 169.8 L575.1 169.8 L577.6 158.9 L580.1 169 L582.7 166.5 L586 157.2 L588.6 175.7 L591.1 169 L594 188.8 L596.2 178.3 L598.7 179.1 L601.2 176.6 L604.3 180.8 L607.2 174.9 L610.5 176.6 L613.1 174.9 L613.9 184.2" fill="none" stroke="#555" stroke-width="0.55" stroke-dasharray="1.5 1"/><path d="M419.8 157.6h0M422.3 158.4h0M424.4 142.3h0M427.1 127.7h0M429.5 151.9h0M432.4 157.6h0M435.2 156.8h0M437.6 149.5h0M440.5 148.7h0M443.2 139.8h0M445.6 147.9h0M448.9 140.6h0M451.3 151.9h0M453.7 141.5h0M456.1 124.5h0M459.4 128.5h0M461.8 124.5h0M465 123.7h0M466.9 103.5h0M469.8 88.2h0M471.8 94.7h0M474.7 110h0M477.6 98.7h0M480.3 108.4h0M482.7 109.2h0M485.2 114.8h0M487.9 133.4h0M490.8 119.7h0M493.2 145.5h0M495.6 142.3h0M498.9 144.7h0M501.6 143.9h0M503.7 139h0M506.1 148.7h0M509.4 142.3h0M512.5 149.6h0M515.1 138.6h0M517.6 149.6h0M520.1 164.8h0M522.7 155.5h0M526.9 154.6h0M530.3 159.7h0M533.3 156.3h0M535.3 165.6h0M538.7 166.5h0M541.3 161.4h0M543.8 170.7h0M546.3 164.8h0M549.2 158h0M552.2 161.4h0M554.3 167.3h0M557 188.4h0M559.8 168.1h0M562.4 169.8h0M564.9 166.5h0M567.5 168.1h0M570 175.7h0M572.5 169.8h0M575.1 169.8h0M577.6 158.9h0M580.1 169h0M582.7 166.5h0M586 157.2h0M588.6 175.7h0M591.1 169h0M594 188.8h0M596.2 178.3h0M598.7 179.1h0M601.2 176.6h0M604.3 180.8h0M607.2 174.9h0M610.5 176.6h0M613.1 174.9h0M613.9 184.2h0" stroke="#000000" stroke-width="5.6" stroke-linecap="round" fill="none"/></g><rect x="419.1" y="25.5" width="196.19999999999993" height="175.2" fill="none" stroke="#222" stroke-width="1.2"/><line x1="414.9" y1="200.6" x2="419.1" y2="200.6" stroke="#222" stroke-width="1.1"/><line x1="416.7" y1="188.1" x2="419.1" y2="188.1" stroke="#222" stroke-width="1.1"/><line x1="414.9" y1="175.6" x2="419.1" y2="175.6" stroke="#222" stroke-width="1.1"/><line x1="416.7" y1="163.1" x2="419.1" y2="163.1" stroke="#222" stroke-width="1.1"/><line x1="414.9" y1="150.6" x2="419.1" y2="150.6" stroke="#222" stroke-width="1.1"/><line x1="416.7" y1="138.1" x2="419.1" y2="138.1" stroke="#222" stroke-width="1.1"/><line x1="414.9" y1="125.6" x2="419.1" y2="125.6" stroke="#222" stroke-width="1.1"/><line x1="416.7" y1="113.1" x2="419.1" y2="113.1" stroke="#222" stroke-width="1.1"/><line x1="414.9" y1="100.6" x2="419.1" y2="100.6" stroke="#222" stroke-width="1.1"/><line x1="416.7" y1="88.1" x2="419.1" y2="88.1" stroke="#222" stroke-width="1.1"/><line x1="414.9" y1="75.6" x2="419.1" y2="75.6" stroke="#222" stroke-width="1.1"/><line x1="416.7" y1="63.1" x2="419.1" y2="63.1" stroke="#222" stroke-width="1.1"/><line x1="414.9" y1="50.6" x2="419.1" y2="50.6" stroke="#222" stroke-width="1.1"/><line x1="416.7" y1="38.1" x2="419.1" y2="38.1" stroke="#222" stroke-width="1.1"/><line x1="414.9" y1="25.6" x2="419.1" y2="25.6" stroke="#222" stroke-width="1.1"/><line x1="419.1" y1="200.7" x2="419.1" y2="204.7" stroke="#222" stroke-width="1.1"/><line x1="443.62" y1="200.7" x2="443.62" y2="203.1" stroke="#222" stroke-width="1.1"/><line x1="468.15" y1="200.7" x2="468.15" y2="204.7" stroke="#222" stroke-width="1.1"/><line x1="492.68" y1="200.7" x2="492.68" y2="203.1" stroke="#222" stroke-width="1.1"/><line x1="517.2" y1="200.7" x2="517.2" y2="204.7" stroke="#222" stroke-width="1.1"/><line x1="541.73" y1="200.7" x2="541.73" y2="203.1" stroke="#222" stroke-width="1.1"/><line x1="566.25" y1="200.7" x2="566.25" y2="204.7" stroke="#222" stroke-width="1.1"/><line x1="590.77" y1="200.7" x2="590.77" y2="203.1" stroke="#222" stroke-width="1.1"/><line x1="615.3" y1="200.7" x2="615.3" y2="204.7" stroke="#222" stroke-width="1.1"/><text x="413.3" y="203.3" font-size="15" text-anchor="end" textLength="19.6" lengthAdjust="spacingAndGlyphs">0.2</text><text x="413.3" y="178.3" font-size="15" text-anchor="end" textLength="19.6" lengthAdjust="spacingAndGlyphs">0.4</text><text x="413.3" y="153.3" font-size="15" text-anchor="end" textLength="19.6" lengthAdjust="spacingAndGlyphs">0.6</text><text x="413.3" y="128.3" font-size="15" text-anchor="end" textLength="19.6" lengthAdjust="spacingAndGlyphs">0.8</text><text x="413.3" y="103.3" font-size="15" text-anchor="end" textLength="19.6" lengthAdjust="spacingAndGlyphs">1.0</text><text x="413.3" y="78.3" font-size="15" text-anchor="end" textLength="19.6" lengthAdjust="spacingAndGlyphs">1.2</text><text x="413.3" y="53.3" font-size="15" text-anchor="end" textLength="19.6" lengthAdjust="spacingAndGlyphs">1.4</text><text x="413.3" y="28.3" font-size="15" text-anchor="end" textLength="19.6" lengthAdjust="spacingAndGlyphs">1.6</text><text x="419.1" y="219.2" font-size="14.7" text-anchor="middle" textLength="22.8" lengthAdjust="spacingAndGlyphs">280</text><text x="468.15" y="219.2" font-size="14.7" text-anchor="middle" textLength="22.8" lengthAdjust="spacingAndGlyphs">300</text><text x="517.2" y="219.2" font-size="14.7" text-anchor="middle" textLength="22.8" lengthAdjust="spacingAndGlyphs">320</text><text x="566.25" y="219.2" font-size="14.7" text-anchor="middle" textLength="22.8" lengthAdjust="spacingAndGlyphs">340</text><text x="615.3" y="219.2" font-size="14.7" text-anchor="middle" textLength="22.8" lengthAdjust="spacingAndGlyphs">360</text><text transform="translate(383.8 204.9) rotate(-90)" font-size="15" textLength="179.2" lengthAdjust="spacingAndGlyphs">Normalized Intensity (a.u.)</text><text x="455.8" y="242.3" font-size="15.3" textLength="108.5" lengthAdjust="spacingAndGlyphs">Raman shift (cm</text><text x="566.4" y="232.6" font-size="8.5" textLength="7.2" lengthAdjust="spacingAndGlyphs">-1</text><text x="574.6" y="242.3" font-size="15.3">)</text><text x="462.3" y="42.8" font-size="17.5" textLength="16.3" lengthAdjust="spacingAndGlyphs">Si</text><line x1="471.2" y1="51.6" x2="471.2" y2="62.5" stroke="#000" stroke-width="1.5"/><path d="M468.5 61.5 L473.9 61.5 L471.2 72 Z" fill="#000"/><text x="507.3" y="51.8" font-size="18.5" text-anchor="middle">*</text><line x1="507.7" y1="56.1" x2="507.7" y2="65.8" stroke="#000" stroke-width="1.5"/><path d="M505 64.8 L510.4 64.8 L507.7 75.3 Z" fill="#000"/><line x1="546.8" y1="26.1" x2="546.8" y2="32.5" stroke="#000" stroke-width="1.5"/><path d="M544.1 31.5 L549.5 31.5 L546.8 41.5 Z" fill="#000"/><text x="555.3" y="43" font-size="19">A</text><text x="569.8" y="52.8" font-size="13.5" textLength="12.4" lengthAdjust="spacingAndGlyphs">1g</text><rect x="86.5" y="528.3" width="541.1" height="401.20000000000005" fill="none" stroke="#000" stroke-width="2"/><line x1="77.9" y1="927" x2="86.5" y2="927" stroke="#000" stroke-width="1.7"/><line x1="82.1" y1="902.09" x2="86.5" y2="902.09" stroke="#000" stroke-width="1.7"/><line x1="77.9" y1="877.17" x2="86.5" y2="877.17" stroke="#000" stroke-width="1.7"/><line x1="82.1" y1="852.26" x2="86.5" y2="852.26" stroke="#000" stroke-width="1.7"/><line x1="77.9" y1="827.35" x2="86.5" y2="827.35" stroke="#000" stroke-width="1.7"/><line x1="82.1" y1="802.44" x2="86.5" y2="802.44" stroke="#000" stroke-width="1.7"/><line x1="77.9" y1="777.52" x2="86.5" y2="777.52" stroke="#000" stroke-width="1.7"/><line x1="82.1" y1="752.61" x2="86.5" y2="752.61" stroke="#000" stroke-width="1.7"/><line x1="77.9" y1="727.7" x2="86.5" y2="727.7" stroke="#000" stroke-width="1.7"/><line x1="82.1" y1="702.79" x2="86.5" y2="702.79" stroke="#000" stroke-width="1.7"/><line x1="77.9" y1="677.88" x2="86.5" y2="677.88" stroke="#000" stroke-width="1.7"/><line x1="82.1" y1="652.96" x2="86.5" y2="652.96" stroke="#000" stroke-width="1.7"/><line x1="77.9" y1="628.05" x2="86.5" y2="628.05" stroke="#000" stroke-width="1.7"/><line x1="82.1" y1="603.14" x2="86.5" y2="603.14" stroke="#000" stroke-width="1.7"/><line x1="77.9" y1="578.22" x2="86.5" y2="578.22" stroke="#000" stroke-width="1.7"/><line x1="82.1" y1="553.31" x2="86.5" y2="553.31" stroke="#000" stroke-width="1.7"/><line x1="77.9" y1="528.4" x2="86.5" y2="528.4" stroke="#000" stroke-width="1.7"/><line x1="86.5" y1="929.5" x2="86.5" y2="937.9" stroke="#000" stroke-width="1.7"/><line x1="131.59" y1="929.5" x2="131.59" y2="934.1" stroke="#000" stroke-width="1.7"/><line x1="176.68" y1="929.5" x2="176.68" y2="937.9" stroke="#000" stroke-width="1.7"/><line x1="221.78" y1="929.5" x2="221.78" y2="934.1" stroke="#000" stroke-width="1.7"/><line x1="266.87" y1="929.5" x2="266.87" y2="937.9" stroke="#000" stroke-width="1.7"/><line x1="311.96" y1="929.5" x2="311.96" y2="934.1" stroke="#000" stroke-width="1.7"/><line x1="357.05" y1="929.5" x2="357.05" y2="937.9" stroke="#000" stroke-width="1.7"/><line x1="402.14" y1="929.5" x2="402.14" y2="934.1" stroke="#000" stroke-width="1.7"/><line x1="447.23" y1="929.5" x2="447.23" y2="937.9" stroke="#000" stroke-width="1.7"/><line x1="492.32" y1="929.5" x2="492.32" y2="934.1" stroke="#000" stroke-width="1.7"/><line x1="537.42" y1="929.5" x2="537.42" y2="937.9" stroke="#000" stroke-width="1.7"/><line x1="582.51" y1="929.5" x2="582.51" y2="934.1" stroke="#000" stroke-width="1.7"/><line x1="627.6" y1="929.5" x2="627.6" y2="937.9" stroke="#000" stroke-width="1.7"/><text x="72.9" y="931.6" font-size="19.5" text-anchor="end" textLength="9.8" lengthAdjust="spacingAndGlyphs">0</text><text x="72.9" y="881.77" font-size="19.5" text-anchor="end" textLength="29.4" lengthAdjust="spacingAndGlyphs">250</text><text x="72.9" y="831.95" font-size="19.5" text-anchor="end" textLength="29.4" lengthAdjust="spacingAndGlyphs">500</text><text x="72.9" y="782.12" font-size="19.5" text-anchor="end" textLength="29.4" lengthAdjust="spacingAndGlyphs">750</text><text x="72.9" y="732.3" font-size="19.5" text-anchor="end" textLength="39.2" lengthAdjust="spacingAndGlyphs">1000</text><text x="72.9" y="682.48" font-size="19.5" text-anchor="end" textLength="39.2" lengthAdjust="spacingAndGlyphs">1250</text><text x="72.9" y="632.65" font-size="19.5" text-anchor="end" textLength="39.2" lengthAdjust="spacingAndGlyphs">1500</text><text x="72.9" y="582.82" font-size="19.5" text-anchor="end" textLength="39.2" lengthAdjust="spacingAndGlyphs">1750</text><text x="72.9" y="533" font-size="19.5" text-anchor="end" textLength="39.2" lengthAdjust="spacingAndGlyphs">2000</text><text x="86.5" y="958.5" font-size="19.5" text-anchor="middle" textLength="30" lengthAdjust="spacingAndGlyphs">200</text><text x="176.68" y="958.5" font-size="19.5" text-anchor="middle" textLength="30" lengthAdjust="spacingAndGlyphs">250</text><text x="266.87" y="958.5" font-size="19.5" text-anchor="middle" textLength="30" lengthAdjust="spacingAndGlyphs">300</text><text x="357.05" y="958.5" font-size="19.5" text-anchor="middle" textLength="30" lengthAdjust="spacingAndGlyphs">350</text><text x="447.23" y="958.5" font-size="19.5" text-anchor="middle" textLength="30" lengthAdjust="spacingAndGlyphs">400</text><text x="537.42" y="958.5" font-size="19.5" text-anchor="middle" textLength="30" lengthAdjust="spacingAndGlyphs">450</text><text x="627.6" y="958.5" font-size="19.5" text-anchor="middle" textLength="30" lengthAdjust="spacingAndGlyphs">500</text><text transform="translate(18.8 858.8) rotate(-90)" font-size="19" textLength="231.5" lengthAdjust="spacingAndGlyphs">Normalized Intensity (a.u.)</text><text x="282.3" y="989.3" font-size="19" textLength="128.5" lengthAdjust="spacingAndGlyphs">Raman shift (cm</text><text x="411" y="978.6" font-size="18.5" textLength="14.2" lengthAdjust="spacingAndGlyphs">-1</text><text x="425.6" y="989.3" font-size="19.5">)</text><text x="357" y="1015.3" font-size="17.5" text-anchor="middle" font-weight="bold" textLength="23.8" lengthAdjust="spacingAndGlyphs">(b)</text><rect x="98.5" y="538.5" width="134.5" height="269.6" fill="none" stroke="#222" stroke-width="1.35"/><text x="105.3" y="564.5" font-size="18.7" font-weight="bold" textLength="123" lengthAdjust="spacingAndGlyphs">ZrS<tspan dy="8.6" font-size="11.5">2</tspan><tspan dy="-8.6"> on Si/Au</tspan></text><line x1="104.7" y1="594.6" x2="118.3" y2="594.6" stroke="#800000" stroke-width="1.1"/><line x1="131.9" y1="594.6" x2="145.2" y2="594.6" stroke="#800000" stroke-width="1.1"/><circle cx="124.9" cy="594.6" r="3" fill="#800000"/><text x="150.1" y="601.2" font-size="19.7" textLength="46" lengthAdjust="spacingAndGlyphs">108 L</text><line x1="104.7" y1="623.49" x2="118.3" y2="623.49" stroke="#00FFFF" stroke-width="1.1"/><line x1="131.9" y1="623.49" x2="145.2" y2="623.49" stroke="#00FFFF" stroke-width="1.1"/><circle cx="124.9" cy="623.49" r="3" fill="#00FFFF"/><text x="150.1" y="630.09" font-size="19.7" textLength="36.8" lengthAdjust="spacingAndGlyphs">55 L</text><line x1="104.7" y1="652.38" x2="118.3" y2="652.38" stroke="#00FF00" stroke-width="1.1"/><line x1="131.9" y1="652.38" x2="145.2" y2="652.38" stroke="#00FF00" stroke-width="1.1"/><circle cx="124.9" cy="652.38" r="3" fill="#00FF00"/><text x="150.1" y="658.98" font-size="19.7" textLength="36.8" lengthAdjust="spacingAndGlyphs">22 L</text><line x1="104.7" y1="681.27" x2="118.3" y2="681.27" stroke="#0000FF" stroke-width="1.1"/><line x1="131.9" y1="681.27" x2="145.2" y2="681.27" stroke="#0000FF" stroke-width="1.1"/><circle cx="124.9" cy="681.27" r="3" fill="#0000FF"/><text x="150.1" y="687.87" font-size="19.7" textLength="26.4" lengthAdjust="spacingAndGlyphs">9 L</text><line x1="104.7" y1="710.16" x2="118.3" y2="710.16" stroke="#FF00FF" stroke-width="1.1"/><line x1="131.9" y1="710.16" x2="145.2" y2="710.16" stroke="#FF00FF" stroke-width="1.1"/><circle cx="124.9" cy="710.16" r="3" fill="#FF00FF"/><text x="150.1" y="716.76" font-size="19.7" textLength="26.4" lengthAdjust="spacingAndGlyphs">7 L</text><line x1="104.7" y1="739.05" x2="118.3" y2="739.05" stroke="#808000" stroke-width="1.1"/><line x1="131.9" y1="739.05" x2="145.2" y2="739.05" stroke="#808000" stroke-width="1.1"/><circle cx="124.9" cy="739.05" r="3" fill="#808000"/><text x="150.1" y="745.65" font-size="19.7" textLength="26.4" lengthAdjust="spacingAndGlyphs">4 L</text><line x1="104.7" y1="767.94" x2="118.3" y2="767.94" stroke="#008080" stroke-width="1.1"/><line x1="131.9" y1="767.94" x2="145.2" y2="767.94" stroke="#008080" stroke-width="1.1"/><circle cx="124.9" cy="767.94" r="3" fill="#008080"/><text x="150.1" y="774.54" font-size="19.7" textLength="26.4" lengthAdjust="spacingAndGlyphs">2 L</text><line x1="104.7" y1="796.83" x2="118.3" y2="796.83" stroke="#000000" stroke-width="1.1"/><line x1="131.9" y1="796.83" x2="145.2" y2="796.83" stroke="#000000" stroke-width="1.1"/><circle cx="124.9" cy="796.83" r="3" fill="#000000"/><text x="150.1" y="803.43" font-size="19.7" textLength="80.8" lengthAdjust="spacingAndGlyphs">Substrate</text><text x="298.2" y="543.2" font-size="19.5">A</text><text x="312.3" y="553" font-size="13.5" textLength="13.2" lengthAdjust="spacingAndGlyphs">1g</text><line x1="328.9" y1="538.4" x2="328.9" y2="548.1" stroke="#000" stroke-width="1.5"/><path d="M326.1 547.1 L331.7 547.1 L328.9 558.1 Z" fill="#000"/><text x="297.2" y="673.4" font-size="18" text-anchor="middle">*</text><line x1="296.7" y1="677.8" x2="296.7" y2="686.2" stroke="#000" stroke-width="1.5"/><path d="M293.8 685.2 L299.6 685.2 L296.7 696.2 Z" fill="#000"/><text x="171.2" y="849.8" font-size="19.5" textLength="11.6" lengthAdjust="spacingAndGlyphs">E</text><text x="181.7" y="859" font-size="13.5" textLength="7.2" lengthAdjust="spacingAndGlyphs">g</text><line x1="176.9" y1="866" x2="176.9" y2="875.4" stroke="#000" stroke-width="1.5"/><path d="M174 874.4 L179.8 874.4 L176.9 885.4 Z" fill="#000"/><g clip-path="url(#cib)"><path d="M408.3 735.5 L412 739.5 L415.7 741.4 L419.4 737.7 L423 734.9 L426.7 729.4 L430.4 721.1 L434.1 715.6 L437.8 710 L441.5 698.6 L445.2 689.4 L448.8 675 L452.5 668.9 L456.2 658.1 L459.9 652.5 L463.6 647.4 L467.3 643.3 L471 642.2 L474.7 641.8 L478.3 635.9 L482 634.7 L485.3 630.6 L489.4 631.5 L493.1 623.6 L496.5 619.2 L500.5 610.2 L504.6 604.7 L508.1 595 L511.5 588 L515 577.7 L518.4 575 L521.9 574 L525.3 577.7 L530.2 582.5 L533.6 588.8 L537.1 597 L540.8 609.8 L544.6 616.1 L548.5 627.6 L552.2 635.2 L555.6 644.5 L559.3 654.6 L563.2 669.4 L566.6 678.6 L570 689.1 L574.2 693.8 L578.4 696.3 L581.8 700.6 L584.4 706.5 L587.7 703.9 L592.8 701.4 L597.9 699.7 L602.9 698.5 L607.2 700.9 L611 703.1" fill="none" stroke="#0000FF" stroke-width="1.0"/><path d="M408.3 735.5h0M412 739.5h0M415.7 741.4h0M419.4 737.7h0M423 734.9h0M426.7 729.4h0M430.4 721.1h0M434.1 715.6h0M437.8 710h0M441.5 698.6h0M445.2 689.4h0M448.8 675h0M452.5 668.9h0M456.2 658.1h0M459.9 652.5h0M463.6 647.4h0M467.3 643.3h0M471 642.2h0M474.7 641.8h0M478.3 635.9h0M482 634.7h0M485.3 630.6h0M489.4 631.5h0M493.1 623.6h0M496.5 619.2h0M500.5 610.2h0M504.6 604.7h0M508.1 595h0M511.5 588h0M515 577.7h0M518.4 575h0M521.9 574h0M525.3 577.7h0M530.2 582.5h0M533.6 588.8h0M537.1 597h0M540.8 609.8h0M544.6 616.1h0M548.5 627.6h0M552.2 635.2h0M555.6 644.5h0M559.3 654.6h0M563.2 669.4h0M566.6 678.6h0M570 689.1h0M574.2 693.8h0M578.4 696.3h0M581.8 700.6h0M584.4 706.5h0M587.7 703.9h0M592.8 701.4h0M597.9 699.7h0M602.9 698.5h0M607.2 700.9h0M611 703.1h0" stroke="#0000FF" stroke-width="5.2" stroke-linecap="round" fill="none"/></g><g clip-path="url(#cib)"><path d="M408.3 746 L412 742.3 L415.7 739.5 L419.4 740.5 L423 744.1 L426.7 741.4 L430.4 740.5 L434.1 738.6 L437.8 736.8 L441.5 730.3 L444.2 717 L447.9 706.4 L451.6 698.1 L455.3 689.4 L459.4 683.3 L462.7 674.2 L466.4 671.8 L471 670.6 L475.6 669.1 L480.2 667.8 L484.8 665.1 L489.4 662.3 L493.1 658.6 L496.2 654 L500.5 650.7 L504.7 646.6 L508.4 643.9 L511.5 641.1 L515.2 638.9 L518.9 634.7 L522.2 626.7 L526.1 622.9 L529.9 627.6 L533.7 629.3 L537 636 L540.8 639.4 L544.6 647.5 L548.5 655.5 L551.9 663.1 L555.5 670.8 L559 672.9 L563.2 680.3 L566.6 691.3 L570 699.7 L573.9 705.3 L577.6 714.1 L580.6 720 L584.4 724.2 L588.6 727.6 L592.8 729.3 L597.9 726.7 L602.9 723.4 L607.2 721.7 L611 720.8" fill="none" stroke="#FF00FF" stroke-width="1.0"/><path d="M408.3 746h0M412 742.3h0M415.7 739.5h0M419.4 740.5h0M423 744.1h0M426.7 741.4h0M430.4 740.5h0M434.1 738.6h0M437.8 736.8h0M441.5 730.3h0M444.2 717h0M447.9 706.4h0M451.6 698.1h0M455.3 689.4h0M459.4 683.3h0M462.7 674.2h0M466.4 671.8h0M471 670.6h0M475.6 669.1h0M480.2 667.8h0M484.8 665.1h0M489.4 662.3h0M493.1 658.6h0M496.2 654h0M500.5 650.7h0M504.7 646.6h0M508.4 643.9h0M511.5 641.1h0M515.2 638.9h0M518.9 634.7h0M522.2 626.7h0M526.1 622.9h0M529.9 627.6h0M533.7 629.3h0M537 636h0M540.8 639.4h0M544.6 647.5h0M548.5 655.5h0M551.9 663.1h0M555.5 670.8h0M559 672.9h0M563.2 680.3h0M566.6 691.3h0M570 699.7h0M573.9 705.3h0M577.6 714.1h0M580.6 720h0M584.4 724.2h0M588.6 727.6h0M592.8 729.3h0M597.9 726.7h0M602.9 723.4h0M607.2 721.7h0M611 720.8h0" stroke="#FF00FF" stroke-width="5.2" stroke-linecap="round" fill="none"/></g><g clip-path="url(#cib)"><path d="M408.3 754.3 L412 756 L415.7 757 L419.4 752 L423 748.8 L426.7 747 L430.4 746 L434.1 740.5 L437.8 732.2 L441.5 726.3 L445.2 720.7 L448.8 713.7 L452.5 706 L456.2 700.8 L459.9 695.3 L464.5 695.3 L468.2 693.5 L471.9 691.2 L475.6 689.4 L479.3 689.4 L482.9 689.8 L485.7 684.2 L489.4 677.2 L493.1 671.9 L496.8 670 L500.5 672.8 L504.1 669.1 L507.8 666.8 L511.5 664.4 L515.2 662 L518.6 655.2 L522.2 649.6 L526.1 642.8 L529.9 639.1 L533.7 642.5 L537 651.2 L540.8 654.6 L544.6 667.5 L548.2 677.6 L551.4 691.3 L555.3 698 L559 708.2 L562.4 711.5 L565.8 715.8 L570 725.9 L573.9 729.3 L577.6 731.8 L581 734.4 L584.4 736 L588.6 734.4 L592.8 732.7 L596.2 733.5 L599.6 728.4 L602.9 729.3 L606.3 736.9 L610.5 734.4" fill="none" stroke="#808000" stroke-width="1.0"/><path d="M408.3 754.3h0M412 756h0M415.7 757h0M419.4 752h0M423 748.8h0M426.7 747h0M430.4 746h0M434.1 740.5h0M437.8 732.2h0M441.5 726.3h0M445.2 720.7h0M448.8 713.7h0M452.5 706h0M456.2 700.8h0M459.9 695.3h0M464.5 695.3h0M468.2 693.5h0M471.9 691.2h0M475.6 689.4h0M479.3 689.4h0M482.9 689.8h0M485.7 684.2h0M489.4 677.2h0M493.1 671.9h0M496.8 670h0M500.5 672.8h0M504.1 669.1h0M507.8 666.8h0M511.5 664.4h0M515.2 662h0M518.6 655.2h0M522.2 649.6h0M526.1 642.8h0M529.9 639.1h0M533.7 642.5h0M537 651.2h0M540.8 654.6h0M544.6 667.5h0M548.2 677.6h0M551.4 691.3h0M555.3 698h0M559 708.2h0M562.4 711.5h0M565.8 715.8h0M570 725.9h0M573.9 729.3h0M577.6 731.8h0M581 734.4h0M584.4 736h0M588.6 734.4h0M592.8 732.7h0M596.2 733.5h0M599.6 728.4h0M602.9 729.3h0M606.3 736.9h0M610.5 734.4h0" stroke="#808000" stroke-width="5.2" stroke-linecap="round" fill="none"/></g><g clip-path="url(#cib)"><path d="M408.3 752.4 L412 753.4 L415.7 752.4 L419.4 753.4 L423 747.8 L426.7 746.9 L430.4 748.8 L434.1 744.1 L437.8 742.3 L441.5 731.2 L445.2 724.8 L448.8 720.2 L452.5 713.4 L456.2 714.7 L459.9 710 L463.6 711.9 L467.3 712.8 L471 709.1 L474.7 711 L478.3 701.8 L482 698.1 L485.7 693.5 L489.4 692.5 L493.1 694.4 L496.8 688.8 L500.5 685.2 L503.6 678.4 L507.8 672.8 L511.5 676 L515.1 670 L519 669.1 L522.5 670 L526.1 675 L530.1 677 L534.1 677.2 L538.3 676.8 L542.6 677.6 L546.3 687 L550.6 687 L554.8 691.3 L559 697.2 L563.2 703.1 L566.6 707.3 L570 714.9 L573.9 721.7 L577.6 728.4 L581 735.2 L584.4 740.3 L588.6 736 L592.5 731.8 L595.8 726.7 L599.6 722.5 L603.3 717.5 L607.2 718.3 L611 723.4" fill="none" stroke="#008080" stroke-width="1.0"/><path d="M408.3 752.4h0M412 753.4h0M415.7 752.4h0M419.4 753.4h0M423 747.8h0M426.7 746.9h0M430.4 748.8h0M434.1 744.1h0M437.8 742.3h0M441.5 731.2h0M445.2 724.8h0M448.8 720.2h0M452.5 713.4h0M456.2 714.7h0M459.9 710h0M463.6 711.9h0M467.3 712.8h0M471 709.1h0M474.7 711h0M478.3 701.8h0M482 698.1h0M485.7 693.5h0M489.4 692.5h0M493.1 694.4h0M496.8 688.8h0M500.5 685.2h0M503.6 678.4h0M507.8 672.8h0M511.5 676h0M515.1 670h0M519 669.1h0M522.5 670h0M526.1 675h0M530.1 677h0M534.1 677.2h0M538.3 676.8h0M542.6 677.6h0M546.3 687h0M550.6 687h0M554.8 691.3h0M559 697.2h0M563.2 703.1h0M566.6 707.3h0M570 714.9h0M573.9 721.7h0M577.6 728.4h0M581 735.2h0M584.4 740.3h0M588.6 736h0M592.5 731.8h0M595.8 726.7h0M599.6 722.5h0M603.3 717.5h0M607.2 718.3h0M611 723.4h0" stroke="#008080" stroke-width="5.2" stroke-linecap="round" fill="none"/></g><g clip-path="url(#cib)"><path d="M408.3 756.1 L412 758.9 L415.7 760.7 L419.4 761.7 L423 762 L426.7 761.3 L430.4 759.8 L434.1 758 L437.8 756.1 L441.5 755.8 L445.2 756.1 L448.8 757 L452.5 755.8 L456.2 752.4 L459.9 749.7 L463.6 748.8 L467.3 748.4 L471 752.8 L474.7 751.5 L478.3 755.2 L482 758.9 L485.7 763.5 L489.4 765 L493.1 764.4 L496.8 761.7 L500.5 759.4 L504.1 758 L507.8 757 L511.5 752.1 L515.2 754.3 L518.9 755.8 L523.5 758 L528.6 758.9 L532.8 759.7 L537 758 L542.1 756.3 L547.2 754.6 L551.4 758 L555.6 759.7 L560.7 761.4 L565.8 763.1 L569.1 765.6 L572.5 765.6 L576.7 762.2 L581 759.7 L584.4 754.6 L588.6 752.1 L592.8 749.6 L597.9 747.9 L602.1 749.6 L606.3 752.9 L610.5 756.3" fill="none" stroke="#000000" stroke-width="1.0"/><path d="M408.3 756.1h0M412 758.9h0M415.7 760.7h0M419.4 761.7h0M423 762h0M426.7 761.3h0M430.4 759.8h0M434.1 758h0M437.8 756.1h0M441.5 755.8h0M445.2 756.1h0M448.8 757h0M452.5 755.8h0M456.2 752.4h0M459.9 749.7h0M463.6 748.8h0M467.3 748.4h0M471 752.8h0M474.7 751.5h0M478.3 755.2h0M482 758.9h0M485.7 763.5h0M489.4 765h0M493.1 764.4h0M496.8 761.7h0M500.5 759.4h0M504.1 758h0M507.8 757h0M511.5 752.1h0M515.2 754.3h0M518.9 755.8h0M523.5 758h0M528.6 758.9h0M532.8 759.7h0M537 758h0M542.1 756.3h0M547.2 754.6h0M551.4 758h0M555.6 759.7h0M560.7 761.4h0M565.8 763.1h0M569.1 765.6h0M572.5 765.6h0M576.7 762.2h0M581 759.7h0M584.4 754.6h0M588.6 752.1h0M592.8 749.6h0M597.9 747.9h0M602.1 749.6h0M606.3 752.9h0M610.5 756.3h0" stroke="#000000" stroke-width="5.2" stroke-linecap="round" fill="none"/></g><rect x="407.0" y="538.4" width="205.29999999999995" height="229.20000000000005" fill="none" stroke="#333" stroke-width="1.2"/><line x1="402.8" y1="764.8" x2="407" y2="764.8" stroke="#333" stroke-width="1.1"/><line x1="404.6" y1="750.65" x2="407" y2="750.65" stroke="#333" stroke-width="1.1"/><line x1="402.8" y1="736.5" x2="407" y2="736.5" stroke="#333" stroke-width="1.1"/><line x1="404.6" y1="722.35" x2="407" y2="722.35" stroke="#333" stroke-width="1.1"/><line x1="402.8" y1="708.2" x2="407" y2="708.2" stroke="#333" stroke-width="1.1"/><line x1="404.6" y1="694.05" x2="407" y2="694.05" stroke="#333" stroke-width="1.1"/><line x1="402.8" y1="679.9" x2="407" y2="679.9" stroke="#333" stroke-width="1.1"/><line x1="404.6" y1="665.75" x2="407" y2="665.75" stroke="#333" stroke-width="1.1"/><line x1="402.8" y1="651.6" x2="407" y2="651.6" stroke="#333" stroke-width="1.1"/><line x1="404.6" y1="637.45" x2="407" y2="637.45" stroke="#333" stroke-width="1.1"/><line x1="402.8" y1="623.3" x2="407" y2="623.3" stroke="#333" stroke-width="1.1"/><line x1="404.6" y1="609.15" x2="407" y2="609.15" stroke="#333" stroke-width="1.1"/><line x1="402.8" y1="595" x2="407" y2="595" stroke="#333" stroke-width="1.1"/><line x1="404.6" y1="580.85" x2="407" y2="580.85" stroke="#333" stroke-width="1.1"/><line x1="402.8" y1="566.7" x2="407" y2="566.7" stroke="#333" stroke-width="1.1"/><line x1="404.6" y1="552.55" x2="407" y2="552.55" stroke="#333" stroke-width="1.1"/><line x1="402.8" y1="538.4" x2="407" y2="538.4" stroke="#333" stroke-width="1.1"/><line x1="407" y1="767.6" x2="407" y2="771.6" stroke="#333" stroke-width="1.1"/><line x1="441.22" y1="767.6" x2="441.22" y2="770" stroke="#333" stroke-width="1.1"/><line x1="475.43" y1="767.6" x2="475.43" y2="771.6" stroke="#333" stroke-width="1.1"/><line x1="509.65" y1="767.6" x2="509.65" y2="770" stroke="#333" stroke-width="1.1"/><line x1="543.87" y1="767.6" x2="543.87" y2="771.6" stroke="#333" stroke-width="1.1"/><line x1="578.08" y1="767.6" x2="578.08" y2="770" stroke="#333" stroke-width="1.1"/><line x1="612.3" y1="767.6" x2="612.3" y2="771.6" stroke="#333" stroke-width="1.1"/><text x="401.3" y="767.8" font-size="15" text-anchor="end" textLength="7.55" lengthAdjust="spacingAndGlyphs">0</text><text x="401.3" y="739.5" font-size="15" text-anchor="end" textLength="15.1" lengthAdjust="spacingAndGlyphs">20</text><text x="401.3" y="711.2" font-size="15" text-anchor="end" textLength="15.1" lengthAdjust="spacingAndGlyphs">40</text><text x="401.3" y="682.9" font-size="15" text-anchor="end" textLength="15.1" lengthAdjust="spacingAndGlyphs">60</text><text x="401.3" y="654.6" font-size="15" text-anchor="end" textLength="15.1" lengthAdjust="spacingAndGlyphs">80</text><text x="401.3" y="626.3" font-size="15" text-anchor="end" textLength="22.65" lengthAdjust="spacingAndGlyphs">100</text><text x="401.3" y="598" font-size="15" text-anchor="end" textLength="22.65" lengthAdjust="spacingAndGlyphs">120</text><text x="401.3" y="569.7" font-size="15" text-anchor="end" textLength="22.65" lengthAdjust="spacingAndGlyphs">140</text><text x="401.3" y="541.4" font-size="15" text-anchor="end" textLength="22.65" lengthAdjust="spacingAndGlyphs">160</text><text x="407" y="783.4" font-size="14.5" text-anchor="middle" textLength="22.3" lengthAdjust="spacingAndGlyphs">300</text><text x="475.43" y="783.4" font-size="14.5" text-anchor="middle" textLength="22.3" lengthAdjust="spacingAndGlyphs">320</text><text x="543.87" y="783.4" font-size="14.5" text-anchor="middle" textLength="22.3" lengthAdjust="spacingAndGlyphs">340</text><text x="612.3" y="783.4" font-size="14.5" text-anchor="middle" textLength="22.3" lengthAdjust="spacingAndGlyphs">360</text><text transform="translate(370.6 750.2) rotate(-90)" font-size="15" textLength="173.6" lengthAdjust="spacingAndGlyphs">Normalized Intensity (a.u.)</text><text x="451" y="804.8" font-size="15.5" textLength="76.8" lengthAdjust="spacingAndGlyphs">Raman shift</text><text x="531.8" y="805" font-size="8">(</text><text x="534.8" y="804.8" font-size="15.5" textLength="18" lengthAdjust="spacingAndGlyphs">cm</text><text x="554" y="800.2" font-size="14.5" textLength="11.6" lengthAdjust="spacingAndGlyphs">-1</text><text x="566.2" y="805" font-size="8">)</text><text x="484.3" y="559.6" font-size="19">A</text><text x="498.3" y="569.6" font-size="13.5" textLength="12.2" lengthAdjust="spacingAndGlyphs">1g</text><line x1="518.7" y1="550.5" x2="518.7" y2="559.4" stroke="#000" stroke-width="1.5"/><path d="M515.9 558.4 L521.5 558.4 L518.7 569.4 Z" fill="#000"/><text x="467.8" y="593.2" font-size="18" text-anchor="middle">*</text><line x1="467.7" y1="604" x2="467.7" y2="613.3" stroke="#000" stroke-width="1.5"/><path d="M464.9 612.3 L470.5 612.3 L467.7 623.3 Z" fill="#000"/></svg></body></html>
